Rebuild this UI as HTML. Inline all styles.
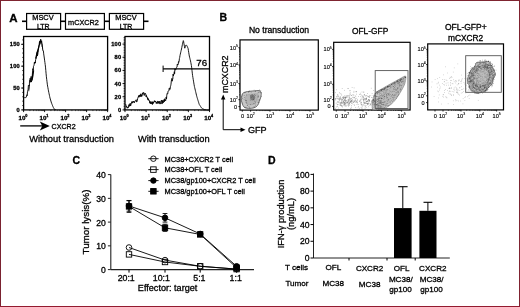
<!DOCTYPE html>
<html><head><meta charset="utf-8"><title>Figure</title>
<style>
html,body{margin:0;padding:0;background:#fff;}
body{width:520px;height:307px;overflow:hidden;}
svg{display:block;}
text{font-family:"Liberation Sans", Arial, Helvetica, sans-serif;fill:#000;stroke:#000;stroke-width:0.3px;}
</style></head><body>
<svg width="520" height="307" viewBox="0 0 520 307">
<rect x="0" y="0" width="520" height="307" fill="#fff"/>
<text x="9.30" y="22.20" font-size="11.5" text-anchor="start" font-weight="bold" >A</text>
<line x1="22.00" y1="21.30" x2="26.60" y2="21.30" stroke="#000" stroke-width="1.6" />
<rect x="26.60" y="13.50" width="34.00" height="15.80" stroke="#000" stroke-width="1.2" fill="none" />
<text x="42.90" y="20.20" font-size="7.4" text-anchor="middle" font-weight="normal" >MSCV</text>
<text x="43.30" y="28.60" font-size="7.0" text-anchor="middle" font-weight="normal" >LTR</text>
<line x1="60.60" y1="21.30" x2="65.50" y2="21.30" stroke="#000" stroke-width="1.6" />
<rect x="65.50" y="13.50" width="38.90" height="15.80" stroke="#000" stroke-width="1.2" fill="none" />
<text x="83.50" y="24.50" font-size="7.3" text-anchor="middle" font-weight="normal" >mCXCR2</text>
<line x1="104.40" y1="21.30" x2="109.40" y2="21.30" stroke="#000" stroke-width="1.6" />
<rect x="109.40" y="13.50" width="34.20" height="15.80" stroke="#000" stroke-width="1.2" fill="none" />
<text x="125.90" y="20.20" font-size="7.4" text-anchor="middle" font-weight="normal" >MSCV</text>
<text x="126.00" y="28.60" font-size="7.0" text-anchor="middle" font-weight="normal" >LTR</text>
<line x1="143.60" y1="21.30" x2="148.50" y2="21.30" stroke="#000" stroke-width="1.6" />
<rect x="23.60" y="36.50" width="84.00" height="73.40" stroke="#000" stroke-width="1.3" fill="none" />
<line x1="22.20" y1="109.90" x2="23.60" y2="109.90" stroke="#000" stroke-width="0.7" />
<line x1="22.20" y1="105.53" x2="23.60" y2="105.53" stroke="#000" stroke-width="0.7" />
<line x1="22.20" y1="101.15" x2="23.60" y2="101.15" stroke="#000" stroke-width="0.7" />
<line x1="22.20" y1="96.78" x2="23.60" y2="96.78" stroke="#000" stroke-width="0.7" />
<line x1="22.20" y1="92.41" x2="23.60" y2="92.41" stroke="#000" stroke-width="0.7" />
<line x1="22.20" y1="88.03" x2="23.60" y2="88.03" stroke="#000" stroke-width="0.7" />
<line x1="22.20" y1="83.66" x2="23.60" y2="83.66" stroke="#000" stroke-width="0.7" />
<line x1="22.20" y1="79.29" x2="23.60" y2="79.29" stroke="#000" stroke-width="0.7" />
<line x1="22.20" y1="74.92" x2="23.60" y2="74.92" stroke="#000" stroke-width="0.7" />
<line x1="22.20" y1="70.54" x2="23.60" y2="70.54" stroke="#000" stroke-width="0.7" />
<line x1="22.20" y1="66.17" x2="23.60" y2="66.17" stroke="#000" stroke-width="0.7" />
<line x1="22.20" y1="61.80" x2="23.60" y2="61.80" stroke="#000" stroke-width="0.7" />
<line x1="22.20" y1="57.42" x2="23.60" y2="57.42" stroke="#000" stroke-width="0.7" />
<line x1="22.20" y1="53.05" x2="23.60" y2="53.05" stroke="#000" stroke-width="0.7" />
<line x1="22.20" y1="48.68" x2="23.60" y2="48.68" stroke="#000" stroke-width="0.7" />
<line x1="22.20" y1="44.31" x2="23.60" y2="44.31" stroke="#000" stroke-width="0.7" />
<line x1="22.20" y1="39.93" x2="23.60" y2="39.93" stroke="#000" stroke-width="0.7" />
<line x1="21.10" y1="109.90" x2="23.60" y2="109.90" stroke="#000" stroke-width="0.9" />
<text x="20.00" y="111.90" font-size="5.7" text-anchor="end" font-weight="bold" letter-spacing="0.25">0</text>
<line x1="21.10" y1="88.03" x2="23.60" y2="88.03" stroke="#000" stroke-width="0.9" />
<text x="20.00" y="90.03" font-size="5.7" text-anchor="end" font-weight="bold" letter-spacing="0.25">50</text>
<line x1="21.10" y1="66.17" x2="23.60" y2="66.17" stroke="#000" stroke-width="0.9" />
<text x="20.00" y="68.17" font-size="5.7" text-anchor="end" font-weight="bold" letter-spacing="0.25">100</text>
<line x1="21.10" y1="44.31" x2="23.60" y2="44.31" stroke="#000" stroke-width="0.9" />
<text x="20.00" y="46.31" font-size="5.7" text-anchor="end" font-weight="bold" letter-spacing="0.25">150</text>
<line x1="23.60" y1="109.90" x2="23.60" y2="112.10" stroke="#000" stroke-width="0.9" />
<text x="21.90" y="119.60" font-size="6.2" text-anchor="middle" font-weight="bold" >10</text>
<text x="25.20" y="116.60" font-size="3.8" text-anchor="start" font-weight="bold" >0</text>
<line x1="29.92" y1="109.90" x2="29.92" y2="111.10" stroke="#000" stroke-width="0.6" />
<line x1="33.62" y1="109.90" x2="33.62" y2="111.10" stroke="#000" stroke-width="0.6" />
<line x1="36.24" y1="109.90" x2="36.24" y2="111.10" stroke="#000" stroke-width="0.6" />
<line x1="38.28" y1="109.90" x2="38.28" y2="111.10" stroke="#000" stroke-width="0.6" />
<line x1="39.94" y1="109.90" x2="39.94" y2="111.10" stroke="#000" stroke-width="0.6" />
<line x1="41.35" y1="109.90" x2="41.35" y2="111.10" stroke="#000" stroke-width="0.6" />
<line x1="42.56" y1="109.90" x2="42.56" y2="111.10" stroke="#000" stroke-width="0.6" />
<line x1="43.64" y1="109.90" x2="43.64" y2="111.10" stroke="#000" stroke-width="0.6" />
<line x1="44.60" y1="109.90" x2="44.60" y2="112.10" stroke="#000" stroke-width="0.9" />
<text x="42.90" y="119.60" font-size="6.2" text-anchor="middle" font-weight="bold" >10</text>
<text x="46.20" y="116.60" font-size="3.8" text-anchor="start" font-weight="bold" >1</text>
<line x1="50.92" y1="109.90" x2="50.92" y2="111.10" stroke="#000" stroke-width="0.6" />
<line x1="54.62" y1="109.90" x2="54.62" y2="111.10" stroke="#000" stroke-width="0.6" />
<line x1="57.24" y1="109.90" x2="57.24" y2="111.10" stroke="#000" stroke-width="0.6" />
<line x1="59.28" y1="109.90" x2="59.28" y2="111.10" stroke="#000" stroke-width="0.6" />
<line x1="60.94" y1="109.90" x2="60.94" y2="111.10" stroke="#000" stroke-width="0.6" />
<line x1="62.35" y1="109.90" x2="62.35" y2="111.10" stroke="#000" stroke-width="0.6" />
<line x1="63.56" y1="109.90" x2="63.56" y2="111.10" stroke="#000" stroke-width="0.6" />
<line x1="64.64" y1="109.90" x2="64.64" y2="111.10" stroke="#000" stroke-width="0.6" />
<line x1="65.60" y1="109.90" x2="65.60" y2="112.10" stroke="#000" stroke-width="0.9" />
<text x="63.90" y="119.60" font-size="6.2" text-anchor="middle" font-weight="bold" >10</text>
<text x="67.20" y="116.60" font-size="3.8" text-anchor="start" font-weight="bold" >2</text>
<line x1="71.92" y1="109.90" x2="71.92" y2="111.10" stroke="#000" stroke-width="0.6" />
<line x1="75.62" y1="109.90" x2="75.62" y2="111.10" stroke="#000" stroke-width="0.6" />
<line x1="78.24" y1="109.90" x2="78.24" y2="111.10" stroke="#000" stroke-width="0.6" />
<line x1="80.28" y1="109.90" x2="80.28" y2="111.10" stroke="#000" stroke-width="0.6" />
<line x1="81.94" y1="109.90" x2="81.94" y2="111.10" stroke="#000" stroke-width="0.6" />
<line x1="83.35" y1="109.90" x2="83.35" y2="111.10" stroke="#000" stroke-width="0.6" />
<line x1="84.56" y1="109.90" x2="84.56" y2="111.10" stroke="#000" stroke-width="0.6" />
<line x1="85.64" y1="109.90" x2="85.64" y2="111.10" stroke="#000" stroke-width="0.6" />
<line x1="86.60" y1="109.90" x2="86.60" y2="112.10" stroke="#000" stroke-width="0.9" />
<text x="84.90" y="119.60" font-size="6.2" text-anchor="middle" font-weight="bold" >10</text>
<text x="88.20" y="116.60" font-size="3.8" text-anchor="start" font-weight="bold" >3</text>
<line x1="92.92" y1="109.90" x2="92.92" y2="111.10" stroke="#000" stroke-width="0.6" />
<line x1="96.62" y1="109.90" x2="96.62" y2="111.10" stroke="#000" stroke-width="0.6" />
<line x1="99.24" y1="109.90" x2="99.24" y2="111.10" stroke="#000" stroke-width="0.6" />
<line x1="101.28" y1="109.90" x2="101.28" y2="111.10" stroke="#000" stroke-width="0.6" />
<line x1="102.94" y1="109.90" x2="102.94" y2="111.10" stroke="#000" stroke-width="0.6" />
<line x1="104.35" y1="109.90" x2="104.35" y2="111.10" stroke="#000" stroke-width="0.6" />
<line x1="105.56" y1="109.90" x2="105.56" y2="111.10" stroke="#000" stroke-width="0.6" />
<line x1="106.64" y1="109.90" x2="106.64" y2="111.10" stroke="#000" stroke-width="0.6" />
<line x1="107.60" y1="109.90" x2="107.60" y2="112.10" stroke="#000" stroke-width="0.9" />
<text x="105.90" y="119.60" font-size="6.2" text-anchor="middle" font-weight="bold" >10</text>
<text x="109.20" y="116.60" font-size="3.8" text-anchor="start" font-weight="bold" >4</text>
<rect x="125.00" y="36.50" width="84.50" height="73.40" stroke="#000" stroke-width="1.3" fill="none" />
<line x1="123.60" y1="109.90" x2="125.00" y2="109.90" stroke="#000" stroke-width="0.7" />
<line x1="123.60" y1="108.26" x2="125.00" y2="108.26" stroke="#000" stroke-width="0.7" />
<line x1="123.60" y1="106.61" x2="125.00" y2="106.61" stroke="#000" stroke-width="0.7" />
<line x1="123.60" y1="104.97" x2="125.00" y2="104.97" stroke="#000" stroke-width="0.7" />
<line x1="123.60" y1="103.32" x2="125.00" y2="103.32" stroke="#000" stroke-width="0.7" />
<line x1="123.60" y1="101.68" x2="125.00" y2="101.68" stroke="#000" stroke-width="0.7" />
<line x1="123.60" y1="100.03" x2="125.00" y2="100.03" stroke="#000" stroke-width="0.7" />
<line x1="123.60" y1="98.39" x2="125.00" y2="98.39" stroke="#000" stroke-width="0.7" />
<line x1="123.60" y1="96.74" x2="125.00" y2="96.74" stroke="#000" stroke-width="0.7" />
<line x1="123.60" y1="95.09" x2="125.00" y2="95.09" stroke="#000" stroke-width="0.7" />
<line x1="123.60" y1="93.45" x2="125.00" y2="93.45" stroke="#000" stroke-width="0.7" />
<line x1="123.60" y1="91.81" x2="125.00" y2="91.81" stroke="#000" stroke-width="0.7" />
<line x1="123.60" y1="90.16" x2="125.00" y2="90.16" stroke="#000" stroke-width="0.7" />
<line x1="123.60" y1="88.52" x2="125.00" y2="88.52" stroke="#000" stroke-width="0.7" />
<line x1="123.60" y1="86.87" x2="125.00" y2="86.87" stroke="#000" stroke-width="0.7" />
<line x1="123.60" y1="85.23" x2="125.00" y2="85.23" stroke="#000" stroke-width="0.7" />
<line x1="123.60" y1="83.58" x2="125.00" y2="83.58" stroke="#000" stroke-width="0.7" />
<line x1="123.60" y1="81.94" x2="125.00" y2="81.94" stroke="#000" stroke-width="0.7" />
<line x1="123.60" y1="80.29" x2="125.00" y2="80.29" stroke="#000" stroke-width="0.7" />
<line x1="123.60" y1="78.65" x2="125.00" y2="78.65" stroke="#000" stroke-width="0.7" />
<line x1="123.60" y1="77.00" x2="125.00" y2="77.00" stroke="#000" stroke-width="0.7" />
<line x1="123.60" y1="75.36" x2="125.00" y2="75.36" stroke="#000" stroke-width="0.7" />
<line x1="123.60" y1="73.71" x2="125.00" y2="73.71" stroke="#000" stroke-width="0.7" />
<line x1="123.60" y1="72.06" x2="125.00" y2="72.06" stroke="#000" stroke-width="0.7" />
<line x1="123.60" y1="70.42" x2="125.00" y2="70.42" stroke="#000" stroke-width="0.7" />
<line x1="123.60" y1="68.78" x2="125.00" y2="68.78" stroke="#000" stroke-width="0.7" />
<line x1="123.60" y1="67.13" x2="125.00" y2="67.13" stroke="#000" stroke-width="0.7" />
<line x1="123.60" y1="65.49" x2="125.00" y2="65.49" stroke="#000" stroke-width="0.7" />
<line x1="123.60" y1="63.84" x2="125.00" y2="63.84" stroke="#000" stroke-width="0.7" />
<line x1="123.60" y1="62.20" x2="125.00" y2="62.20" stroke="#000" stroke-width="0.7" />
<line x1="123.60" y1="60.55" x2="125.00" y2="60.55" stroke="#000" stroke-width="0.7" />
<line x1="123.60" y1="58.91" x2="125.00" y2="58.91" stroke="#000" stroke-width="0.7" />
<line x1="123.60" y1="57.26" x2="125.00" y2="57.26" stroke="#000" stroke-width="0.7" />
<line x1="123.60" y1="55.62" x2="125.00" y2="55.62" stroke="#000" stroke-width="0.7" />
<line x1="123.60" y1="53.97" x2="125.00" y2="53.97" stroke="#000" stroke-width="0.7" />
<line x1="123.60" y1="52.33" x2="125.00" y2="52.33" stroke="#000" stroke-width="0.7" />
<line x1="123.60" y1="50.68" x2="125.00" y2="50.68" stroke="#000" stroke-width="0.7" />
<line x1="123.60" y1="49.04" x2="125.00" y2="49.04" stroke="#000" stroke-width="0.7" />
<line x1="123.60" y1="47.39" x2="125.00" y2="47.39" stroke="#000" stroke-width="0.7" />
<line x1="123.60" y1="45.75" x2="125.00" y2="45.75" stroke="#000" stroke-width="0.7" />
<line x1="123.60" y1="44.10" x2="125.00" y2="44.10" stroke="#000" stroke-width="0.7" />
<line x1="123.60" y1="42.45" x2="125.00" y2="42.45" stroke="#000" stroke-width="0.7" />
<line x1="123.60" y1="40.81" x2="125.00" y2="40.81" stroke="#000" stroke-width="0.7" />
<line x1="123.60" y1="39.17" x2="125.00" y2="39.17" stroke="#000" stroke-width="0.7" />
<line x1="123.60" y1="37.52" x2="125.00" y2="37.52" stroke="#000" stroke-width="0.7" />
<line x1="122.50" y1="109.90" x2="125.00" y2="109.90" stroke="#000" stroke-width="0.9" />
<text x="121.40" y="111.90" font-size="5.7" text-anchor="end" font-weight="bold" letter-spacing="0.25">0</text>
<line x1="122.50" y1="96.74" x2="125.00" y2="96.74" stroke="#000" stroke-width="0.9" />
<text x="121.40" y="98.74" font-size="5.7" text-anchor="end" font-weight="bold" letter-spacing="0.25">20</text>
<line x1="122.50" y1="83.58" x2="125.00" y2="83.58" stroke="#000" stroke-width="0.9" />
<text x="121.40" y="85.58" font-size="5.7" text-anchor="end" font-weight="bold" letter-spacing="0.25">40</text>
<line x1="122.50" y1="70.42" x2="125.00" y2="70.42" stroke="#000" stroke-width="0.9" />
<text x="121.40" y="72.42" font-size="5.7" text-anchor="end" font-weight="bold" letter-spacing="0.25">60</text>
<line x1="122.50" y1="57.26" x2="125.00" y2="57.26" stroke="#000" stroke-width="0.9" />
<text x="121.40" y="59.26" font-size="5.7" text-anchor="end" font-weight="bold" letter-spacing="0.25">80</text>
<line x1="122.50" y1="44.10" x2="125.00" y2="44.10" stroke="#000" stroke-width="0.9" />
<text x="121.40" y="46.10" font-size="5.7" text-anchor="end" font-weight="bold" letter-spacing="0.25">100</text>
<line x1="125.00" y1="109.90" x2="125.00" y2="112.10" stroke="#000" stroke-width="0.9" />
<text x="123.30" y="119.60" font-size="6.2" text-anchor="middle" font-weight="bold" >10</text>
<text x="126.60" y="116.60" font-size="3.8" text-anchor="start" font-weight="bold" >0</text>
<line x1="131.36" y1="109.90" x2="131.36" y2="111.10" stroke="#000" stroke-width="0.6" />
<line x1="135.08" y1="109.90" x2="135.08" y2="111.10" stroke="#000" stroke-width="0.6" />
<line x1="137.72" y1="109.90" x2="137.72" y2="111.10" stroke="#000" stroke-width="0.6" />
<line x1="139.77" y1="109.90" x2="139.77" y2="111.10" stroke="#000" stroke-width="0.6" />
<line x1="141.44" y1="109.90" x2="141.44" y2="111.10" stroke="#000" stroke-width="0.6" />
<line x1="142.85" y1="109.90" x2="142.85" y2="111.10" stroke="#000" stroke-width="0.6" />
<line x1="144.08" y1="109.90" x2="144.08" y2="111.10" stroke="#000" stroke-width="0.6" />
<line x1="145.16" y1="109.90" x2="145.16" y2="111.10" stroke="#000" stroke-width="0.6" />
<line x1="146.12" y1="109.90" x2="146.12" y2="112.10" stroke="#000" stroke-width="0.9" />
<text x="144.43" y="119.60" font-size="6.2" text-anchor="middle" font-weight="bold" >10</text>
<text x="147.72" y="116.60" font-size="3.8" text-anchor="start" font-weight="bold" >1</text>
<line x1="152.48" y1="109.90" x2="152.48" y2="111.10" stroke="#000" stroke-width="0.6" />
<line x1="156.20" y1="109.90" x2="156.20" y2="111.10" stroke="#000" stroke-width="0.6" />
<line x1="158.84" y1="109.90" x2="158.84" y2="111.10" stroke="#000" stroke-width="0.6" />
<line x1="160.89" y1="109.90" x2="160.89" y2="111.10" stroke="#000" stroke-width="0.6" />
<line x1="162.56" y1="109.90" x2="162.56" y2="111.10" stroke="#000" stroke-width="0.6" />
<line x1="163.98" y1="109.90" x2="163.98" y2="111.10" stroke="#000" stroke-width="0.6" />
<line x1="165.20" y1="109.90" x2="165.20" y2="111.10" stroke="#000" stroke-width="0.6" />
<line x1="166.28" y1="109.90" x2="166.28" y2="111.10" stroke="#000" stroke-width="0.6" />
<line x1="167.25" y1="109.90" x2="167.25" y2="112.10" stroke="#000" stroke-width="0.9" />
<text x="165.55" y="119.60" font-size="6.2" text-anchor="middle" font-weight="bold" >10</text>
<text x="168.85" y="116.60" font-size="3.8" text-anchor="start" font-weight="bold" >2</text>
<line x1="173.61" y1="109.90" x2="173.61" y2="111.10" stroke="#000" stroke-width="0.6" />
<line x1="177.33" y1="109.90" x2="177.33" y2="111.10" stroke="#000" stroke-width="0.6" />
<line x1="179.97" y1="109.90" x2="179.97" y2="111.10" stroke="#000" stroke-width="0.6" />
<line x1="182.02" y1="109.90" x2="182.02" y2="111.10" stroke="#000" stroke-width="0.6" />
<line x1="183.69" y1="109.90" x2="183.69" y2="111.10" stroke="#000" stroke-width="0.6" />
<line x1="185.10" y1="109.90" x2="185.10" y2="111.10" stroke="#000" stroke-width="0.6" />
<line x1="186.33" y1="109.90" x2="186.33" y2="111.10" stroke="#000" stroke-width="0.6" />
<line x1="187.41" y1="109.90" x2="187.41" y2="111.10" stroke="#000" stroke-width="0.6" />
<line x1="188.38" y1="109.90" x2="188.38" y2="112.10" stroke="#000" stroke-width="0.9" />
<text x="186.68" y="119.60" font-size="6.2" text-anchor="middle" font-weight="bold" >10</text>
<text x="189.97" y="116.60" font-size="3.8" text-anchor="start" font-weight="bold" >3</text>
<line x1="194.73" y1="109.90" x2="194.73" y2="111.10" stroke="#000" stroke-width="0.6" />
<line x1="198.45" y1="109.90" x2="198.45" y2="111.10" stroke="#000" stroke-width="0.6" />
<line x1="201.09" y1="109.90" x2="201.09" y2="111.10" stroke="#000" stroke-width="0.6" />
<line x1="203.14" y1="109.90" x2="203.14" y2="111.10" stroke="#000" stroke-width="0.6" />
<line x1="204.81" y1="109.90" x2="204.81" y2="111.10" stroke="#000" stroke-width="0.6" />
<line x1="206.23" y1="109.90" x2="206.23" y2="111.10" stroke="#000" stroke-width="0.6" />
<line x1="207.45" y1="109.90" x2="207.45" y2="111.10" stroke="#000" stroke-width="0.6" />
<line x1="208.53" y1="109.90" x2="208.53" y2="111.10" stroke="#000" stroke-width="0.6" />
<line x1="209.50" y1="109.90" x2="209.50" y2="112.10" stroke="#000" stroke-width="0.9" />
<text x="207.80" y="119.60" font-size="6.2" text-anchor="middle" font-weight="bold" >10</text>
<text x="211.10" y="116.60" font-size="3.8" text-anchor="start" font-weight="bold" >4</text>
<polyline points="23.90,97.60 24.20,97.60 24.50,97.60 24.80,97.60 25.10,97.60 25.40,97.60 25.70,97.60 26.00,97.60 26.30,97.14 26.60,95.46 26.90,94.76 27.20,95.71 27.50,91.37 27.80,90.24 28.10,89.34 28.40,85.36 28.70,86.04 29.00,85.66 29.30,85.71 29.60,80.24 29.90,80.58 30.20,78.21 30.50,82.21 30.80,81.06 31.10,76.48 31.40,82.09 31.70,80.47 32.00,76.99 32.30,75.24 32.60,70.81 32.90,68.60 33.20,70.58 33.50,66.28 33.80,65.82 34.10,64.85 34.40,62.09 34.70,63.46 35.00,61.90 35.30,63.07 35.60,59.59 35.90,59.16 36.20,57.17 36.50,57.11 36.80,54.69 37.10,52.45 37.40,55.92 37.70,54.76 38.00,52.62 38.30,50.62 38.60,46.96 38.90,45.27 39.20,44.24 39.50,41.44 39.80,44.49 40.10,40.74 40.40,42.19 40.70,39.17 41.00,43.43 41.30,42.07 41.60,40.71 41.90,43.13 42.20,46.93 42.50,47.43 42.80,50.41 43.10,50.33 43.40,50.97 43.70,53.89 44.00,55.95 44.30,58.01 44.60,60.16 44.90,62.35 45.20,64.54 45.50,67.11 45.80,70.44 46.10,73.78 46.40,76.82 46.70,79.27 47.00,81.73 47.30,84.18 47.60,86.08 47.90,87.69 48.20,89.31 48.50,90.92 48.80,92.46 49.10,93.85 49.40,95.23 49.70,96.62 50.00,98.00 50.30,99.00 50.60,100.00 50.90,101.00 51.20,102.00 51.50,103.00 51.80,103.74 52.10,104.48 52.40,105.22 52.70,105.96 53.00,106.71 53.30,107.37 53.60,107.88 53.90,108.38 54.20,108.89 54.50,109.40 54.80,109.50 55.10,109.60 55.40,109.70 55.70,109.80 56.00,109.90" stroke="#000" stroke-width="0.9" fill="none" stroke-linejoin="round" />
<path d="M35.2,58 L36.6,52 L38.2,47 L39.6,42.5 L40.4,42 L39.6,46.5 L38.4,51 L37.0,56.5 L36.0,59.5 Z" fill="#000"/>
<path d="M31.4,80.5 L32.2,74 L33.4,70 L34.2,70.5 L33.6,75 L32.6,80.5 Z" fill="#000"/>
<path d="M28.3,90 L29.0,85 L29.8,84 L29.6,88 L29.0,92 Z" fill="#000"/>
<path d="M41.4,42 L42.4,44 L43.0,48 L42.6,49.5 L41.8,46 Z" fill="#000"/>
<polyline points="125.70,104.15 126.00,105.22 126.30,107.12 126.60,106.38 126.90,107.25 127.20,108.24 127.50,106.93 127.80,107.59 128.10,107.58 128.40,107.71 128.70,105.09 129.00,105.37 129.30,104.36 129.60,106.32 129.90,105.62 130.20,103.20 130.50,105.88 130.80,105.49 131.10,104.16 131.40,103.70 131.70,101.90 132.00,101.49 132.30,103.18 132.60,101.73 132.90,102.19 133.20,102.16 133.50,101.16 133.80,102.22 134.10,101.83 134.40,102.79 134.70,101.43 135.00,101.50 135.30,100.72 135.60,100.92 135.90,100.26 136.20,99.69 136.50,101.99 136.80,101.99 137.10,101.28 137.40,100.23 137.70,98.35 138.00,97.45 138.30,97.02 138.60,95.70 138.90,97.30 139.20,95.51 139.50,96.31 139.80,94.90 140.10,96.79 140.40,96.49 140.70,93.84 141.00,94.57 141.30,96.55 141.60,94.88 141.90,96.25 142.20,94.12 142.50,92.82 142.80,94.34 143.10,94.55 143.40,92.66 143.70,92.28 144.00,93.26 144.30,95.49 144.60,95.03 144.90,93.18 145.20,93.79 145.50,93.52 145.80,93.93 146.10,96.83 146.40,95.39 146.70,97.16 147.00,97.34 147.30,97.06 147.60,99.34 147.90,97.95 148.20,100.14 148.50,98.99 148.80,100.37 149.10,100.03 149.40,100.55 149.70,103.12 150.00,102.92 150.30,101.65 150.60,103.76 150.90,101.67 151.20,102.34 151.50,103.88 151.80,103.28 152.10,101.62 152.40,104.54 152.70,101.99 153.00,101.99 153.30,103.49 153.60,101.92 153.90,101.67 154.20,100.82 154.50,100.73 154.80,102.16 155.10,100.93 155.40,102.09 155.70,101.46 156.00,101.82 156.30,103.54 156.60,102.11 156.90,102.51 157.20,103.46 157.50,101.26 157.80,101.15 158.10,103.55 158.40,103.25 158.70,101.41 159.00,101.21 159.30,102.95 159.60,103.57 159.90,101.17 160.20,104.10 160.50,103.78 160.80,102.54 161.10,101.71 161.40,100.30 161.70,99.99 162.00,104.04 162.30,100.70 162.60,102.60 162.90,100.48 163.20,102.82 163.50,101.67 163.80,100.19 164.10,99.52 164.40,101.77 164.70,98.75 165.00,99.30 165.30,100.42 165.60,100.97 165.90,99.18 166.20,96.97 166.50,99.04 166.80,95.16 167.10,93.60 167.40,93.97 167.70,94.01 168.00,91.45 168.30,91.04 168.60,90.96 168.90,90.93 169.20,88.07 169.50,88.16 169.80,89.57 170.10,89.04 170.40,86.69 170.70,85.75 171.00,84.18 171.30,81.13 171.60,79.57 171.90,78.40 172.20,81.23 172.50,79.21 172.80,79.27 173.10,74.09 173.40,75.87 173.70,74.27 174.00,74.44 174.30,71.70 174.60,73.77 174.90,68.79 175.20,69.93 175.50,69.85 175.80,69.82 176.10,68.43 176.40,67.62 176.70,67.34 177.00,67.19 177.30,64.03 177.60,64.81 177.90,65.08 178.20,64.27 178.50,61.59 178.80,62.32 179.10,61.26 179.40,58.61 179.70,57.46 180.00,55.54 180.30,54.16 180.60,52.85 180.90,51.56 181.20,50.28 181.50,49.00 181.80,47.50 182.10,46.00 182.40,44.50 182.70,43.16 183.00,41.89 183.30,40.62 183.60,41.47 183.90,43.37 184.20,45.05 184.50,46.63 184.80,48.20 185.10,47.24 185.40,46.28 185.70,45.32 186.00,45.08 186.30,45.20 186.60,45.32 186.90,45.63 187.20,46.31 187.50,47.00 187.80,47.75 188.10,48.50 188.40,50.38 188.70,52.25 189.00,54.13 189.30,56.00 189.60,57.20 189.90,58.40 190.20,59.60 190.50,60.91 190.80,62.44 191.10,63.96 191.40,65.49 191.70,67.80 192.00,70.50 192.30,73.20 192.60,75.61 192.90,77.44 193.20,79.28 193.50,81.11 193.80,82.94 194.10,84.78 194.40,86.42 194.70,87.68 195.00,88.94 195.30,90.20 195.60,91.46 195.90,92.72 196.20,93.98 196.50,95.24 196.80,96.50 197.10,97.48 197.40,98.45 197.70,99.43 198.00,100.40 198.30,101.38 198.60,102.35 198.90,103.33 199.20,104.30 199.50,104.77 199.80,105.24 200.10,105.70 200.40,106.17 200.70,106.64 201.00,107.11 201.30,107.58 201.60,108.04 201.90,108.30 202.20,108.45 202.50,108.60 202.80,108.75 203.10,108.90 203.40,109.05 203.70,109.20 204.00,109.35 204.30,109.50 204.60,109.57 204.90,109.64 205.20,109.71 205.50,109.78 205.80,109.85" stroke="#000" stroke-width="0.9" fill="none" stroke-linejoin="round" />
<line x1="163.10" y1="68.80" x2="209.50" y2="68.80" stroke="#000" stroke-width="1.2" />
<line x1="163.10" y1="65.60" x2="163.10" y2="72.00" stroke="#000" stroke-width="1.0" />
<text x="196.20" y="65.60" font-size="9.8" text-anchor="start" font-weight="normal" >76</text>
<line x1="20.20" y1="125.90" x2="43.00" y2="125.90" stroke="#000" stroke-width="1.3" />
<path d="M49.8,125.9 L39.8,121.4 L42.3,125.9 L39.8,130.4 Z" fill="#000"/>
<text x="51.60" y="128.60" font-size="7.1" text-anchor="start" font-weight="normal" >CXCR2</text>
<text x="71.60" y="141.70" font-size="9.3" text-anchor="middle" font-weight="normal" >Without transduction</text>
<text x="173.80" y="141.70" font-size="9.3" text-anchor="middle" font-weight="normal" >With transduction</text>
<text x="219.60" y="21.40" font-size="10.5" text-anchor="start" font-weight="bold" >B</text>
<rect x="240.00" y="39.90" width="78.30" height="70.20" stroke="#000" stroke-width="1.2" fill="none" />
<line x1="242.30" y1="110.10" x2="242.30" y2="111.70" stroke="#000" stroke-width="0.8" />
<text x="242.60" y="118.00" font-size="5.6" text-anchor="middle" font-weight="normal" style="stroke-width:0.12px">0</text>
<line x1="250.60" y1="110.10" x2="250.60" y2="111.70" stroke="#000" stroke-width="0.8" />
<text x="249.70" y="118.00" font-size="5.6" text-anchor="middle" font-weight="normal" style="stroke-width:0.12px">10</text>
<text x="252.80" y="115.40" font-size="3.5" text-anchor="start" font-weight="normal" style="stroke-width:0.12px">2</text>
<line x1="270.00" y1="110.10" x2="270.00" y2="111.70" stroke="#000" stroke-width="0.8" />
<text x="269.10" y="118.00" font-size="5.6" text-anchor="middle" font-weight="normal" style="stroke-width:0.12px">10</text>
<text x="272.20" y="115.40" font-size="3.5" text-anchor="start" font-weight="normal" style="stroke-width:0.12px">3</text>
<line x1="290.00" y1="110.10" x2="290.00" y2="111.70" stroke="#000" stroke-width="0.8" />
<text x="289.10" y="118.00" font-size="5.6" text-anchor="middle" font-weight="normal" style="stroke-width:0.12px">10</text>
<text x="292.20" y="115.40" font-size="3.5" text-anchor="start" font-weight="normal" style="stroke-width:0.12px">4</text>
<line x1="310.00" y1="110.10" x2="310.00" y2="111.70" stroke="#000" stroke-width="0.8" />
<text x="309.10" y="118.00" font-size="5.6" text-anchor="middle" font-weight="normal" style="stroke-width:0.12px">10</text>
<text x="312.20" y="115.40" font-size="3.5" text-anchor="start" font-weight="normal" style="stroke-width:0.12px">5</text>
<line x1="256.44" y1="110.10" x2="256.44" y2="111.10" stroke="#000" stroke-width="0.55" />
<line x1="259.86" y1="110.10" x2="259.86" y2="111.10" stroke="#000" stroke-width="0.55" />
<line x1="262.28" y1="110.10" x2="262.28" y2="111.10" stroke="#000" stroke-width="0.55" />
<line x1="264.16" y1="110.10" x2="264.16" y2="111.10" stroke="#000" stroke-width="0.55" />
<line x1="265.70" y1="110.10" x2="265.70" y2="111.10" stroke="#000" stroke-width="0.55" />
<line x1="266.99" y1="110.10" x2="266.99" y2="111.10" stroke="#000" stroke-width="0.55" />
<line x1="268.12" y1="110.10" x2="268.12" y2="111.10" stroke="#000" stroke-width="0.55" />
<line x1="269.11" y1="110.10" x2="269.11" y2="111.10" stroke="#000" stroke-width="0.55" />
<line x1="276.02" y1="110.10" x2="276.02" y2="111.10" stroke="#000" stroke-width="0.55" />
<line x1="279.54" y1="110.10" x2="279.54" y2="111.10" stroke="#000" stroke-width="0.55" />
<line x1="282.04" y1="110.10" x2="282.04" y2="111.10" stroke="#000" stroke-width="0.55" />
<line x1="283.98" y1="110.10" x2="283.98" y2="111.10" stroke="#000" stroke-width="0.55" />
<line x1="285.56" y1="110.10" x2="285.56" y2="111.10" stroke="#000" stroke-width="0.55" />
<line x1="286.90" y1="110.10" x2="286.90" y2="111.10" stroke="#000" stroke-width="0.55" />
<line x1="288.06" y1="110.10" x2="288.06" y2="111.10" stroke="#000" stroke-width="0.55" />
<line x1="289.08" y1="110.10" x2="289.08" y2="111.10" stroke="#000" stroke-width="0.55" />
<line x1="296.02" y1="110.10" x2="296.02" y2="111.10" stroke="#000" stroke-width="0.55" />
<line x1="299.54" y1="110.10" x2="299.54" y2="111.10" stroke="#000" stroke-width="0.55" />
<line x1="302.04" y1="110.10" x2="302.04" y2="111.10" stroke="#000" stroke-width="0.55" />
<line x1="303.98" y1="110.10" x2="303.98" y2="111.10" stroke="#000" stroke-width="0.55" />
<line x1="305.56" y1="110.10" x2="305.56" y2="111.10" stroke="#000" stroke-width="0.55" />
<line x1="306.90" y1="110.10" x2="306.90" y2="111.10" stroke="#000" stroke-width="0.55" />
<line x1="308.06" y1="110.10" x2="308.06" y2="111.10" stroke="#000" stroke-width="0.55" />
<line x1="309.08" y1="110.10" x2="309.08" y2="111.10" stroke="#000" stroke-width="0.55" />
<line x1="238.40" y1="106.60" x2="240.00" y2="106.60" stroke="#000" stroke-width="0.8" />
<text x="237.00" y="108.60" font-size="5.6" text-anchor="end" font-weight="normal" style="stroke-width:0.12px">0</text>
<line x1="238.40" y1="99.70" x2="240.00" y2="99.70" stroke="#000" stroke-width="0.8" />
<text x="236.10" y="101.70" font-size="5.6" text-anchor="end" font-weight="normal" style="stroke-width:0.12px">10</text>
<text x="236.00" y="99.30" font-size="3.5" text-anchor="start" font-weight="normal" style="stroke-width:0.12px">2</text>
<line x1="238.40" y1="83.60" x2="240.00" y2="83.60" stroke="#000" stroke-width="0.8" />
<text x="236.10" y="85.60" font-size="5.6" text-anchor="end" font-weight="normal" style="stroke-width:0.12px">10</text>
<text x="236.00" y="83.20" font-size="3.5" text-anchor="start" font-weight="normal" style="stroke-width:0.12px">3</text>
<line x1="238.40" y1="64.90" x2="240.00" y2="64.90" stroke="#000" stroke-width="0.8" />
<text x="236.10" y="66.90" font-size="5.6" text-anchor="end" font-weight="normal" style="stroke-width:0.12px">10</text>
<text x="236.00" y="64.50" font-size="3.5" text-anchor="start" font-weight="normal" style="stroke-width:0.12px">4</text>
<line x1="238.40" y1="47.70" x2="240.00" y2="47.70" stroke="#000" stroke-width="0.8" />
<text x="236.10" y="49.70" font-size="5.6" text-anchor="end" font-weight="normal" style="stroke-width:0.12px">10</text>
<text x="236.00" y="47.30" font-size="3.5" text-anchor="start" font-weight="normal" style="stroke-width:0.12px">5</text>
<line x1="239.00" y1="94.85" x2="240.00" y2="94.85" stroke="#000" stroke-width="0.55" />
<line x1="239.00" y1="92.02" x2="240.00" y2="92.02" stroke="#000" stroke-width="0.55" />
<line x1="239.00" y1="90.01" x2="240.00" y2="90.01" stroke="#000" stroke-width="0.55" />
<line x1="239.00" y1="88.45" x2="240.00" y2="88.45" stroke="#000" stroke-width="0.55" />
<line x1="239.00" y1="87.17" x2="240.00" y2="87.17" stroke="#000" stroke-width="0.55" />
<line x1="239.00" y1="86.09" x2="240.00" y2="86.09" stroke="#000" stroke-width="0.55" />
<line x1="239.00" y1="85.16" x2="240.00" y2="85.16" stroke="#000" stroke-width="0.55" />
<line x1="239.00" y1="84.34" x2="240.00" y2="84.34" stroke="#000" stroke-width="0.55" />
<line x1="239.00" y1="77.97" x2="240.00" y2="77.97" stroke="#000" stroke-width="0.55" />
<line x1="239.00" y1="74.68" x2="240.00" y2="74.68" stroke="#000" stroke-width="0.55" />
<line x1="239.00" y1="72.34" x2="240.00" y2="72.34" stroke="#000" stroke-width="0.55" />
<line x1="239.00" y1="70.53" x2="240.00" y2="70.53" stroke="#000" stroke-width="0.55" />
<line x1="239.00" y1="69.05" x2="240.00" y2="69.05" stroke="#000" stroke-width="0.55" />
<line x1="239.00" y1="67.80" x2="240.00" y2="67.80" stroke="#000" stroke-width="0.55" />
<line x1="239.00" y1="66.71" x2="240.00" y2="66.71" stroke="#000" stroke-width="0.55" />
<line x1="239.00" y1="65.76" x2="240.00" y2="65.76" stroke="#000" stroke-width="0.55" />
<line x1="239.00" y1="59.72" x2="240.00" y2="59.72" stroke="#000" stroke-width="0.55" />
<line x1="239.00" y1="56.69" x2="240.00" y2="56.69" stroke="#000" stroke-width="0.55" />
<line x1="239.00" y1="54.54" x2="240.00" y2="54.54" stroke="#000" stroke-width="0.55" />
<line x1="239.00" y1="52.88" x2="240.00" y2="52.88" stroke="#000" stroke-width="0.55" />
<line x1="239.00" y1="51.52" x2="240.00" y2="51.52" stroke="#000" stroke-width="0.55" />
<line x1="239.00" y1="50.36" x2="240.00" y2="50.36" stroke="#000" stroke-width="0.55" />
<line x1="239.00" y1="49.37" x2="240.00" y2="49.37" stroke="#000" stroke-width="0.55" />
<line x1="239.00" y1="48.49" x2="240.00" y2="48.49" stroke="#000" stroke-width="0.55" />
<rect x="333.70" y="42.30" width="76.40" height="67.70" stroke="#000" stroke-width="1.2" fill="none" />
<line x1="336.30" y1="110.00" x2="336.30" y2="111.60" stroke="#000" stroke-width="0.8" />
<text x="336.60" y="118.00" font-size="5.6" text-anchor="middle" font-weight="normal" style="stroke-width:0.12px">0</text>
<line x1="345.00" y1="110.00" x2="345.00" y2="111.60" stroke="#000" stroke-width="0.8" />
<text x="344.10" y="118.00" font-size="5.6" text-anchor="middle" font-weight="normal" style="stroke-width:0.12px">10</text>
<text x="347.20" y="115.40" font-size="3.5" text-anchor="start" font-weight="normal" style="stroke-width:0.12px">2</text>
<line x1="363.00" y1="110.00" x2="363.00" y2="111.60" stroke="#000" stroke-width="0.8" />
<text x="362.10" y="118.00" font-size="5.6" text-anchor="middle" font-weight="normal" style="stroke-width:0.12px">10</text>
<text x="365.20" y="115.40" font-size="3.5" text-anchor="start" font-weight="normal" style="stroke-width:0.12px">3</text>
<line x1="381.50" y1="110.00" x2="381.50" y2="111.60" stroke="#000" stroke-width="0.8" />
<text x="380.60" y="118.00" font-size="5.6" text-anchor="middle" font-weight="normal" style="stroke-width:0.12px">10</text>
<text x="383.70" y="115.40" font-size="3.5" text-anchor="start" font-weight="normal" style="stroke-width:0.12px">4</text>
<line x1="401.60" y1="110.00" x2="401.60" y2="111.60" stroke="#000" stroke-width="0.8" />
<text x="400.70" y="118.00" font-size="5.6" text-anchor="middle" font-weight="normal" style="stroke-width:0.12px">10</text>
<text x="403.80" y="115.40" font-size="3.5" text-anchor="start" font-weight="normal" style="stroke-width:0.12px">5</text>
<line x1="350.42" y1="110.00" x2="350.42" y2="111.00" stroke="#000" stroke-width="0.55" />
<line x1="353.59" y1="110.00" x2="353.59" y2="111.00" stroke="#000" stroke-width="0.55" />
<line x1="355.84" y1="110.00" x2="355.84" y2="111.00" stroke="#000" stroke-width="0.55" />
<line x1="357.58" y1="110.00" x2="357.58" y2="111.00" stroke="#000" stroke-width="0.55" />
<line x1="359.01" y1="110.00" x2="359.01" y2="111.00" stroke="#000" stroke-width="0.55" />
<line x1="360.21" y1="110.00" x2="360.21" y2="111.00" stroke="#000" stroke-width="0.55" />
<line x1="361.26" y1="110.00" x2="361.26" y2="111.00" stroke="#000" stroke-width="0.55" />
<line x1="362.18" y1="110.00" x2="362.18" y2="111.00" stroke="#000" stroke-width="0.55" />
<line x1="368.57" y1="110.00" x2="368.57" y2="111.00" stroke="#000" stroke-width="0.55" />
<line x1="371.83" y1="110.00" x2="371.83" y2="111.00" stroke="#000" stroke-width="0.55" />
<line x1="374.14" y1="110.00" x2="374.14" y2="111.00" stroke="#000" stroke-width="0.55" />
<line x1="375.93" y1="110.00" x2="375.93" y2="111.00" stroke="#000" stroke-width="0.55" />
<line x1="377.40" y1="110.00" x2="377.40" y2="111.00" stroke="#000" stroke-width="0.55" />
<line x1="378.63" y1="110.00" x2="378.63" y2="111.00" stroke="#000" stroke-width="0.55" />
<line x1="379.71" y1="110.00" x2="379.71" y2="111.00" stroke="#000" stroke-width="0.55" />
<line x1="380.65" y1="110.00" x2="380.65" y2="111.00" stroke="#000" stroke-width="0.55" />
<line x1="387.55" y1="110.00" x2="387.55" y2="111.00" stroke="#000" stroke-width="0.55" />
<line x1="391.09" y1="110.00" x2="391.09" y2="111.00" stroke="#000" stroke-width="0.55" />
<line x1="393.60" y1="110.00" x2="393.60" y2="111.00" stroke="#000" stroke-width="0.55" />
<line x1="395.55" y1="110.00" x2="395.55" y2="111.00" stroke="#000" stroke-width="0.55" />
<line x1="397.14" y1="110.00" x2="397.14" y2="111.00" stroke="#000" stroke-width="0.55" />
<line x1="398.49" y1="110.00" x2="398.49" y2="111.00" stroke="#000" stroke-width="0.55" />
<line x1="399.65" y1="110.00" x2="399.65" y2="111.00" stroke="#000" stroke-width="0.55" />
<line x1="400.68" y1="110.00" x2="400.68" y2="111.00" stroke="#000" stroke-width="0.55" />
<line x1="332.10" y1="106.40" x2="333.70" y2="106.40" stroke="#000" stroke-width="0.8" />
<text x="330.70" y="108.40" font-size="5.6" text-anchor="end" font-weight="normal" style="stroke-width:0.12px">0</text>
<line x1="332.10" y1="99.60" x2="333.70" y2="99.60" stroke="#000" stroke-width="0.8" />
<text x="329.80" y="101.60" font-size="5.6" text-anchor="end" font-weight="normal" style="stroke-width:0.12px">10</text>
<text x="329.70" y="99.20" font-size="3.5" text-anchor="start" font-weight="normal" style="stroke-width:0.12px">2</text>
<line x1="332.10" y1="84.30" x2="333.70" y2="84.30" stroke="#000" stroke-width="0.8" />
<text x="329.80" y="86.30" font-size="5.6" text-anchor="end" font-weight="normal" style="stroke-width:0.12px">10</text>
<text x="329.70" y="83.90" font-size="3.5" text-anchor="start" font-weight="normal" style="stroke-width:0.12px">3</text>
<line x1="332.10" y1="66.50" x2="333.70" y2="66.50" stroke="#000" stroke-width="0.8" />
<text x="329.80" y="68.50" font-size="5.6" text-anchor="end" font-weight="normal" style="stroke-width:0.12px">10</text>
<text x="329.70" y="66.10" font-size="3.5" text-anchor="start" font-weight="normal" style="stroke-width:0.12px">4</text>
<line x1="332.10" y1="49.40" x2="333.70" y2="49.40" stroke="#000" stroke-width="0.8" />
<text x="329.80" y="51.40" font-size="5.6" text-anchor="end" font-weight="normal" style="stroke-width:0.12px">10</text>
<text x="329.70" y="49.00" font-size="3.5" text-anchor="start" font-weight="normal" style="stroke-width:0.12px">5</text>
<line x1="332.70" y1="94.99" x2="333.70" y2="94.99" stroke="#000" stroke-width="0.55" />
<line x1="332.70" y1="92.30" x2="333.70" y2="92.30" stroke="#000" stroke-width="0.55" />
<line x1="332.70" y1="90.39" x2="333.70" y2="90.39" stroke="#000" stroke-width="0.55" />
<line x1="332.70" y1="88.91" x2="333.70" y2="88.91" stroke="#000" stroke-width="0.55" />
<line x1="332.70" y1="87.69" x2="333.70" y2="87.69" stroke="#000" stroke-width="0.55" />
<line x1="332.70" y1="86.67" x2="333.70" y2="86.67" stroke="#000" stroke-width="0.55" />
<line x1="332.70" y1="85.78" x2="333.70" y2="85.78" stroke="#000" stroke-width="0.55" />
<line x1="332.70" y1="85.00" x2="333.70" y2="85.00" stroke="#000" stroke-width="0.55" />
<line x1="332.70" y1="78.94" x2="333.70" y2="78.94" stroke="#000" stroke-width="0.55" />
<line x1="332.70" y1="75.81" x2="333.70" y2="75.81" stroke="#000" stroke-width="0.55" />
<line x1="332.70" y1="73.58" x2="333.70" y2="73.58" stroke="#000" stroke-width="0.55" />
<line x1="332.70" y1="71.86" x2="333.70" y2="71.86" stroke="#000" stroke-width="0.55" />
<line x1="332.70" y1="70.45" x2="333.70" y2="70.45" stroke="#000" stroke-width="0.55" />
<line x1="332.70" y1="69.26" x2="333.70" y2="69.26" stroke="#000" stroke-width="0.55" />
<line x1="332.70" y1="68.22" x2="333.70" y2="68.22" stroke="#000" stroke-width="0.55" />
<line x1="332.70" y1="67.31" x2="333.70" y2="67.31" stroke="#000" stroke-width="0.55" />
<line x1="332.70" y1="61.35" x2="333.70" y2="61.35" stroke="#000" stroke-width="0.55" />
<line x1="332.70" y1="58.34" x2="333.70" y2="58.34" stroke="#000" stroke-width="0.55" />
<line x1="332.70" y1="56.20" x2="333.70" y2="56.20" stroke="#000" stroke-width="0.55" />
<line x1="332.70" y1="54.55" x2="333.70" y2="54.55" stroke="#000" stroke-width="0.55" />
<line x1="332.70" y1="53.19" x2="333.70" y2="53.19" stroke="#000" stroke-width="0.55" />
<line x1="332.70" y1="52.05" x2="333.70" y2="52.05" stroke="#000" stroke-width="0.55" />
<line x1="332.70" y1="51.06" x2="333.70" y2="51.06" stroke="#000" stroke-width="0.55" />
<line x1="332.70" y1="50.18" x2="333.70" y2="50.18" stroke="#000" stroke-width="0.55" />
<rect x="427.70" y="43.90" width="75.80" height="66.00" stroke="#000" stroke-width="1.2" fill="none" />
<line x1="435.00" y1="109.90" x2="435.00" y2="111.50" stroke="#000" stroke-width="0.8" />
<text x="435.30" y="118.00" font-size="5.6" text-anchor="middle" font-weight="normal" style="stroke-width:0.12px">0</text>
<line x1="443.00" y1="109.90" x2="443.00" y2="111.50" stroke="#000" stroke-width="0.8" />
<text x="442.10" y="118.00" font-size="5.6" text-anchor="middle" font-weight="normal" style="stroke-width:0.12px">10</text>
<text x="445.20" y="115.40" font-size="3.5" text-anchor="start" font-weight="normal" style="stroke-width:0.12px">2</text>
<line x1="461.00" y1="109.90" x2="461.00" y2="111.50" stroke="#000" stroke-width="0.8" />
<text x="460.10" y="118.00" font-size="5.6" text-anchor="middle" font-weight="normal" style="stroke-width:0.12px">10</text>
<text x="463.20" y="115.40" font-size="3.5" text-anchor="start" font-weight="normal" style="stroke-width:0.12px">3</text>
<line x1="479.80" y1="109.90" x2="479.80" y2="111.50" stroke="#000" stroke-width="0.8" />
<text x="478.90" y="118.00" font-size="5.6" text-anchor="middle" font-weight="normal" style="stroke-width:0.12px">10</text>
<text x="482.00" y="115.40" font-size="3.5" text-anchor="start" font-weight="normal" style="stroke-width:0.12px">4</text>
<line x1="496.60" y1="109.90" x2="496.60" y2="111.50" stroke="#000" stroke-width="0.8" />
<text x="495.70" y="118.00" font-size="5.6" text-anchor="middle" font-weight="normal" style="stroke-width:0.12px">10</text>
<text x="498.80" y="115.40" font-size="3.5" text-anchor="start" font-weight="normal" style="stroke-width:0.12px">5</text>
<line x1="448.42" y1="109.90" x2="448.42" y2="110.90" stroke="#000" stroke-width="0.55" />
<line x1="451.59" y1="109.90" x2="451.59" y2="110.90" stroke="#000" stroke-width="0.55" />
<line x1="453.84" y1="109.90" x2="453.84" y2="110.90" stroke="#000" stroke-width="0.55" />
<line x1="455.58" y1="109.90" x2="455.58" y2="110.90" stroke="#000" stroke-width="0.55" />
<line x1="457.01" y1="109.90" x2="457.01" y2="110.90" stroke="#000" stroke-width="0.55" />
<line x1="458.21" y1="109.90" x2="458.21" y2="110.90" stroke="#000" stroke-width="0.55" />
<line x1="459.26" y1="109.90" x2="459.26" y2="110.90" stroke="#000" stroke-width="0.55" />
<line x1="460.18" y1="109.90" x2="460.18" y2="110.90" stroke="#000" stroke-width="0.55" />
<line x1="466.66" y1="109.90" x2="466.66" y2="110.90" stroke="#000" stroke-width="0.55" />
<line x1="469.97" y1="109.90" x2="469.97" y2="110.90" stroke="#000" stroke-width="0.55" />
<line x1="472.32" y1="109.90" x2="472.32" y2="110.90" stroke="#000" stroke-width="0.55" />
<line x1="474.14" y1="109.90" x2="474.14" y2="110.90" stroke="#000" stroke-width="0.55" />
<line x1="475.63" y1="109.90" x2="475.63" y2="110.90" stroke="#000" stroke-width="0.55" />
<line x1="476.89" y1="109.90" x2="476.89" y2="110.90" stroke="#000" stroke-width="0.55" />
<line x1="477.98" y1="109.90" x2="477.98" y2="110.90" stroke="#000" stroke-width="0.55" />
<line x1="478.94" y1="109.90" x2="478.94" y2="110.90" stroke="#000" stroke-width="0.55" />
<line x1="484.86" y1="109.90" x2="484.86" y2="110.90" stroke="#000" stroke-width="0.55" />
<line x1="487.82" y1="109.90" x2="487.82" y2="110.90" stroke="#000" stroke-width="0.55" />
<line x1="489.91" y1="109.90" x2="489.91" y2="110.90" stroke="#000" stroke-width="0.55" />
<line x1="491.54" y1="109.90" x2="491.54" y2="110.90" stroke="#000" stroke-width="0.55" />
<line x1="492.87" y1="109.90" x2="492.87" y2="110.90" stroke="#000" stroke-width="0.55" />
<line x1="494.00" y1="109.90" x2="494.00" y2="110.90" stroke="#000" stroke-width="0.55" />
<line x1="494.97" y1="109.90" x2="494.97" y2="110.90" stroke="#000" stroke-width="0.55" />
<line x1="495.83" y1="109.90" x2="495.83" y2="110.90" stroke="#000" stroke-width="0.55" />
<line x1="426.10" y1="102.60" x2="427.70" y2="102.60" stroke="#000" stroke-width="0.8" />
<text x="424.70" y="104.60" font-size="5.6" text-anchor="end" font-weight="normal" style="stroke-width:0.12px">0</text>
<line x1="426.10" y1="95.80" x2="427.70" y2="95.80" stroke="#000" stroke-width="0.8" />
<text x="423.80" y="97.80" font-size="5.6" text-anchor="end" font-weight="normal" style="stroke-width:0.12px">10</text>
<text x="423.70" y="95.40" font-size="3.5" text-anchor="start" font-weight="normal" style="stroke-width:0.12px">2</text>
<line x1="426.10" y1="80.90" x2="427.70" y2="80.90" stroke="#000" stroke-width="0.8" />
<text x="423.80" y="82.90" font-size="5.6" text-anchor="end" font-weight="normal" style="stroke-width:0.12px">10</text>
<text x="423.70" y="80.50" font-size="3.5" text-anchor="start" font-weight="normal" style="stroke-width:0.12px">3</text>
<line x1="426.10" y1="64.50" x2="427.70" y2="64.50" stroke="#000" stroke-width="0.8" />
<text x="423.80" y="66.50" font-size="5.6" text-anchor="end" font-weight="normal" style="stroke-width:0.12px">10</text>
<text x="423.70" y="64.10" font-size="3.5" text-anchor="start" font-weight="normal" style="stroke-width:0.12px">4</text>
<line x1="426.10" y1="49.30" x2="427.70" y2="49.30" stroke="#000" stroke-width="0.8" />
<text x="423.80" y="51.30" font-size="5.6" text-anchor="end" font-weight="normal" style="stroke-width:0.12px">10</text>
<text x="423.70" y="48.90" font-size="3.5" text-anchor="start" font-weight="normal" style="stroke-width:0.12px">5</text>
<line x1="426.70" y1="91.31" x2="427.70" y2="91.31" stroke="#000" stroke-width="0.55" />
<line x1="426.70" y1="88.69" x2="427.70" y2="88.69" stroke="#000" stroke-width="0.55" />
<line x1="426.70" y1="86.83" x2="427.70" y2="86.83" stroke="#000" stroke-width="0.55" />
<line x1="426.70" y1="85.39" x2="427.70" y2="85.39" stroke="#000" stroke-width="0.55" />
<line x1="426.70" y1="84.21" x2="427.70" y2="84.21" stroke="#000" stroke-width="0.55" />
<line x1="426.70" y1="83.21" x2="427.70" y2="83.21" stroke="#000" stroke-width="0.55" />
<line x1="426.70" y1="82.34" x2="427.70" y2="82.34" stroke="#000" stroke-width="0.55" />
<line x1="426.70" y1="81.58" x2="427.70" y2="81.58" stroke="#000" stroke-width="0.55" />
<line x1="426.70" y1="75.96" x2="427.70" y2="75.96" stroke="#000" stroke-width="0.55" />
<line x1="426.70" y1="73.08" x2="427.70" y2="73.08" stroke="#000" stroke-width="0.55" />
<line x1="426.70" y1="71.03" x2="427.70" y2="71.03" stroke="#000" stroke-width="0.55" />
<line x1="426.70" y1="69.44" x2="427.70" y2="69.44" stroke="#000" stroke-width="0.55" />
<line x1="426.70" y1="68.14" x2="427.70" y2="68.14" stroke="#000" stroke-width="0.55" />
<line x1="426.70" y1="67.04" x2="427.70" y2="67.04" stroke="#000" stroke-width="0.55" />
<line x1="426.70" y1="66.09" x2="427.70" y2="66.09" stroke="#000" stroke-width="0.55" />
<line x1="426.70" y1="65.25" x2="427.70" y2="65.25" stroke="#000" stroke-width="0.55" />
<line x1="426.70" y1="59.92" x2="427.70" y2="59.92" stroke="#000" stroke-width="0.55" />
<line x1="426.70" y1="57.25" x2="427.70" y2="57.25" stroke="#000" stroke-width="0.55" />
<line x1="426.70" y1="55.35" x2="427.70" y2="55.35" stroke="#000" stroke-width="0.55" />
<line x1="426.70" y1="53.88" x2="427.70" y2="53.88" stroke="#000" stroke-width="0.55" />
<line x1="426.70" y1="52.67" x2="427.70" y2="52.67" stroke="#000" stroke-width="0.55" />
<line x1="426.70" y1="51.65" x2="427.70" y2="51.65" stroke="#000" stroke-width="0.55" />
<line x1="426.70" y1="50.77" x2="427.70" y2="50.77" stroke="#000" stroke-width="0.55" />
<line x1="426.70" y1="50.00" x2="427.70" y2="50.00" stroke="#000" stroke-width="0.55" />
<text x="279.00" y="33.30" font-size="8.6" text-anchor="middle" font-weight="normal" >No transduction</text>
<text x="370.10" y="33.60" font-size="8.4" text-anchor="middle" font-weight="normal" >OFL-GFP</text>
<text x="465.80" y="29.80" font-size="8.5" text-anchor="middle" font-weight="normal" >OFL-GFP+</text>
<text x="465.60" y="40.60" font-size="8.4" text-anchor="middle" font-weight="normal" >mCXCR2</text>
<line x1="223.20" y1="129.70" x2="223.20" y2="98.00" stroke="#000" stroke-width="1.0" />
<path d="M223.2,94.5 L221.0,99.5 L225.4,99.5 Z" fill="#000"/>
<line x1="223.20" y1="129.70" x2="242.00" y2="129.70" stroke="#000" stroke-width="1.0" />
<path d="M245.5,129.7 L240.5,127.5 L240.5,131.9 Z" fill="#000"/>
<text x="247.90" y="132.60" font-size="9.1" text-anchor="start" font-weight="normal" >GFP</text>
<text x="0.00" y="0.00" font-size="8.9" text-anchor="middle" font-weight="normal" transform="translate(228.4,74.2) rotate(-90)">mCXCR2</text>
<path d="M241.70,97.00 C241.90,95.83 241.97,94.33 242.60,93.50 C243.23,92.67 244.35,92.37 245.50,92.00 C246.65,91.63 248.00,91.48 249.50,91.30 C251.00,91.12 252.92,91.02 254.50,90.90 C256.08,90.78 257.88,90.33 259.00,90.60 C260.12,90.87 260.90,91.43 261.20,92.50 C261.50,93.57 261.12,95.50 260.80,97.00 C260.48,98.50 259.85,100.08 259.30,101.50 C258.75,102.92 258.38,104.45 257.50,105.50 C256.62,106.55 255.50,107.32 254.00,107.80 C252.50,108.28 250.13,108.50 248.50,108.40 C246.87,108.30 245.22,107.93 244.20,107.20 C243.18,106.47 242.87,105.12 242.40,104.00 C241.93,102.88 241.52,101.67 241.40,100.50 C241.28,99.33 241.50,98.17 241.70,97.00 Z" fill="#c6c6c6" stroke="#6e6e6e" stroke-width="1.0"/>
<path d="M245.61,97.76 C245.74,97.04 245.78,96.11 246.17,95.59 C246.56,95.07 247.26,94.89 247.97,94.66 C248.68,94.43 249.52,94.34 250.45,94.23 C251.38,94.11 252.57,94.05 253.55,93.98 C254.53,93.91 255.65,93.63 256.34,93.79 C257.03,93.96 257.52,94.31 257.70,94.97 C257.89,95.63 257.65,96.83 257.46,97.76 C257.26,98.69 256.87,99.67 256.53,100.55 C256.19,101.43 255.96,102.38 255.41,103.03 C254.86,103.68 254.17,104.16 253.24,104.46 C252.31,104.76 250.84,104.89 249.83,104.83 C248.82,104.77 247.79,104.54 247.16,104.08 C246.53,103.63 246.34,102.79 246.05,102.10 C245.76,101.41 245.50,100.65 245.43,99.93 C245.36,99.21 245.49,98.48 245.61,97.76 Z" fill="#b4b4b4" stroke="#999" stroke-width="0.5"/>
<ellipse cx="252.6" cy="97.6" rx="2.6" ry="2.8" fill="#7d7d7d"/>
<g fill="#444" fill-opacity="0.8"><rect x="247.97" y="91.23" width="0.66" height="0.66"/><rect x="257.56" y="92.77" width="0.66" height="0.66"/><rect x="251.62" y="94.03" width="0.66" height="0.66"/><rect x="258.48" y="92.12" width="0.66" height="0.66"/><rect x="245.73" y="102.09" width="0.66" height="0.66"/><rect x="253.42" y="103.12" width="0.66" height="0.66"/><rect x="250.82" y="91.76" width="0.66" height="0.66"/><rect x="251.91" y="94.58" width="0.66" height="0.66"/><rect x="250.89" y="97.19" width="0.66" height="0.66"/><rect x="253.24" y="97.58" width="0.66" height="0.66"/><rect x="241.86" y="94.69" width="0.66" height="0.66"/><rect x="244.96" y="99.97" width="0.66" height="0.66"/><rect x="249.92" y="95.56" width="0.66" height="0.66"/><rect x="248.40" y="92.33" width="0.66" height="0.66"/><rect x="254.12" y="94.03" width="0.66" height="0.66"/><rect x="246.92" y="104.85" width="0.66" height="0.66"/><rect x="246.01" y="100.52" width="0.66" height="0.66"/><rect x="257.56" y="101.82" width="0.66" height="0.66"/><rect x="243.84" y="95.28" width="0.66" height="0.66"/><rect x="242.29" y="98.23" width="0.66" height="0.66"/><rect x="253.80" y="106.48" width="0.66" height="0.66"/><rect x="245.30" y="92.07" width="0.66" height="0.66"/><rect x="249.22" y="90.81" width="0.66" height="0.66"/><rect x="258.05" y="96.01" width="0.66" height="0.66"/><rect x="255.27" y="91.11" width="0.66" height="0.66"/><rect x="240.85" y="99.84" width="0.66" height="0.66"/><rect x="257.79" y="97.08" width="0.66" height="0.66"/><rect x="243.96" y="97.11" width="0.66" height="0.66"/><rect x="259.28" y="99.14" width="0.66" height="0.66"/><rect x="243.97" y="92.46" width="0.66" height="0.66"/><rect x="246.42" y="102.78" width="0.66" height="0.66"/><rect x="258.46" y="102.45" width="0.66" height="0.66"/><rect x="258.86" y="99.81" width="0.66" height="0.66"/><rect x="254.69" y="103.45" width="0.66" height="0.66"/><rect x="254.18" y="100.76" width="0.66" height="0.66"/><rect x="260.46" y="90.34" width="0.66" height="0.66"/><rect x="260.52" y="92.31" width="0.66" height="0.66"/><rect x="255.13" y="95.27" width="0.66" height="0.66"/><rect x="249.93" y="99.78" width="0.66" height="0.66"/><rect x="253.13" y="98.91" width="0.66" height="0.66"/><rect x="241.28" y="96.01" width="0.66" height="0.66"/><rect x="257.63" y="99.70" width="0.66" height="0.66"/><rect x="259.19" y="89.63" width="0.66" height="0.66"/><rect x="251.80" y="96.44" width="0.66" height="0.66"/><rect x="258.14" y="94.83" width="0.66" height="0.66"/><rect x="243.75" y="98.86" width="0.66" height="0.66"/><rect x="248.95" y="107.40" width="0.66" height="0.66"/><rect x="260.58" y="92.17" width="0.66" height="0.66"/><rect x="245.53" y="106.91" width="0.66" height="0.66"/><rect x="248.65" y="106.03" width="0.66" height="0.66"/><rect x="250.52" y="95.46" width="0.66" height="0.66"/><rect x="245.78" y="100.20" width="0.66" height="0.66"/><rect x="250.32" y="104.13" width="0.66" height="0.66"/><rect x="244.05" y="107.16" width="0.66" height="0.66"/><rect x="246.95" y="105.30" width="0.66" height="0.66"/><rect x="255.27" y="101.69" width="0.66" height="0.66"/><rect x="245.62" y="107.62" width="0.66" height="0.66"/><rect x="258.13" y="101.77" width="0.66" height="0.66"/><rect x="249.16" y="90.91" width="0.66" height="0.66"/><rect x="257.72" y="96.00" width="0.66" height="0.66"/><rect x="254.88" y="90.73" width="0.66" height="0.66"/><rect x="258.70" y="91.76" width="0.66" height="0.66"/><rect x="261.12" y="96.23" width="0.66" height="0.66"/><rect x="252.65" y="95.73" width="0.66" height="0.66"/><rect x="253.81" y="89.82" width="0.66" height="0.66"/><rect x="242.34" y="102.72" width="0.66" height="0.66"/><rect x="246.16" y="94.58" width="0.66" height="0.66"/><rect x="252.86" y="99.06" width="0.66" height="0.66"/><rect x="255.23" y="104.81" width="0.66" height="0.66"/><rect x="253.73" y="106.79" width="0.66" height="0.66"/></g>
<g fill="#555" fill-opacity="0.6"><rect x="341.60" y="98.97" width="0.66" height="0.66"/><rect x="354.79" y="95.63" width="0.66" height="0.66"/><rect x="343.74" y="103.19" width="0.66" height="0.66"/><rect x="356.19" y="93.81" width="0.66" height="0.66"/><rect x="355.88" y="101.20" width="0.66" height="0.66"/><rect x="350.25" y="101.50" width="0.66" height="0.66"/><rect x="359.26" y="107.94" width="0.66" height="0.66"/><rect x="344.42" y="104.32" width="0.66" height="0.66"/><rect x="365.69" y="105.00" width="0.66" height="0.66"/><rect x="371.42" y="100.34" width="0.66" height="0.66"/><rect x="348.49" y="100.43" width="0.66" height="0.66"/><rect x="355.57" y="108.90" width="0.66" height="0.66"/><rect x="350.14" y="108.05" width="0.66" height="0.66"/><rect x="341.17" y="102.06" width="0.66" height="0.66"/><rect x="373.64" y="99.19" width="0.66" height="0.66"/><rect x="353.70" y="97.52" width="0.66" height="0.66"/><rect x="355.03" y="99.93" width="0.66" height="0.66"/><rect x="344.53" y="103.12" width="0.66" height="0.66"/><rect x="367.44" y="104.02" width="0.66" height="0.66"/><rect x="366.37" y="101.61" width="0.66" height="0.66"/><rect x="365.32" y="95.65" width="0.66" height="0.66"/><rect x="339.81" y="93.39" width="0.66" height="0.66"/><rect x="343.12" y="102.34" width="0.66" height="0.66"/><rect x="373.44" y="104.45" width="0.66" height="0.66"/><rect x="350.01" y="98.37" width="0.66" height="0.66"/><rect x="353.63" y="90.90" width="0.66" height="0.66"/><rect x="335.80" y="106.74" width="0.66" height="0.66"/><rect x="376.37" y="104.87" width="0.66" height="0.66"/><rect x="355.50" y="95.87" width="0.66" height="0.66"/><rect x="366.09" y="101.45" width="0.66" height="0.66"/><rect x="344.00" y="97.02" width="0.66" height="0.66"/><rect x="360.82" y="97.78" width="0.66" height="0.66"/><rect x="342.26" y="103.04" width="0.66" height="0.66"/><rect x="373.61" y="104.58" width="0.66" height="0.66"/><rect x="349.23" y="98.23" width="0.66" height="0.66"/><rect x="339.01" y="99.11" width="0.66" height="0.66"/><rect x="337.43" y="104.00" width="0.66" height="0.66"/><rect x="350.41" y="94.47" width="0.66" height="0.66"/><rect x="363.37" y="97.14" width="0.66" height="0.66"/><rect x="374.92" y="93.14" width="0.66" height="0.66"/><rect x="359.47" y="100.44" width="0.66" height="0.66"/><rect x="371.76" y="97.10" width="0.66" height="0.66"/><rect x="345.05" y="101.40" width="0.66" height="0.66"/><rect x="371.47" y="102.00" width="0.66" height="0.66"/><rect x="368.49" y="102.53" width="0.66" height="0.66"/><rect x="367.17" y="93.21" width="0.66" height="0.66"/><rect x="336.86" y="102.01" width="0.66" height="0.66"/><rect x="345.51" y="100.08" width="0.66" height="0.66"/><rect x="341.84" y="105.41" width="0.66" height="0.66"/><rect x="337.59" y="96.44" width="0.66" height="0.66"/><rect x="375.97" y="108.82" width="0.66" height="0.66"/><rect x="366.00" y="98.00" width="0.66" height="0.66"/><rect x="374.94" y="101.59" width="0.66" height="0.66"/><rect x="356.75" y="101.04" width="0.66" height="0.66"/><rect x="343.58" y="100.17" width="0.66" height="0.66"/><rect x="369.88" y="103.60" width="0.66" height="0.66"/><rect x="359.93" y="92.84" width="0.66" height="0.66"/><rect x="352.57" y="94.04" width="0.66" height="0.66"/><rect x="347.61" y="97.18" width="0.66" height="0.66"/><rect x="357.11" y="100.00" width="0.66" height="0.66"/><rect x="335.10" y="108.26" width="0.66" height="0.66"/><rect x="363.45" y="102.05" width="0.66" height="0.66"/><rect x="359.60" y="100.91" width="0.66" height="0.66"/><rect x="361.71" y="104.49" width="0.66" height="0.66"/><rect x="345.47" y="96.70" width="0.66" height="0.66"/><rect x="340.28" y="98.83" width="0.66" height="0.66"/><rect x="338.65" y="101.96" width="0.66" height="0.66"/><rect x="353.44" y="101.70" width="0.66" height="0.66"/><rect x="340.58" y="105.29" width="0.66" height="0.66"/><rect x="339.98" y="96.63" width="0.66" height="0.66"/><rect x="357.29" y="98.96" width="0.66" height="0.66"/><rect x="343.89" y="105.55" width="0.66" height="0.66"/><rect x="341.65" y="102.82" width="0.66" height="0.66"/><rect x="364.49" y="104.91" width="0.66" height="0.66"/><rect x="357.77" y="107.51" width="0.66" height="0.66"/><rect x="371.37" y="103.06" width="0.66" height="0.66"/><rect x="367.19" y="101.30" width="0.66" height="0.66"/><rect x="354.15" y="100.66" width="0.66" height="0.66"/><rect x="337.34" y="101.40" width="0.66" height="0.66"/><rect x="364.55" y="98.57" width="0.66" height="0.66"/><rect x="345.29" y="99.97" width="0.66" height="0.66"/><rect x="336.43" y="97.73" width="0.66" height="0.66"/><rect x="351.00" y="97.88" width="0.66" height="0.66"/><rect x="355.80" y="91.44" width="0.66" height="0.66"/><rect x="338.81" y="98.05" width="0.66" height="0.66"/><rect x="359.92" y="94.34" width="0.66" height="0.66"/><rect x="375.29" y="100.82" width="0.66" height="0.66"/><rect x="347.70" y="99.57" width="0.66" height="0.66"/><rect x="358.22" y="96.30" width="0.66" height="0.66"/><rect x="337.35" y="105.73" width="0.66" height="0.66"/><rect x="349.59" y="90.58" width="0.66" height="0.66"/><rect x="348.03" y="103.17" width="0.66" height="0.66"/><rect x="337.87" y="101.08" width="0.66" height="0.66"/><rect x="337.75" y="103.96" width="0.66" height="0.66"/><rect x="353.49" y="94.65" width="0.66" height="0.66"/><rect x="360.77" y="107.17" width="0.66" height="0.66"/><rect x="353.26" y="101.92" width="0.66" height="0.66"/><rect x="356.40" y="97.90" width="0.66" height="0.66"/><rect x="344.14" y="103.89" width="0.66" height="0.66"/><rect x="336.72" y="98.27" width="0.66" height="0.66"/><rect x="364.25" y="102.45" width="0.66" height="0.66"/><rect x="369.00" y="100.41" width="0.66" height="0.66"/><rect x="344.60" y="96.60" width="0.66" height="0.66"/><rect x="350.86" y="95.25" width="0.66" height="0.66"/><rect x="375.12" y="101.66" width="0.66" height="0.66"/><rect x="338.26" y="96.32" width="0.66" height="0.66"/><rect x="364.79" y="101.79" width="0.66" height="0.66"/><rect x="372.07" y="102.26" width="0.66" height="0.66"/><rect x="366.53" y="95.37" width="0.66" height="0.66"/><rect x="362.73" y="105.28" width="0.66" height="0.66"/><rect x="363.35" y="96.13" width="0.66" height="0.66"/><rect x="344.97" y="104.76" width="0.66" height="0.66"/><rect x="360.49" y="99.10" width="0.66" height="0.66"/><rect x="334.94" y="98.31" width="0.66" height="0.66"/><rect x="347.80" y="99.59" width="0.66" height="0.66"/><rect x="340.78" y="105.04" width="0.66" height="0.66"/><rect x="357.91" y="104.30" width="0.66" height="0.66"/><rect x="374.30" y="102.88" width="0.66" height="0.66"/><rect x="365.85" y="99.22" width="0.66" height="0.66"/><rect x="374.82" y="101.64" width="0.66" height="0.66"/><rect x="364.24" y="102.21" width="0.66" height="0.66"/><rect x="361.62" y="104.82" width="0.66" height="0.66"/><rect x="363.30" y="100.47" width="0.66" height="0.66"/><rect x="345.35" y="102.54" width="0.66" height="0.66"/><rect x="363.28" y="99.17" width="0.66" height="0.66"/><rect x="343.07" y="98.41" width="0.66" height="0.66"/><rect x="350.59" y="99.22" width="0.66" height="0.66"/><rect x="374.18" y="96.77" width="0.66" height="0.66"/><rect x="360.59" y="102.10" width="0.66" height="0.66"/><rect x="346.46" y="103.06" width="0.66" height="0.66"/><rect x="346.11" y="104.85" width="0.66" height="0.66"/><rect x="342.59" y="102.25" width="0.66" height="0.66"/><rect x="368.71" y="100.90" width="0.66" height="0.66"/><rect x="373.93" y="100.94" width="0.66" height="0.66"/><rect x="355.72" y="100.38" width="0.66" height="0.66"/><rect x="336.32" y="96.09" width="0.66" height="0.66"/><rect x="344.76" y="97.08" width="0.66" height="0.66"/><rect x="334.99" y="99.37" width="0.66" height="0.66"/><rect x="347.65" y="100.65" width="0.66" height="0.66"/><rect x="353.74" y="104.35" width="0.66" height="0.66"/><rect x="340.34" y="98.68" width="0.66" height="0.66"/><rect x="367.92" y="103.43" width="0.66" height="0.66"/><rect x="336.73" y="96.54" width="0.66" height="0.66"/><rect x="342.55" y="96.81" width="0.66" height="0.66"/><rect x="344.13" y="104.22" width="0.66" height="0.66"/><rect x="368.37" y="106.47" width="0.66" height="0.66"/><rect x="371.78" y="93.21" width="0.66" height="0.66"/><rect x="335.41" y="99.67" width="0.66" height="0.66"/><rect x="372.46" y="100.32" width="0.66" height="0.66"/><rect x="366.04" y="101.33" width="0.66" height="0.66"/><rect x="337.18" y="98.46" width="0.66" height="0.66"/><rect x="368.91" y="96.59" width="0.66" height="0.66"/><rect x="354.46" y="97.54" width="0.66" height="0.66"/><rect x="368.27" y="99.42" width="0.66" height="0.66"/><rect x="349.50" y="104.00" width="0.66" height="0.66"/><rect x="347.19" y="95.01" width="0.66" height="0.66"/><rect x="337.65" y="94.85" width="0.66" height="0.66"/><rect x="337.51" y="94.86" width="0.66" height="0.66"/><rect x="342.64" y="100.70" width="0.66" height="0.66"/><rect x="346.00" y="102.25" width="0.66" height="0.66"/><rect x="355.46" y="101.59" width="0.66" height="0.66"/><rect x="363.26" y="99.76" width="0.66" height="0.66"/><rect x="339.04" y="99.15" width="0.66" height="0.66"/><rect x="373.77" y="96.99" width="0.66" height="0.66"/><rect x="363.69" y="100.14" width="0.66" height="0.66"/><rect x="365.24" y="99.49" width="0.66" height="0.66"/><rect x="369.42" y="100.91" width="0.66" height="0.66"/><rect x="343.65" y="104.96" width="0.66" height="0.66"/><rect x="357.04" y="102.15" width="0.66" height="0.66"/><rect x="361.06" y="104.20" width="0.66" height="0.66"/><rect x="355.41" y="107.04" width="0.66" height="0.66"/><rect x="341.47" y="105.68" width="0.66" height="0.66"/><rect x="372.74" y="95.04" width="0.66" height="0.66"/><rect x="363.21" y="102.66" width="0.66" height="0.66"/><rect x="372.59" y="108.30" width="0.66" height="0.66"/><rect x="351.06" y="95.12" width="0.66" height="0.66"/><rect x="374.23" y="108.05" width="0.66" height="0.66"/><rect x="335.14" y="98.28" width="0.66" height="0.66"/><rect x="349.45" y="96.83" width="0.66" height="0.66"/><rect x="366.41" y="97.41" width="0.66" height="0.66"/><rect x="361.84" y="106.30" width="0.66" height="0.66"/><rect x="371.70" y="105.15" width="0.66" height="0.66"/><rect x="367.24" y="100.62" width="0.66" height="0.66"/><rect x="349.89" y="92.49" width="0.66" height="0.66"/><rect x="338.15" y="98.99" width="0.66" height="0.66"/><rect x="357.34" y="102.64" width="0.66" height="0.66"/><rect x="368.90" y="99.73" width="0.66" height="0.66"/><rect x="335.80" y="102.87" width="0.66" height="0.66"/><rect x="340.84" y="102.51" width="0.66" height="0.66"/><rect x="353.97" y="101.40" width="0.66" height="0.66"/><rect x="347.25" y="102.05" width="0.66" height="0.66"/><rect x="352.14" y="99.07" width="0.66" height="0.66"/><rect x="351.42" y="98.46" width="0.66" height="0.66"/><rect x="349.32" y="102.22" width="0.66" height="0.66"/><rect x="340.31" y="102.64" width="0.66" height="0.66"/><rect x="347.76" y="95.71" width="0.66" height="0.66"/><rect x="344.44" y="98.81" width="0.66" height="0.66"/><rect x="342.26" y="101.91" width="0.66" height="0.66"/><rect x="342.75" y="100.82" width="0.66" height="0.66"/><rect x="341.29" y="99.89" width="0.66" height="0.66"/><rect x="355.74" y="101.91" width="0.66" height="0.66"/><rect x="338.96" y="97.88" width="0.66" height="0.66"/><rect x="345.99" y="95.83" width="0.66" height="0.66"/><rect x="351.53" y="100.55" width="0.66" height="0.66"/><rect x="346.33" y="100.83" width="0.66" height="0.66"/><rect x="343.29" y="97.27" width="0.66" height="0.66"/><rect x="347.85" y="102.71" width="0.66" height="0.66"/><rect x="345.76" y="95.21" width="0.66" height="0.66"/><rect x="345.00" y="100.78" width="0.66" height="0.66"/><rect x="340.25" y="104.75" width="0.66" height="0.66"/><rect x="341.11" y="100.67" width="0.66" height="0.66"/><rect x="341.26" y="103.37" width="0.66" height="0.66"/><rect x="340.41" y="98.00" width="0.66" height="0.66"/><rect x="352.20" y="96.92" width="0.66" height="0.66"/><rect x="343.99" y="102.28" width="0.66" height="0.66"/><rect x="348.44" y="95.45" width="0.66" height="0.66"/><rect x="349.67" y="99.80" width="0.66" height="0.66"/><rect x="352.73" y="95.51" width="0.66" height="0.66"/><rect x="350.47" y="101.87" width="0.66" height="0.66"/><rect x="344.79" y="99.41" width="0.66" height="0.66"/><rect x="348.58" y="98.62" width="0.66" height="0.66"/><rect x="344.94" y="98.38" width="0.66" height="0.66"/><rect x="347.35" y="102.67" width="0.66" height="0.66"/><rect x="338.77" y="100.74" width="0.66" height="0.66"/><rect x="348.20" y="105.15" width="0.66" height="0.66"/><rect x="342.98" y="104.41" width="0.66" height="0.66"/><rect x="344.45" y="102.12" width="0.66" height="0.66"/><rect x="347.76" y="101.47" width="0.66" height="0.66"/><rect x="344.96" y="97.74" width="0.66" height="0.66"/><rect x="354.04" y="104.99" width="0.66" height="0.66"/><rect x="346.09" y="100.16" width="0.66" height="0.66"/><rect x="345.61" y="96.69" width="0.66" height="0.66"/><rect x="341.14" y="101.89" width="0.66" height="0.66"/><rect x="351.37" y="99.99" width="0.66" height="0.66"/><rect x="342.01" y="97.45" width="0.66" height="0.66"/><rect x="343.60" y="102.74" width="0.66" height="0.66"/><rect x="346.89" y="96.41" width="0.66" height="0.66"/><rect x="340.88" y="101.63" width="0.66" height="0.66"/><rect x="348.13" y="105.89" width="0.66" height="0.66"/><rect x="353.79" y="101.21" width="0.66" height="0.66"/><rect x="343.27" y="101.26" width="0.66" height="0.66"/><rect x="341.02" y="98.61" width="0.66" height="0.66"/><rect x="351.63" y="102.48" width="0.66" height="0.66"/><rect x="351.23" y="105.30" width="0.66" height="0.66"/><rect x="344.60" y="103.04" width="0.66" height="0.66"/><rect x="347.01" y="101.59" width="0.66" height="0.66"/><rect x="347.78" y="102.26" width="0.66" height="0.66"/><rect x="339.78" y="96.58" width="0.66" height="0.66"/><rect x="347.11" y="102.11" width="0.66" height="0.66"/><rect x="344.25" y="100.35" width="0.66" height="0.66"/><rect x="339.67" y="103.52" width="0.66" height="0.66"/><rect x="348.92" y="105.12" width="0.66" height="0.66"/><rect x="344.62" y="100.37" width="0.66" height="0.66"/><rect x="346.99" y="104.72" width="0.66" height="0.66"/><rect x="349.45" y="101.82" width="0.66" height="0.66"/><rect x="338.49" y="98.10" width="0.66" height="0.66"/><rect x="339.35" y="100.10" width="0.66" height="0.66"/><rect x="350.91" y="100.82" width="0.66" height="0.66"/><rect x="342.08" y="106.71" width="0.66" height="0.66"/><rect x="341.19" y="104.77" width="0.66" height="0.66"/><rect x="352.41" y="101.42" width="0.66" height="0.66"/><rect x="353.34" y="97.42" width="0.66" height="0.66"/><rect x="343.89" y="99.76" width="0.66" height="0.66"/><rect x="348.49" y="100.12" width="0.66" height="0.66"/><rect x="355.11" y="99.53" width="0.66" height="0.66"/><rect x="345.51" y="97.05" width="0.66" height="0.66"/><rect x="349.02" y="103.02" width="0.66" height="0.66"/><rect x="342.91" y="96.91" width="0.66" height="0.66"/><rect x="339.77" y="104.13" width="0.66" height="0.66"/><rect x="350.56" y="101.48" width="0.66" height="0.66"/><rect x="350.41" y="102.10" width="0.66" height="0.66"/><rect x="348.90" y="95.83" width="0.66" height="0.66"/><rect x="349.21" y="102.75" width="0.66" height="0.66"/><rect x="352.28" y="103.53" width="0.66" height="0.66"/><rect x="343.27" y="101.44" width="0.66" height="0.66"/><rect x="339.63" y="104.94" width="0.66" height="0.66"/><rect x="339.84" y="102.75" width="0.66" height="0.66"/><rect x="342.73" y="98.23" width="0.66" height="0.66"/><rect x="342.21" y="99.68" width="0.66" height="0.66"/><rect x="348.53" y="103.99" width="0.66" height="0.66"/><rect x="345.17" y="103.20" width="0.66" height="0.66"/><rect x="350.96" y="106.78" width="0.66" height="0.66"/><rect x="343.69" y="101.57" width="0.66" height="0.66"/><rect x="350.07" y="101.08" width="0.66" height="0.66"/><rect x="349.74" y="98.67" width="0.66" height="0.66"/><rect x="344.87" y="98.79" width="0.66" height="0.66"/><rect x="343.47" y="98.01" width="0.66" height="0.66"/><rect x="346.15" y="97.00" width="0.66" height="0.66"/><rect x="343.80" y="102.39" width="0.66" height="0.66"/><rect x="338.84" y="97.51" width="0.66" height="0.66"/><rect x="344.62" y="97.47" width="0.66" height="0.66"/><rect x="341.68" y="106.24" width="0.66" height="0.66"/><rect x="348.27" y="99.28" width="0.66" height="0.66"/><rect x="342.97" y="96.01" width="0.66" height="0.66"/><rect x="340.87" y="93.75" width="0.66" height="0.66"/><rect x="349.39" y="99.12" width="0.66" height="0.66"/><rect x="351.12" y="100.62" width="0.66" height="0.66"/><rect x="336.70" y="106.30" width="0.66" height="0.66"/><rect x="349.16" y="103.28" width="0.66" height="0.66"/><rect x="343.86" y="98.97" width="0.66" height="0.66"/><rect x="345.72" y="105.97" width="0.66" height="0.66"/><rect x="340.40" y="97.45" width="0.66" height="0.66"/><rect x="349.19" y="94.78" width="0.66" height="0.66"/><rect x="353.98" y="97.21" width="0.66" height="0.66"/><rect x="352.50" y="100.19" width="0.66" height="0.66"/><rect x="344.87" y="97.23" width="0.66" height="0.66"/><rect x="353.83" y="99.83" width="0.66" height="0.66"/><rect x="339.98" y="102.54" width="0.66" height="0.66"/><rect x="345.94" y="102.19" width="0.66" height="0.66"/><rect x="344.62" y="101.74" width="0.66" height="0.66"/><rect x="348.87" y="100.70" width="0.66" height="0.66"/><rect x="338.53" y="102.11" width="0.66" height="0.66"/><rect x="353.46" y="101.95" width="0.66" height="0.66"/><rect x="351.24" y="102.98" width="0.66" height="0.66"/><rect x="345.13" y="103.80" width="0.66" height="0.66"/><rect x="345.45" y="97.66" width="0.66" height="0.66"/><rect x="340.39" y="103.72" width="0.66" height="0.66"/><rect x="367.74" y="102.83" width="0.66" height="0.66"/><rect x="363.97" y="94.33" width="0.66" height="0.66"/><rect x="367.96" y="100.32" width="0.66" height="0.66"/><rect x="363.84" y="98.52" width="0.66" height="0.66"/><rect x="363.94" y="94.21" width="0.66" height="0.66"/><rect x="367.49" y="103.09" width="0.66" height="0.66"/><rect x="368.25" y="99.40" width="0.66" height="0.66"/><rect x="361.93" y="95.90" width="0.66" height="0.66"/><rect x="364.73" y="106.69" width="0.66" height="0.66"/><rect x="368.41" y="100.74" width="0.66" height="0.66"/><rect x="367.05" y="103.46" width="0.66" height="0.66"/><rect x="365.83" y="101.44" width="0.66" height="0.66"/><rect x="366.28" y="98.63" width="0.66" height="0.66"/><rect x="362.25" y="98.70" width="0.66" height="0.66"/><rect x="369.07" y="95.17" width="0.66" height="0.66"/><rect x="364.35" y="99.20" width="0.66" height="0.66"/><rect x="365.76" y="99.09" width="0.66" height="0.66"/><rect x="367.99" y="99.37" width="0.66" height="0.66"/><rect x="365.63" y="103.12" width="0.66" height="0.66"/><rect x="361.45" y="104.43" width="0.66" height="0.66"/><rect x="368.71" y="96.09" width="0.66" height="0.66"/><rect x="365.38" y="98.07" width="0.66" height="0.66"/><rect x="364.56" y="103.36" width="0.66" height="0.66"/><rect x="360.09" y="103.57" width="0.66" height="0.66"/><rect x="366.92" y="100.63" width="0.66" height="0.66"/><rect x="372.22" y="98.94" width="0.66" height="0.66"/><rect x="361.20" y="101.98" width="0.66" height="0.66"/><rect x="366.08" y="98.47" width="0.66" height="0.66"/><rect x="359.33" y="94.08" width="0.66" height="0.66"/><rect x="370.50" y="95.41" width="0.66" height="0.66"/><rect x="369.76" y="103.48" width="0.66" height="0.66"/><rect x="359.12" y="101.32" width="0.66" height="0.66"/><rect x="367.56" y="104.50" width="0.66" height="0.66"/><rect x="369.61" y="105.02" width="0.66" height="0.66"/><rect x="365.54" y="99.80" width="0.66" height="0.66"/><rect x="365.06" y="102.47" width="0.66" height="0.66"/><rect x="362.88" y="96.96" width="0.66" height="0.66"/><rect x="372.47" y="103.97" width="0.66" height="0.66"/><rect x="368.83" y="99.85" width="0.66" height="0.66"/><rect x="363.12" y="99.18" width="0.66" height="0.66"/><rect x="363.29" y="98.49" width="0.66" height="0.66"/><rect x="361.02" y="102.79" width="0.66" height="0.66"/><rect x="366.65" y="103.38" width="0.66" height="0.66"/><rect x="365.85" y="98.18" width="0.66" height="0.66"/><rect x="371.67" y="103.90" width="0.66" height="0.66"/><rect x="367.33" y="103.70" width="0.66" height="0.66"/><rect x="364.76" y="103.18" width="0.66" height="0.66"/><rect x="363.43" y="104.15" width="0.66" height="0.66"/><rect x="368.43" y="103.55" width="0.66" height="0.66"/><rect x="366.82" y="101.12" width="0.66" height="0.66"/><rect x="366.33" y="103.15" width="0.66" height="0.66"/><rect x="364.32" y="103.11" width="0.66" height="0.66"/><rect x="367.95" y="96.29" width="0.66" height="0.66"/><rect x="360.59" y="101.68" width="0.66" height="0.66"/><rect x="364.65" y="97.87" width="0.66" height="0.66"/><rect x="361.97" y="96.82" width="0.66" height="0.66"/><rect x="360.77" y="99.42" width="0.66" height="0.66"/><rect x="361.05" y="94.72" width="0.66" height="0.66"/><rect x="365.27" y="105.87" width="0.66" height="0.66"/><rect x="369.31" y="100.05" width="0.66" height="0.66"/><rect x="370.88" y="87.85" width="0.66" height="0.66"/><rect x="363.61" y="91.77" width="0.66" height="0.66"/><rect x="364.68" y="95.41" width="0.66" height="0.66"/><rect x="356.07" y="91.39" width="0.66" height="0.66"/><rect x="344.95" y="105.58" width="0.66" height="0.66"/><rect x="360.40" y="100.13" width="0.66" height="0.66"/><rect x="339.30" y="92.41" width="0.66" height="0.66"/><rect x="373.39" y="90.34" width="0.66" height="0.66"/><rect x="356.18" y="101.69" width="0.66" height="0.66"/><rect x="355.09" y="98.42" width="0.66" height="0.66"/><rect x="373.48" y="103.64" width="0.66" height="0.66"/><rect x="344.15" y="95.56" width="0.66" height="0.66"/><rect x="351.46" y="101.40" width="0.66" height="0.66"/><rect x="361.67" y="91.67" width="0.66" height="0.66"/><rect x="362.37" y="95.59" width="0.66" height="0.66"/><rect x="335.28" y="92.38" width="0.66" height="0.66"/><rect x="349.74" y="90.20" width="0.66" height="0.66"/><rect x="361.50" y="108.49" width="0.66" height="0.66"/><rect x="371.93" y="100.15" width="0.66" height="0.66"/><rect x="368.96" y="96.98" width="0.66" height="0.66"/><rect x="358.13" y="106.23" width="0.66" height="0.66"/><rect x="337.06" y="94.00" width="0.66" height="0.66"/><rect x="349.63" y="93.51" width="0.66" height="0.66"/><rect x="351.78" y="86.98" width="0.66" height="0.66"/><rect x="361.83" y="107.68" width="0.66" height="0.66"/><rect x="344.04" y="89.94" width="0.66" height="0.66"/><rect x="348.06" y="103.99" width="0.66" height="0.66"/><rect x="343.73" y="103.40" width="0.66" height="0.66"/><rect x="341.58" y="99.36" width="0.66" height="0.66"/><rect x="363.52" y="101.17" width="0.66" height="0.66"/><rect x="338.05" y="107.67" width="0.66" height="0.66"/><rect x="368.59" y="96.73" width="0.66" height="0.66"/><rect x="369.05" y="99.49" width="0.66" height="0.66"/><rect x="341.41" y="94.80" width="0.66" height="0.66"/><rect x="367.50" y="96.34" width="0.66" height="0.66"/><rect x="336.35" y="89.48" width="0.66" height="0.66"/><rect x="342.12" y="99.15" width="0.66" height="0.66"/><rect x="360.42" y="95.97" width="0.66" height="0.66"/><rect x="350.82" y="107.81" width="0.66" height="0.66"/><rect x="348.38" y="101.13" width="0.66" height="0.66"/><rect x="342.85" y="97.49" width="0.66" height="0.66"/><rect x="341.85" y="88.28" width="0.66" height="0.66"/><rect x="348.14" y="88.32" width="0.66" height="0.66"/><rect x="349.92" y="100.69" width="0.66" height="0.66"/><rect x="356.63" y="103.97" width="0.66" height="0.66"/><rect x="353.76" y="87.60" width="0.66" height="0.66"/><rect x="363.76" y="94.92" width="0.66" height="0.66"/><rect x="364.73" y="108.10" width="0.66" height="0.66"/><rect x="355.64" y="91.43" width="0.66" height="0.66"/><rect x="348.98" y="97.14" width="0.66" height="0.66"/><rect x="347.44" y="88.00" width="0.66" height="0.66"/><rect x="350.61" y="100.76" width="0.66" height="0.66"/><rect x="367.31" y="103.19" width="0.66" height="0.66"/><rect x="370.03" y="104.10" width="0.66" height="0.66"/><rect x="351.13" y="100.49" width="0.66" height="0.66"/><rect x="336.84" y="103.93" width="0.66" height="0.66"/><rect x="362.99" y="91.77" width="0.66" height="0.66"/><rect x="353.56" y="91.92" width="0.66" height="0.66"/><rect x="366.47" y="95.48" width="0.66" height="0.66"/><rect x="365.91" y="106.92" width="0.66" height="0.66"/></g>
<path d="M372.50,109.00 C371.63,107.62 372.48,103.42 372.80,101.00 C373.12,98.58 373.53,96.17 374.40,94.50 C375.27,92.83 376.57,92.05 378.00,91.00 C379.43,89.95 380.87,89.42 383.00,88.20 C385.13,86.98 388.30,85.10 390.80,83.70 C393.30,82.30 395.72,81.03 398.00,79.80 C400.28,78.57 403.18,76.68 404.50,76.30 C405.82,75.92 405.88,76.17 405.90,77.50 C405.92,78.83 405.37,82.08 404.60,84.30 C403.83,86.52 402.40,88.85 401.30,90.80 C400.20,92.75 399.08,94.37 398.00,96.00 C396.92,97.63 396.00,99.18 394.80,100.60 C393.60,102.02 392.33,103.30 390.80,104.50 C389.27,105.70 387.73,107.00 385.60,107.80 C383.47,108.60 380.18,109.10 378.00,109.30 C375.82,109.50 373.37,110.38 372.50,109.00 Z" fill="#c9c9c9" stroke="#7a7a7a" stroke-width="0.6"/>
<path d="M378.00,106.00 C377.67,104.50 378.00,100.25 379.00,98.00 C380.00,95.75 381.83,94.33 384.00,92.50 C386.17,90.67 389.33,88.83 392.00,87.00 C394.67,85.17 398.12,82.67 400.00,81.50 C401.88,80.33 402.88,79.42 403.30,80.00 C403.72,80.58 403.30,83.00 402.50,85.00 C401.70,87.00 400.08,89.67 398.50,92.00 C396.92,94.33 394.92,96.92 393.00,99.00 C391.08,101.08 389.00,103.17 387.00,104.50 C385.00,105.83 382.50,106.75 381.00,107.00 C379.50,107.25 378.33,107.50 378.00,106.00 Z" fill="#bababa" stroke="#999" stroke-width="0.4"/>
<g fill="#333" fill-opacity="0.55"><rect x="393.37" y="100.40" width="0.60" height="0.60"/><rect x="403.93" y="77.78" width="0.60" height="0.60"/><rect x="390.36" y="94.36" width="0.60" height="0.60"/><rect x="380.32" y="106.69" width="0.60" height="0.60"/><rect x="398.80" y="79.45" width="0.60" height="0.60"/><rect x="399.99" y="78.70" width="0.60" height="0.60"/><rect x="380.69" y="108.31" width="0.60" height="0.60"/><rect x="390.19" y="98.10" width="0.60" height="0.60"/><rect x="377.48" y="107.58" width="0.60" height="0.60"/><rect x="403.66" y="84.46" width="0.60" height="0.60"/><rect x="381.15" y="95.41" width="0.60" height="0.60"/><rect x="381.70" y="91.02" width="0.60" height="0.60"/><rect x="383.62" y="94.53" width="0.60" height="0.60"/><rect x="376.57" y="108.09" width="0.60" height="0.60"/><rect x="377.17" y="100.91" width="0.60" height="0.60"/><rect x="389.64" y="101.62" width="0.60" height="0.60"/><rect x="373.81" y="100.64" width="0.60" height="0.60"/><rect x="382.62" y="106.97" width="0.60" height="0.60"/><rect x="390.42" y="84.95" width="0.60" height="0.60"/><rect x="387.02" y="88.88" width="0.60" height="0.60"/><rect x="401.56" y="78.40" width="0.60" height="0.60"/><rect x="375.37" y="104.11" width="0.60" height="0.60"/><rect x="380.90" y="90.01" width="0.60" height="0.60"/><rect x="388.25" y="99.96" width="0.60" height="0.60"/><rect x="388.67" y="85.89" width="0.60" height="0.60"/><rect x="383.43" y="102.00" width="0.60" height="0.60"/><rect x="383.51" y="99.06" width="0.60" height="0.60"/><rect x="380.37" y="91.18" width="0.60" height="0.60"/><rect x="380.87" y="107.74" width="0.60" height="0.60"/><rect x="394.39" y="94.60" width="0.60" height="0.60"/><rect x="379.23" y="97.88" width="0.60" height="0.60"/><rect x="387.29" y="103.10" width="0.60" height="0.60"/><rect x="382.92" y="96.89" width="0.60" height="0.60"/><rect x="383.00" y="104.04" width="0.60" height="0.60"/><rect x="389.39" y="92.76" width="0.60" height="0.60"/><rect x="376.01" y="103.82" width="0.60" height="0.60"/><rect x="397.45" y="79.89" width="0.60" height="0.60"/><rect x="394.99" y="88.85" width="0.60" height="0.60"/><rect x="393.90" y="99.63" width="0.60" height="0.60"/><rect x="386.46" y="97.10" width="0.60" height="0.60"/><rect x="378.02" y="98.39" width="0.60" height="0.60"/><rect x="387.38" y="87.39" width="0.60" height="0.60"/><rect x="392.95" y="94.95" width="0.60" height="0.60"/><rect x="378.74" y="106.21" width="0.60" height="0.60"/><rect x="374.07" y="103.63" width="0.60" height="0.60"/><rect x="390.42" y="85.92" width="0.60" height="0.60"/><rect x="400.80" y="88.79" width="0.60" height="0.60"/><rect x="392.35" y="94.00" width="0.60" height="0.60"/><rect x="392.83" y="86.34" width="0.60" height="0.60"/><rect x="383.98" y="89.24" width="0.60" height="0.60"/><rect x="392.34" y="83.05" width="0.60" height="0.60"/><rect x="380.58" y="90.87" width="0.60" height="0.60"/><rect x="374.33" y="96.08" width="0.60" height="0.60"/><rect x="380.10" y="107.37" width="0.60" height="0.60"/><rect x="399.41" y="82.54" width="0.60" height="0.60"/><rect x="392.81" y="90.79" width="0.60" height="0.60"/><rect x="394.21" y="95.44" width="0.60" height="0.60"/><rect x="398.60" y="84.52" width="0.60" height="0.60"/><rect x="389.97" y="85.80" width="0.60" height="0.60"/><rect x="380.98" y="92.78" width="0.60" height="0.60"/><rect x="387.34" y="86.70" width="0.60" height="0.60"/><rect x="398.01" y="94.97" width="0.60" height="0.60"/><rect x="385.95" y="94.42" width="0.60" height="0.60"/><rect x="396.61" y="96.46" width="0.60" height="0.60"/><rect x="384.35" y="87.81" width="0.60" height="0.60"/><rect x="402.07" y="80.77" width="0.60" height="0.60"/><rect x="380.97" y="103.58" width="0.60" height="0.60"/><rect x="396.10" y="89.28" width="0.60" height="0.60"/><rect x="380.58" y="101.81" width="0.60" height="0.60"/><rect x="404.31" y="78.84" width="0.60" height="0.60"/><rect x="387.88" y="93.47" width="0.60" height="0.60"/><rect x="388.61" y="85.61" width="0.60" height="0.60"/><rect x="375.53" y="94.79" width="0.60" height="0.60"/><rect x="378.44" y="103.21" width="0.60" height="0.60"/><rect x="401.70" y="81.59" width="0.60" height="0.60"/><rect x="380.81" y="106.75" width="0.60" height="0.60"/><rect x="375.39" y="95.68" width="0.60" height="0.60"/><rect x="391.56" y="100.42" width="0.60" height="0.60"/><rect x="403.08" y="78.54" width="0.60" height="0.60"/><rect x="392.51" y="91.32" width="0.60" height="0.60"/><rect x="375.44" y="96.43" width="0.60" height="0.60"/><rect x="390.79" y="96.05" width="0.60" height="0.60"/><rect x="379.70" y="93.56" width="0.60" height="0.60"/><rect x="379.36" y="100.72" width="0.60" height="0.60"/><rect x="397.70" y="80.16" width="0.60" height="0.60"/><rect x="381.98" y="102.37" width="0.60" height="0.60"/><rect x="400.88" y="78.73" width="0.60" height="0.60"/><rect x="393.44" y="86.45" width="0.60" height="0.60"/><rect x="393.02" y="86.25" width="0.60" height="0.60"/><rect x="400.27" y="89.30" width="0.60" height="0.60"/><rect x="392.22" y="94.34" width="0.60" height="0.60"/><rect x="397.83" y="87.94" width="0.60" height="0.60"/><rect x="387.57" y="105.73" width="0.60" height="0.60"/><rect x="393.24" y="89.13" width="0.60" height="0.60"/><rect x="383.94" y="87.58" width="0.60" height="0.60"/><rect x="403.15" y="79.18" width="0.60" height="0.60"/><rect x="378.64" y="91.05" width="0.60" height="0.60"/><rect x="383.72" y="107.47" width="0.60" height="0.60"/><rect x="395.83" y="97.96" width="0.60" height="0.60"/><rect x="374.18" y="97.77" width="0.60" height="0.60"/><rect x="380.76" y="97.98" width="0.60" height="0.60"/><rect x="394.24" y="89.20" width="0.60" height="0.60"/><rect x="389.42" y="86.30" width="0.60" height="0.60"/><rect x="376.52" y="92.01" width="0.60" height="0.60"/><rect x="384.99" y="92.83" width="0.60" height="0.60"/><rect x="402.26" y="81.42" width="0.60" height="0.60"/><rect x="388.19" y="94.27" width="0.60" height="0.60"/><rect x="384.01" y="96.20" width="0.60" height="0.60"/><rect x="381.39" y="89.87" width="0.60" height="0.60"/><rect x="401.10" y="81.76" width="0.60" height="0.60"/><rect x="373.03" y="101.51" width="0.60" height="0.60"/><rect x="400.84" y="84.96" width="0.60" height="0.60"/><rect x="385.99" y="94.47" width="0.60" height="0.60"/><rect x="398.29" y="93.72" width="0.60" height="0.60"/><rect x="386.50" y="103.10" width="0.60" height="0.60"/><rect x="379.87" y="102.93" width="0.60" height="0.60"/><rect x="379.68" y="98.03" width="0.60" height="0.60"/><rect x="398.72" y="93.76" width="0.60" height="0.60"/><rect x="386.00" y="86.75" width="0.60" height="0.60"/><rect x="396.66" y="89.76" width="0.60" height="0.60"/><rect x="386.20" y="89.59" width="0.60" height="0.60"/><rect x="400.64" y="88.80" width="0.60" height="0.60"/><rect x="388.02" y="105.44" width="0.60" height="0.60"/><rect x="391.07" y="86.55" width="0.60" height="0.60"/><rect x="398.24" y="82.40" width="0.60" height="0.60"/><rect x="373.45" y="99.54" width="0.60" height="0.60"/><rect x="403.91" y="80.88" width="0.60" height="0.60"/><rect x="399.99" y="85.37" width="0.60" height="0.60"/><rect x="389.15" y="94.82" width="0.60" height="0.60"/><rect x="387.79" y="99.02" width="0.60" height="0.60"/><rect x="396.03" y="97.83" width="0.60" height="0.60"/><rect x="390.10" y="102.45" width="0.60" height="0.60"/><rect x="383.49" y="95.07" width="0.60" height="0.60"/><rect x="395.52" y="92.50" width="0.60" height="0.60"/><rect x="391.76" y="101.05" width="0.60" height="0.60"/><rect x="396.85" y="84.74" width="0.60" height="0.60"/><rect x="377.63" y="92.30" width="0.60" height="0.60"/><rect x="403.75" y="82.31" width="0.60" height="0.60"/><rect x="395.87" y="93.62" width="0.60" height="0.60"/><rect x="396.88" y="87.16" width="0.60" height="0.60"/><rect x="403.40" y="81.36" width="0.60" height="0.60"/><rect x="376.06" y="96.48" width="0.60" height="0.60"/><rect x="398.83" y="81.79" width="0.60" height="0.60"/><rect x="397.37" y="88.71" width="0.60" height="0.60"/><rect x="385.86" y="92.74" width="0.60" height="0.60"/><rect x="380.37" y="95.49" width="0.60" height="0.60"/><rect x="391.08" y="95.42" width="0.60" height="0.60"/><rect x="392.29" y="96.97" width="0.60" height="0.60"/><rect x="381.80" y="104.31" width="0.60" height="0.60"/><rect x="378.40" y="98.78" width="0.60" height="0.60"/><rect x="375.47" y="95.87" width="0.60" height="0.60"/><rect x="373.69" y="100.99" width="0.60" height="0.60"/><rect x="383.93" y="90.21" width="0.60" height="0.60"/><rect x="390.35" y="87.21" width="0.60" height="0.60"/><rect x="374.17" y="95.20" width="0.60" height="0.60"/><rect x="383.93" y="98.31" width="0.60" height="0.60"/><rect x="387.90" y="86.45" width="0.60" height="0.60"/><rect x="388.65" y="98.79" width="0.60" height="0.60"/><rect x="378.74" y="97.68" width="0.60" height="0.60"/><rect x="384.38" y="107.32" width="0.60" height="0.60"/><rect x="398.80" y="86.70" width="0.60" height="0.60"/><rect x="387.11" y="87.48" width="0.60" height="0.60"/><rect x="378.01" y="108.77" width="0.60" height="0.60"/><rect x="386.52" y="90.69" width="0.60" height="0.60"/><rect x="384.62" y="101.72" width="0.60" height="0.60"/><rect x="386.22" y="95.07" width="0.60" height="0.60"/><rect x="385.40" y="105.17" width="0.60" height="0.60"/><rect x="375.33" y="101.81" width="0.60" height="0.60"/><rect x="378.69" y="106.83" width="0.60" height="0.60"/><rect x="379.83" y="100.84" width="0.60" height="0.60"/><rect x="383.87" y="101.61" width="0.60" height="0.60"/><rect x="394.15" y="87.20" width="0.60" height="0.60"/><rect x="383.71" y="90.90" width="0.60" height="0.60"/><rect x="378.85" y="94.17" width="0.60" height="0.60"/><rect x="379.70" y="93.33" width="0.60" height="0.60"/><rect x="387.98" y="99.11" width="0.60" height="0.60"/><rect x="385.62" y="91.85" width="0.60" height="0.60"/><rect x="381.01" y="89.90" width="0.60" height="0.60"/><rect x="383.78" y="92.78" width="0.60" height="0.60"/><rect x="386.75" y="100.20" width="0.60" height="0.60"/><rect x="389.79" y="87.69" width="0.60" height="0.60"/><rect x="390.67" y="103.57" width="0.60" height="0.60"/><rect x="388.48" y="94.07" width="0.60" height="0.60"/><rect x="380.18" y="101.91" width="0.60" height="0.60"/><rect x="397.86" y="83.14" width="0.60" height="0.60"/><rect x="384.47" y="96.34" width="0.60" height="0.60"/><rect x="403.80" y="80.07" width="0.60" height="0.60"/><rect x="397.81" y="93.90" width="0.60" height="0.60"/><rect x="397.10" y="95.71" width="0.60" height="0.60"/><rect x="387.19" y="97.06" width="0.60" height="0.60"/><rect x="401.76" y="78.04" width="0.60" height="0.60"/><rect x="398.37" y="83.01" width="0.60" height="0.60"/><rect x="398.51" y="92.27" width="0.60" height="0.60"/><rect x="379.71" y="107.78" width="0.60" height="0.60"/><rect x="385.86" y="96.08" width="0.60" height="0.60"/><rect x="395.81" y="89.80" width="0.60" height="0.60"/><rect x="388.46" y="93.00" width="0.60" height="0.60"/><rect x="394.87" y="88.81" width="0.60" height="0.60"/><rect x="403.51" y="83.23" width="0.60" height="0.60"/><rect x="393.62" y="96.76" width="0.60" height="0.60"/><rect x="398.96" y="85.81" width="0.60" height="0.60"/><rect x="373.61" y="96.45" width="0.60" height="0.60"/><rect x="384.30" y="96.61" width="0.60" height="0.60"/><rect x="397.21" y="83.08" width="0.60" height="0.60"/><rect x="396.94" y="88.48" width="0.60" height="0.60"/><rect x="391.17" y="84.14" width="0.60" height="0.60"/><rect x="384.21" y="96.52" width="0.60" height="0.60"/><rect x="391.51" y="91.71" width="0.60" height="0.60"/><rect x="380.50" y="100.49" width="0.60" height="0.60"/><rect x="379.44" y="90.64" width="0.60" height="0.60"/><rect x="375.90" y="98.85" width="0.60" height="0.60"/><rect x="374.35" y="101.21" width="0.60" height="0.60"/><rect x="382.49" y="95.00" width="0.60" height="0.60"/><rect x="393.99" y="91.29" width="0.60" height="0.60"/><rect x="403.02" y="78.48" width="0.60" height="0.60"/><rect x="385.66" y="88.63" width="0.60" height="0.60"/><rect x="385.69" y="103.86" width="0.60" height="0.60"/><rect x="395.38" y="85.93" width="0.60" height="0.60"/><rect x="397.51" y="91.89" width="0.60" height="0.60"/><rect x="396.74" y="95.82" width="0.60" height="0.60"/><rect x="399.95" y="79.44" width="0.60" height="0.60"/><rect x="390.04" y="90.93" width="0.60" height="0.60"/><rect x="378.75" y="103.55" width="0.60" height="0.60"/><rect x="394.44" y="87.56" width="0.60" height="0.60"/><rect x="394.20" y="81.94" width="0.60" height="0.60"/><rect x="394.65" y="94.63" width="0.60" height="0.60"/><rect x="397.95" y="91.84" width="0.60" height="0.60"/><rect x="397.64" y="87.12" width="0.60" height="0.60"/><rect x="392.38" y="100.97" width="0.60" height="0.60"/><rect x="386.59" y="98.40" width="0.60" height="0.60"/><rect x="401.64" y="79.01" width="0.60" height="0.60"/><rect x="387.11" y="89.48" width="0.60" height="0.60"/><rect x="400.21" y="90.86" width="0.60" height="0.60"/><rect x="393.03" y="99.48" width="0.60" height="0.60"/><rect x="381.10" y="99.94" width="0.60" height="0.60"/><rect x="395.89" y="81.51" width="0.60" height="0.60"/><rect x="385.00" y="89.94" width="0.60" height="0.60"/><rect x="387.02" y="101.34" width="0.60" height="0.60"/><rect x="399.84" y="88.68" width="0.60" height="0.60"/><rect x="394.77" y="97.40" width="0.60" height="0.60"/><rect x="377.00" y="92.91" width="0.60" height="0.60"/><rect x="401.63" y="86.86" width="0.60" height="0.60"/><rect x="401.39" y="85.44" width="0.60" height="0.60"/><rect x="404.83" y="76.57" width="0.60" height="0.60"/><rect x="398.47" y="90.90" width="0.60" height="0.60"/><rect x="400.23" y="89.95" width="0.60" height="0.60"/><rect x="385.91" y="89.55" width="0.60" height="0.60"/><rect x="400.97" y="81.97" width="0.60" height="0.60"/><rect x="380.90" y="103.10" width="0.60" height="0.60"/><rect x="378.05" y="97.65" width="0.60" height="0.60"/><rect x="397.45" y="88.36" width="0.60" height="0.60"/><rect x="381.89" y="104.54" width="0.60" height="0.60"/><rect x="399.29" y="84.84" width="0.60" height="0.60"/><rect x="389.20" y="90.60" width="0.60" height="0.60"/><rect x="380.27" y="89.88" width="0.60" height="0.60"/><rect x="395.61" y="90.32" width="0.60" height="0.60"/><rect x="373.44" y="104.74" width="0.60" height="0.60"/><rect x="382.17" y="98.40" width="0.60" height="0.60"/><rect x="386.91" y="105.08" width="0.60" height="0.60"/><rect x="382.88" y="91.95" width="0.60" height="0.60"/><rect x="386.85" y="97.35" width="0.60" height="0.60"/><rect x="393.07" y="88.30" width="0.60" height="0.60"/><rect x="386.38" y="105.34" width="0.60" height="0.60"/><rect x="392.63" y="94.96" width="0.60" height="0.60"/><rect x="373.83" y="100.89" width="0.60" height="0.60"/><rect x="404.10" y="76.13" width="0.60" height="0.60"/><rect x="380.51" y="97.33" width="0.60" height="0.60"/><rect x="396.05" y="92.06" width="0.60" height="0.60"/><rect x="381.84" y="96.20" width="0.60" height="0.60"/><rect x="373.93" y="105.57" width="0.60" height="0.60"/><rect x="383.78" y="101.92" width="0.60" height="0.60"/><rect x="384.53" y="104.55" width="0.60" height="0.60"/><rect x="379.40" y="96.00" width="0.60" height="0.60"/><rect x="386.32" y="95.79" width="0.60" height="0.60"/><rect x="394.74" y="82.47" width="0.60" height="0.60"/><rect x="388.67" y="94.61" width="0.60" height="0.60"/><rect x="399.29" y="84.73" width="0.60" height="0.60"/><rect x="382.57" y="95.72" width="0.60" height="0.60"/><rect x="375.87" y="107.33" width="0.60" height="0.60"/><rect x="380.09" y="92.64" width="0.60" height="0.60"/><rect x="399.44" y="82.88" width="0.60" height="0.60"/><rect x="397.06" y="91.38" width="0.60" height="0.60"/><rect x="384.27" y="94.34" width="0.60" height="0.60"/><rect x="379.58" y="90.17" width="0.60" height="0.60"/><rect x="392.21" y="85.30" width="0.60" height="0.60"/><rect x="399.74" y="84.33" width="0.60" height="0.60"/><rect x="394.95" y="94.74" width="0.60" height="0.60"/><rect x="380.41" y="100.00" width="0.60" height="0.60"/><rect x="377.55" y="106.86" width="0.60" height="0.60"/><rect x="374.22" y="95.01" width="0.60" height="0.60"/><rect x="388.21" y="105.08" width="0.60" height="0.60"/><rect x="393.61" y="98.57" width="0.60" height="0.60"/><rect x="387.40" y="93.33" width="0.60" height="0.60"/><rect x="373.32" y="100.40" width="0.60" height="0.60"/><rect x="382.87" y="90.81" width="0.60" height="0.60"/><rect x="389.54" y="103.90" width="0.60" height="0.60"/><rect x="381.18" y="93.85" width="0.60" height="0.60"/><rect x="392.71" y="97.29" width="0.60" height="0.60"/><rect x="387.58" y="95.34" width="0.60" height="0.60"/><rect x="386.65" y="93.87" width="0.60" height="0.60"/></g>
<g fill="#222" fill-opacity="0.6"><rect x="377.46" y="91.57" width="0.60" height="0.60"/><rect x="397.25" y="80.62" width="0.60" height="0.60"/><rect x="400.36" y="78.80" width="0.60" height="0.60"/><rect x="385.42" y="87.62" width="0.60" height="0.60"/><rect x="396.72" y="82.17" width="0.60" height="0.60"/><rect x="391.19" y="84.00" width="0.60" height="0.60"/><rect x="386.53" y="87.50" width="0.60" height="0.60"/><rect x="387.78" y="86.40" width="0.60" height="0.60"/><rect x="390.99" y="84.76" width="0.60" height="0.60"/><rect x="375.95" y="92.87" width="0.60" height="0.60"/><rect x="381.73" y="89.10" width="0.60" height="0.60"/><rect x="400.26" y="80.09" width="0.60" height="0.60"/><rect x="376.30" y="91.78" width="0.60" height="0.60"/><rect x="397.48" y="81.50" width="0.60" height="0.60"/><rect x="380.65" y="89.41" width="0.60" height="0.60"/><rect x="384.02" y="88.54" width="0.60" height="0.60"/><rect x="400.00" y="80.80" width="0.60" height="0.60"/><rect x="384.17" y="88.89" width="0.60" height="0.60"/><rect x="385.75" y="86.92" width="0.60" height="0.60"/><rect x="400.39" y="79.85" width="0.60" height="0.60"/><rect x="381.44" y="89.91" width="0.60" height="0.60"/><rect x="383.90" y="87.94" width="0.60" height="0.60"/><rect x="378.67" y="90.71" width="0.60" height="0.60"/><rect x="389.03" y="85.82" width="0.60" height="0.60"/><rect x="393.08" y="84.12" width="0.60" height="0.60"/><rect x="401.87" y="79.13" width="0.60" height="0.60"/><rect x="382.46" y="88.98" width="0.60" height="0.60"/><rect x="383.80" y="89.06" width="0.60" height="0.60"/><rect x="382.93" y="89.00" width="0.60" height="0.60"/><rect x="388.46" y="85.67" width="0.60" height="0.60"/><rect x="389.55" y="85.82" width="0.60" height="0.60"/><rect x="378.51" y="90.61" width="0.60" height="0.60"/><rect x="381.55" y="89.89" width="0.60" height="0.60"/><rect x="380.02" y="90.07" width="0.60" height="0.60"/><rect x="383.14" y="89.76" width="0.60" height="0.60"/><rect x="396.87" y="80.89" width="0.60" height="0.60"/><rect x="385.54" y="88.07" width="0.60" height="0.60"/><rect x="391.83" y="84.11" width="0.60" height="0.60"/><rect x="394.23" y="83.60" width="0.60" height="0.60"/><rect x="380.80" y="89.59" width="0.60" height="0.60"/><rect x="384.69" y="89.56" width="0.60" height="0.60"/><rect x="387.07" y="86.36" width="0.60" height="0.60"/><rect x="394.41" y="82.58" width="0.60" height="0.60"/><rect x="382.26" y="90.75" width="0.60" height="0.60"/><rect x="391.20" y="84.34" width="0.60" height="0.60"/><rect x="388.29" y="86.64" width="0.60" height="0.60"/><rect x="394.44" y="84.85" width="0.60" height="0.60"/><rect x="391.73" y="83.59" width="0.60" height="0.60"/><rect x="392.85" y="82.83" width="0.60" height="0.60"/><rect x="394.30" y="83.17" width="0.60" height="0.60"/><rect x="387.28" y="86.25" width="0.60" height="0.60"/><rect x="401.35" y="78.72" width="0.60" height="0.60"/><rect x="380.97" y="90.72" width="0.60" height="0.60"/><rect x="381.45" y="89.03" width="0.60" height="0.60"/><rect x="399.34" y="81.73" width="0.60" height="0.60"/><rect x="380.95" y="89.53" width="0.60" height="0.60"/><rect x="387.67" y="86.09" width="0.60" height="0.60"/><rect x="387.70" y="86.16" width="0.60" height="0.60"/><rect x="387.73" y="87.12" width="0.60" height="0.60"/><rect x="384.62" y="88.44" width="0.60" height="0.60"/><rect x="376.42" y="91.58" width="0.60" height="0.60"/><rect x="375.46" y="93.16" width="0.60" height="0.60"/><rect x="397.72" y="80.42" width="0.60" height="0.60"/><rect x="399.70" y="80.58" width="0.60" height="0.60"/><rect x="382.92" y="88.62" width="0.60" height="0.60"/><rect x="400.90" y="79.30" width="0.60" height="0.60"/><rect x="405.16" y="77.21" width="0.60" height="0.60"/><rect x="397.11" y="80.87" width="0.60" height="0.60"/><rect x="396.64" y="81.18" width="0.60" height="0.60"/><rect x="385.55" y="86.72" width="0.60" height="0.60"/><rect x="395.45" y="82.43" width="0.60" height="0.60"/><rect x="402.65" y="77.65" width="0.60" height="0.60"/><rect x="396.51" y="80.88" width="0.60" height="0.60"/><rect x="392.13" y="83.72" width="0.60" height="0.60"/><rect x="393.46" y="82.75" width="0.60" height="0.60"/><rect x="404.95" y="77.51" width="0.60" height="0.60"/><rect x="394.53" y="82.25" width="0.60" height="0.60"/><rect x="389.17" y="84.86" width="0.60" height="0.60"/><rect x="375.39" y="93.31" width="0.60" height="0.60"/><rect x="393.03" y="82.98" width="0.60" height="0.60"/><rect x="395.46" y="83.20" width="0.60" height="0.60"/><rect x="396.01" y="81.57" width="0.60" height="0.60"/><rect x="376.89" y="93.05" width="0.60" height="0.60"/><rect x="404.90" y="77.38" width="0.60" height="0.60"/><rect x="377.52" y="92.49" width="0.60" height="0.60"/><rect x="382.45" y="89.23" width="0.60" height="0.60"/><rect x="377.13" y="91.36" width="0.60" height="0.60"/><rect x="391.40" y="83.90" width="0.60" height="0.60"/><rect x="399.27" y="80.08" width="0.60" height="0.60"/><rect x="387.42" y="86.25" width="0.60" height="0.60"/><rect x="378.18" y="91.83" width="0.60" height="0.60"/><rect x="399.67" y="79.65" width="0.60" height="0.60"/><rect x="404.95" y="77.01" width="0.60" height="0.60"/><rect x="399.62" y="79.70" width="0.60" height="0.60"/><rect x="383.60" y="88.01" width="0.60" height="0.60"/><rect x="400.90" y="80.86" width="0.60" height="0.60"/><rect x="393.74" y="82.59" width="0.60" height="0.60"/><rect x="379.00" y="92.16" width="0.60" height="0.60"/><rect x="384.97" y="87.13" width="0.60" height="0.60"/><rect x="398.16" y="81.09" width="0.60" height="0.60"/><rect x="404.43" y="76.83" width="0.60" height="0.60"/><rect x="396.76" y="82.03" width="0.60" height="0.60"/><rect x="402.97" y="77.64" width="0.60" height="0.60"/><rect x="398.85" y="79.77" width="0.60" height="0.60"/><rect x="400.71" y="79.20" width="0.60" height="0.60"/><rect x="382.85" y="89.07" width="0.60" height="0.60"/><rect x="404.72" y="77.27" width="0.60" height="0.60"/><rect x="394.84" y="84.54" width="0.60" height="0.60"/><rect x="400.77" y="78.76" width="0.60" height="0.60"/><rect x="377.63" y="92.52" width="0.60" height="0.60"/><rect x="384.67" y="88.32" width="0.60" height="0.60"/><rect x="405.00" y="76.69" width="0.60" height="0.60"/><rect x="393.91" y="83.63" width="0.60" height="0.60"/><rect x="397.87" y="81.23" width="0.60" height="0.60"/><rect x="400.01" y="80.57" width="0.60" height="0.60"/><rect x="390.49" y="84.76" width="0.60" height="0.60"/><rect x="394.99" y="82.57" width="0.60" height="0.60"/><rect x="387.15" y="86.18" width="0.60" height="0.60"/><rect x="397.16" y="81.12" width="0.60" height="0.60"/><rect x="382.04" y="88.83" width="0.60" height="0.60"/></g>
<g fill="#333" fill-opacity="0.6"><rect x="377.91" y="107.01" width="0.60" height="0.60"/><rect x="379.82" y="102.56" width="0.60" height="0.60"/><rect x="377.30" y="103.01" width="0.60" height="0.60"/><rect x="376.60" y="98.70" width="0.60" height="0.60"/><rect x="379.34" y="102.45" width="0.60" height="0.60"/><rect x="379.69" y="102.13" width="0.60" height="0.60"/><rect x="384.74" y="101.39" width="0.60" height="0.60"/><rect x="375.47" y="103.71" width="0.60" height="0.60"/><rect x="373.33" y="99.05" width="0.60" height="0.60"/><rect x="375.43" y="101.02" width="0.60" height="0.60"/><rect x="378.40" y="99.58" width="0.60" height="0.60"/><rect x="376.13" y="104.14" width="0.60" height="0.60"/><rect x="380.49" y="103.28" width="0.60" height="0.60"/><rect x="378.71" y="105.25" width="0.60" height="0.60"/><rect x="376.24" y="96.02" width="0.60" height="0.60"/><rect x="374.35" y="103.66" width="0.60" height="0.60"/><rect x="374.30" y="99.87" width="0.60" height="0.60"/><rect x="382.63" y="102.05" width="0.60" height="0.60"/><rect x="378.45" y="100.22" width="0.60" height="0.60"/><rect x="377.09" y="98.53" width="0.60" height="0.60"/><rect x="376.66" y="104.69" width="0.60" height="0.60"/><rect x="371.65" y="102.27" width="0.60" height="0.60"/><rect x="376.64" y="104.50" width="0.60" height="0.60"/><rect x="373.04" y="100.14" width="0.60" height="0.60"/><rect x="375.49" y="94.79" width="0.60" height="0.60"/><rect x="374.17" y="106.62" width="0.60" height="0.60"/><rect x="381.05" y="98.06" width="0.60" height="0.60"/><rect x="377.15" y="93.81" width="0.60" height="0.60"/><rect x="374.45" y="104.32" width="0.60" height="0.60"/><rect x="378.89" y="98.04" width="0.60" height="0.60"/><rect x="381.64" y="98.28" width="0.60" height="0.60"/><rect x="370.57" y="104.45" width="0.60" height="0.60"/><rect x="374.38" y="104.67" width="0.60" height="0.60"/><rect x="378.60" y="97.69" width="0.60" height="0.60"/><rect x="376.63" y="101.12" width="0.60" height="0.60"/><rect x="373.10" y="102.10" width="0.60" height="0.60"/><rect x="383.23" y="104.65" width="0.60" height="0.60"/><rect x="372.87" y="104.03" width="0.60" height="0.60"/><rect x="372.39" y="100.08" width="0.60" height="0.60"/><rect x="378.37" y="104.56" width="0.60" height="0.60"/><rect x="380.77" y="105.99" width="0.60" height="0.60"/><rect x="379.30" y="108.09" width="0.60" height="0.60"/><rect x="378.17" y="96.27" width="0.60" height="0.60"/><rect x="380.90" y="102.16" width="0.60" height="0.60"/><rect x="372.24" y="101.44" width="0.60" height="0.60"/><rect x="373.34" y="99.75" width="0.60" height="0.60"/><rect x="376.39" y="108.91" width="0.60" height="0.60"/><rect x="376.98" y="99.03" width="0.60" height="0.60"/><rect x="380.47" y="105.80" width="0.60" height="0.60"/><rect x="376.74" y="106.26" width="0.60" height="0.60"/><rect x="381.13" y="97.70" width="0.60" height="0.60"/><rect x="381.13" y="101.18" width="0.60" height="0.60"/><rect x="376.29" y="99.72" width="0.60" height="0.60"/><rect x="373.58" y="99.12" width="0.60" height="0.60"/><rect x="378.22" y="108.12" width="0.60" height="0.60"/><rect x="375.26" y="100.77" width="0.60" height="0.60"/><rect x="377.26" y="99.54" width="0.60" height="0.60"/><rect x="378.87" y="100.64" width="0.60" height="0.60"/><rect x="381.10" y="98.36" width="0.60" height="0.60"/><rect x="375.97" y="104.90" width="0.60" height="0.60"/><rect x="373.33" y="102.56" width="0.60" height="0.60"/><rect x="373.53" y="99.77" width="0.60" height="0.60"/><rect x="379.54" y="103.37" width="0.60" height="0.60"/><rect x="371.52" y="101.07" width="0.60" height="0.60"/><rect x="376.73" y="107.75" width="0.60" height="0.60"/><rect x="378.57" y="108.99" width="0.60" height="0.60"/><rect x="374.66" y="100.21" width="0.60" height="0.60"/><rect x="378.74" y="107.32" width="0.60" height="0.60"/><rect x="378.29" y="105.36" width="0.60" height="0.60"/><rect x="375.04" y="102.52" width="0.60" height="0.60"/><rect x="381.30" y="104.00" width="0.60" height="0.60"/><rect x="372.69" y="98.93" width="0.60" height="0.60"/><rect x="377.79" y="105.21" width="0.60" height="0.60"/><rect x="379.16" y="91.22" width="0.60" height="0.60"/><rect x="372.83" y="103.38" width="0.60" height="0.60"/><rect x="375.02" y="102.83" width="0.60" height="0.60"/><rect x="377.40" y="104.28" width="0.60" height="0.60"/><rect x="379.34" y="104.87" width="0.60" height="0.60"/><rect x="378.72" y="92.57" width="0.60" height="0.60"/><rect x="383.05" y="103.84" width="0.60" height="0.60"/><rect x="377.21" y="96.35" width="0.60" height="0.60"/><rect x="385.40" y="106.12" width="0.60" height="0.60"/><rect x="381.64" y="102.24" width="0.60" height="0.60"/><rect x="376.11" y="100.11" width="0.60" height="0.60"/><rect x="377.53" y="101.25" width="0.60" height="0.60"/><rect x="371.14" y="97.28" width="0.60" height="0.60"/><rect x="375.20" y="106.77" width="0.60" height="0.60"/><rect x="376.39" y="102.12" width="0.60" height="0.60"/><rect x="378.50" y="102.10" width="0.60" height="0.60"/><rect x="377.27" y="103.68" width="0.60" height="0.60"/><rect x="376.91" y="91.55" width="0.60" height="0.60"/><rect x="382.57" y="104.12" width="0.60" height="0.60"/><rect x="374.35" y="101.65" width="0.60" height="0.60"/><rect x="375.04" y="98.49" width="0.60" height="0.60"/><rect x="377.28" y="105.50" width="0.60" height="0.60"/><rect x="376.58" y="104.56" width="0.60" height="0.60"/><rect x="372.85" y="106.91" width="0.60" height="0.60"/><rect x="380.23" y="105.05" width="0.60" height="0.60"/><rect x="380.14" y="100.96" width="0.60" height="0.60"/><rect x="381.59" y="106.94" width="0.60" height="0.60"/><rect x="377.67" y="101.15" width="0.60" height="0.60"/><rect x="379.56" y="95.18" width="0.60" height="0.60"/><rect x="374.99" y="93.31" width="0.60" height="0.60"/><rect x="376.65" y="96.46" width="0.60" height="0.60"/><rect x="378.65" y="99.70" width="0.60" height="0.60"/><rect x="371.27" y="101.39" width="0.60" height="0.60"/><rect x="377.67" y="106.08" width="0.60" height="0.60"/><rect x="376.12" y="104.46" width="0.60" height="0.60"/><rect x="381.16" y="98.57" width="0.60" height="0.60"/></g>
<rect x="375.20" y="70.60" width="32.80" height="37.90" stroke="#555" stroke-width="0.9" fill="none" />
<g fill="#777" fill-opacity="0.6"><rect x="459.54" y="86.97" width="0.66" height="0.66"/><rect x="442.81" y="94.24" width="0.66" height="0.66"/><rect x="457.81" y="89.66" width="0.66" height="0.66"/><rect x="456.59" y="100.05" width="0.66" height="0.66"/><rect x="464.54" y="97.18" width="0.66" height="0.66"/><rect x="451.83" y="82.98" width="0.66" height="0.66"/><rect x="444.05" y="84.73" width="0.66" height="0.66"/><rect x="456.36" y="87.57" width="0.66" height="0.66"/><rect x="464.11" y="83.67" width="0.66" height="0.66"/><rect x="457.52" y="93.46" width="0.66" height="0.66"/><rect x="438.21" y="101.63" width="0.66" height="0.66"/><rect x="456.40" y="92.09" width="0.66" height="0.66"/><rect x="443.83" y="81.55" width="0.66" height="0.66"/><rect x="472.97" y="82.29" width="0.66" height="0.66"/><rect x="450.51" y="90.93" width="0.66" height="0.66"/><rect x="470.18" y="66.10" width="0.66" height="0.66"/><rect x="470.67" y="89.14" width="0.66" height="0.66"/><rect x="464.49" y="78.12" width="0.66" height="0.66"/><rect x="458.19" y="100.67" width="0.66" height="0.66"/><rect x="453.84" y="81.46" width="0.66" height="0.66"/><rect x="450.22" y="82.31" width="0.66" height="0.66"/><rect x="463.42" y="88.53" width="0.66" height="0.66"/><rect x="449.59" y="93.60" width="0.66" height="0.66"/><rect x="443.18" y="74.54" width="0.66" height="0.66"/><rect x="481.24" y="81.40" width="0.66" height="0.66"/><rect x="472.32" y="86.09" width="0.66" height="0.66"/><rect x="452.51" y="91.34" width="0.66" height="0.66"/><rect x="445.72" y="79.62" width="0.66" height="0.66"/><rect x="452.65" y="83.52" width="0.66" height="0.66"/><rect x="462.60" y="103.54" width="0.66" height="0.66"/><rect x="442.28" y="79.33" width="0.66" height="0.66"/><rect x="463.00" y="91.24" width="0.66" height="0.66"/><rect x="466.90" y="80.47" width="0.66" height="0.66"/><rect x="461.28" y="86.39" width="0.66" height="0.66"/><rect x="437.43" y="90.70" width="0.66" height="0.66"/><rect x="438.09" y="91.48" width="0.66" height="0.66"/><rect x="450.03" y="85.15" width="0.66" height="0.66"/><rect x="477.88" y="99.96" width="0.66" height="0.66"/><rect x="459.48" y="90.25" width="0.66" height="0.66"/><rect x="446.60" y="97.55" width="0.66" height="0.66"/><rect x="461.58" y="79.45" width="0.66" height="0.66"/><rect x="437.05" y="86.83" width="0.66" height="0.66"/><rect x="452.98" y="94.27" width="0.66" height="0.66"/><rect x="443.87" y="79.27" width="0.66" height="0.66"/><rect x="459.41" y="87.59" width="0.66" height="0.66"/><rect x="465.07" y="96.47" width="0.66" height="0.66"/><rect x="445.23" y="66.52" width="0.66" height="0.66"/><rect x="455.51" y="80.57" width="0.66" height="0.66"/><rect x="457.49" y="63.59" width="0.66" height="0.66"/><rect x="453.80" y="87.65" width="0.66" height="0.66"/><rect x="448.90" y="91.27" width="0.66" height="0.66"/><rect x="456.03" y="88.84" width="0.66" height="0.66"/><rect x="468.84" y="97.98" width="0.66" height="0.66"/><rect x="467.79" y="90.08" width="0.66" height="0.66"/><rect x="456.44" y="91.72" width="0.66" height="0.66"/><rect x="458.29" y="80.59" width="0.66" height="0.66"/><rect x="459.12" y="94.73" width="0.66" height="0.66"/><rect x="450.54" y="77.49" width="0.66" height="0.66"/><rect x="461.11" y="80.42" width="0.66" height="0.66"/><rect x="438.96" y="84.76" width="0.66" height="0.66"/><rect x="439.24" y="89.71" width="0.66" height="0.66"/><rect x="449.43" y="87.55" width="0.66" height="0.66"/><rect x="467.15" y="96.47" width="0.66" height="0.66"/><rect x="453.90" y="67.55" width="0.66" height="0.66"/><rect x="449.83" y="76.87" width="0.66" height="0.66"/><rect x="464.52" y="100.22" width="0.66" height="0.66"/><rect x="462.39" y="92.38" width="0.66" height="0.66"/><rect x="460.88" y="92.72" width="0.66" height="0.66"/><rect x="450.97" y="94.56" width="0.66" height="0.66"/><rect x="451.65" y="76.98" width="0.66" height="0.66"/><rect x="455.46" y="100.55" width="0.66" height="0.66"/><rect x="452.92" y="71.74" width="0.66" height="0.66"/><rect x="468.19" y="88.94" width="0.66" height="0.66"/><rect x="460.80" y="82.89" width="0.66" height="0.66"/><rect x="460.10" y="100.68" width="0.66" height="0.66"/><rect x="448.03" y="92.79" width="0.66" height="0.66"/><rect x="458.73" y="79.49" width="0.66" height="0.66"/><rect x="456.88" y="91.94" width="0.66" height="0.66"/><rect x="445.92" y="96.88" width="0.66" height="0.66"/><rect x="443.05" y="96.79" width="0.66" height="0.66"/><rect x="461.60" y="89.11" width="0.66" height="0.66"/><rect x="446.59" y="80.21" width="0.66" height="0.66"/><rect x="431.26" y="86.69" width="0.66" height="0.66"/><rect x="453.59" y="91.66" width="0.66" height="0.66"/><rect x="465.89" y="88.60" width="0.66" height="0.66"/><rect x="451.36" y="95.34" width="0.66" height="0.66"/><rect x="454.87" y="86.68" width="0.66" height="0.66"/><rect x="442.42" y="95.91" width="0.66" height="0.66"/><rect x="447.79" y="103.45" width="0.66" height="0.66"/><rect x="445.74" y="82.78" width="0.66" height="0.66"/><rect x="455.91" y="80.92" width="0.66" height="0.66"/><rect x="439.39" y="77.16" width="0.66" height="0.66"/><rect x="446.18" y="84.88" width="0.66" height="0.66"/><rect x="465.43" y="92.60" width="0.66" height="0.66"/><rect x="458.36" y="93.82" width="0.66" height="0.66"/><rect x="431.71" y="81.65" width="0.66" height="0.66"/><rect x="449.06" y="78.09" width="0.66" height="0.66"/><rect x="460.08" y="81.33" width="0.66" height="0.66"/><rect x="443.23" y="94.47" width="0.66" height="0.66"/><rect x="448.00" y="84.78" width="0.66" height="0.66"/><rect x="438.90" y="94.60" width="0.66" height="0.66"/><rect x="455.43" y="99.17" width="0.66" height="0.66"/><rect x="478.41" y="92.60" width="0.66" height="0.66"/><rect x="451.11" y="80.19" width="0.66" height="0.66"/><rect x="472.42" y="85.17" width="0.66" height="0.66"/><rect x="461.66" y="88.95" width="0.66" height="0.66"/><rect x="456.65" y="88.60" width="0.66" height="0.66"/><rect x="453.51" y="88.91" width="0.66" height="0.66"/><rect x="444.22" y="92.06" width="0.66" height="0.66"/><rect x="449.53" y="88.28" width="0.66" height="0.66"/><rect x="472.50" y="88.76" width="0.66" height="0.66"/><rect x="444.04" y="90.04" width="0.66" height="0.66"/><rect x="439.60" y="88.34" width="0.66" height="0.66"/><rect x="469.88" y="77.92" width="0.66" height="0.66"/><rect x="453.37" y="79.47" width="0.66" height="0.66"/><rect x="456.79" y="89.70" width="0.66" height="0.66"/><rect x="456.84" y="84.55" width="0.66" height="0.66"/><rect x="434.78" y="79.27" width="0.66" height="0.66"/><rect x="450.32" y="93.81" width="0.66" height="0.66"/><rect x="433.75" y="96.15" width="0.66" height="0.66"/><rect x="446.99" y="72.67" width="0.66" height="0.66"/><rect x="470.38" y="89.80" width="0.66" height="0.66"/><rect x="445.02" y="89.13" width="0.66" height="0.66"/><rect x="461.30" y="74.75" width="0.66" height="0.66"/><rect x="468.53" y="79.68" width="0.66" height="0.66"/><rect x="463.60" y="82.14" width="0.66" height="0.66"/><rect x="438.22" y="81.83" width="0.66" height="0.66"/><rect x="449.46" y="87.92" width="0.66" height="0.66"/><rect x="437.27" y="78.39" width="0.66" height="0.66"/><rect x="458.22" y="83.66" width="0.66" height="0.66"/><rect x="449.38" y="90.59" width="0.66" height="0.66"/><rect x="440.97" y="103.71" width="0.66" height="0.66"/><rect x="447.05" y="89.97" width="0.66" height="0.66"/><rect x="453.15" y="95.20" width="0.66" height="0.66"/><rect x="450.24" y="80.26" width="0.66" height="0.66"/><rect x="457.46" y="91.94" width="0.66" height="0.66"/><rect x="453.31" y="104.04" width="0.66" height="0.66"/><rect x="462.79" y="98.39" width="0.66" height="0.66"/><rect x="468.33" y="95.50" width="0.66" height="0.66"/><rect x="452.93" y="100.51" width="0.66" height="0.66"/><rect x="451.00" y="88.01" width="0.66" height="0.66"/><rect x="469.54" y="94.70" width="0.66" height="0.66"/><rect x="443.53" y="84.26" width="0.66" height="0.66"/><rect x="445.49" y="96.49" width="0.66" height="0.66"/><rect x="451.11" y="86.99" width="0.66" height="0.66"/><rect x="447.68" y="82.56" width="0.66" height="0.66"/><rect x="461.87" y="78.38" width="0.66" height="0.66"/><rect x="455.42" y="82.67" width="0.66" height="0.66"/><rect x="451.01" y="76.08" width="0.66" height="0.66"/><rect x="466.97" y="73.29" width="0.66" height="0.66"/><rect x="441.97" y="83.27" width="0.66" height="0.66"/><rect x="455.51" y="80.45" width="0.66" height="0.66"/><rect x="437.78" y="82.75" width="0.66" height="0.66"/><rect x="444.30" y="81.07" width="0.66" height="0.66"/><rect x="471.45" y="69.54" width="0.66" height="0.66"/><rect x="454.45" y="89.82" width="0.66" height="0.66"/><rect x="450.38" y="83.70" width="0.66" height="0.66"/><rect x="465.81" y="84.95" width="0.66" height="0.66"/><rect x="436.65" y="83.53" width="0.66" height="0.66"/><rect x="458.46" y="83.43" width="0.66" height="0.66"/><rect x="448.63" y="88.13" width="0.66" height="0.66"/><rect x="449.49" y="87.72" width="0.66" height="0.66"/><rect x="461.38" y="81.43" width="0.66" height="0.66"/><rect x="438.29" y="97.62" width="0.66" height="0.66"/><rect x="458.70" y="80.19" width="0.66" height="0.66"/><rect x="439.92" y="86.67" width="0.66" height="0.66"/><rect x="456.73" y="90.67" width="0.66" height="0.66"/><rect x="458.39" y="82.96" width="0.66" height="0.66"/></g>
<path d="M492.34,83.11 C491.80,84.39 491.05,85.07 490.32,85.85 C489.59,86.63 488.50,87.11 487.93,87.79 C487.37,88.47 487.67,89.24 486.91,89.93 C486.15,90.62 484.51,91.44 483.37,91.91 C482.22,92.38 481.16,92.52 480.05,92.76 C478.93,93.00 477.71,93.56 476.67,93.35 C475.63,93.14 474.68,92.04 473.79,91.48 C472.90,90.91 471.93,90.41 471.32,89.98 C470.71,89.56 470.56,89.78 470.14,88.90 C469.71,88.02 469.15,85.67 468.77,84.70 C468.39,83.73 468.07,84.04 467.86,83.08 C467.65,82.12 467.34,80.21 467.48,78.95 C467.62,77.68 468.28,76.61 468.68,75.47 C469.08,74.32 469.33,73.17 469.88,72.06 C470.43,70.95 471.14,69.82 472.00,68.79 C472.86,67.76 474.32,66.90 475.04,65.90 C475.77,64.89 475.40,63.41 476.35,62.76 C477.29,62.11 479.70,62.12 480.69,61.99 C481.69,61.87 481.44,62.09 482.32,62.04 C483.19,61.98 484.78,61.72 485.92,61.66 C487.06,61.59 488.39,61.22 489.16,61.66 C489.93,62.10 490.08,63.50 490.56,64.28 C491.04,65.05 491.59,65.52 492.04,66.29 C492.50,67.07 492.79,67.89 493.29,68.94 C493.80,70.00 494.73,71.56 495.07,72.62 C495.41,73.67 495.60,74.35 495.35,75.28 C495.10,76.21 494.05,76.89 493.55,78.19 C493.05,79.50 492.88,81.84 492.34,83.11 Z" fill="#bdbdbd" stroke="#6a6a6a" stroke-width="0.8"/>
<path d="M491.26,80.73 C490.50,82.13 489.59,83.86 488.69,84.92 C487.78,85.98 486.57,86.53 485.82,87.10 C485.07,87.66 485.09,87.83 484.20,88.32 C483.30,88.82 481.73,89.88 480.46,90.07 C479.19,90.27 477.49,89.78 476.56,89.50 C475.64,89.21 475.54,88.99 474.91,88.35 C474.29,87.71 473.53,86.61 472.82,85.65 C472.12,84.68 471.05,83.45 470.68,82.56 C470.31,81.67 470.53,81.36 470.61,80.30 C470.68,79.25 470.90,77.56 471.15,76.26 C471.40,74.95 471.67,73.78 472.10,72.46 C472.52,71.14 472.84,69.36 473.70,68.33 C474.56,67.30 476.24,67.10 477.27,66.27 C478.31,65.44 478.98,63.95 479.91,63.35 C480.85,62.74 481.85,62.57 482.86,62.65 C483.86,62.73 485.01,63.38 485.95,63.80 C486.90,64.23 487.56,64.81 488.53,65.19 C489.49,65.57 491.11,65.32 491.74,66.09 C492.37,66.86 492.23,68.61 492.31,69.80 C492.39,71.00 492.09,72.13 492.24,73.25 C492.40,74.38 493.41,75.32 493.25,76.56 C493.08,77.81 492.02,79.34 491.26,80.73 Z" fill="none" stroke="#666" stroke-width="0.5"/>
<path d="M489.16,79.77 C488.77,80.75 488.12,81.17 487.57,82.08 C487.03,83.00 486.60,84.65 485.89,85.25 C485.17,85.86 484.16,85.46 483.28,85.70 C482.40,85.95 481.52,86.39 480.62,86.70 C479.71,87.01 478.44,87.83 477.83,87.57 C477.22,87.32 477.41,85.70 476.96,85.16 C476.51,84.62 475.74,84.94 475.14,84.33 C474.53,83.72 473.63,82.37 473.35,81.47 C473.07,80.58 473.39,79.83 473.47,78.98 C473.55,78.12 473.75,77.23 473.83,76.32 C473.91,75.42 473.45,74.40 473.96,73.55 C474.48,72.69 476.19,72.20 476.92,71.20 C477.66,70.20 477.92,68.38 478.40,67.54 C478.87,66.70 478.88,66.47 479.77,66.17 C480.66,65.86 482.83,65.61 483.72,65.71 C484.62,65.82 484.59,66.54 485.16,66.79 C485.72,67.03 486.51,66.97 487.14,67.19 C487.77,67.42 488.43,67.38 488.94,68.14 C489.45,68.90 490.04,70.83 490.20,71.73 C490.35,72.63 489.91,72.77 489.86,73.51 C489.82,74.26 490.04,75.15 489.93,76.19 C489.81,77.24 489.56,78.79 489.16,79.77 Z" fill="none" stroke="#777" stroke-width="0.45"/>
<path d="M486.71,78.92 C486.56,79.71 486.73,80.12 486.31,80.72 C485.89,81.32 484.90,82.05 484.18,82.52 C483.46,82.98 482.53,83.18 482.00,83.52 C481.48,83.86 481.58,84.50 481.00,84.53 C480.42,84.56 479.17,83.81 478.51,83.69 C477.86,83.58 477.35,84.22 477.09,83.84 C476.83,83.46 477.02,81.84 476.96,81.40 C476.91,80.96 476.91,81.66 476.75,81.20 C476.60,80.74 476.23,79.59 476.03,78.65 C475.82,77.71 475.38,76.40 475.52,75.54 C475.66,74.67 476.53,74.09 476.86,73.47 C477.19,72.85 477.17,72.30 477.47,71.81 C477.78,71.33 478.10,70.86 478.68,70.57 C479.27,70.27 480.30,70.28 481.00,70.05 C481.69,69.81 482.26,69.30 482.84,69.16 C483.41,69.03 483.94,69.23 484.44,69.25 C484.93,69.28 485.24,68.90 485.79,69.30 C486.34,69.70 487.35,71.07 487.74,71.66 C488.14,72.26 488.20,72.47 488.16,72.88 C488.13,73.28 487.69,73.58 487.53,74.10 C487.36,74.62 487.33,75.20 487.20,76.00 C487.06,76.80 486.86,78.13 486.71,78.92 Z" fill="none" stroke="#888" stroke-width="0.45"/>
<path d="M484.48,78.02 C484.30,78.36 484.47,78.12 484.08,78.42 C483.69,78.72 482.57,79.34 482.16,79.82 C481.75,80.29 481.76,81.00 481.62,81.25 C481.48,81.50 481.55,81.28 481.31,81.31 C481.07,81.34 480.61,81.52 480.19,81.42 C479.76,81.32 479.08,80.82 478.75,80.71 C478.42,80.60 478.38,80.93 478.21,80.74 C478.04,80.56 477.80,80.03 477.72,79.60 C477.63,79.18 477.59,78.72 477.69,78.18 C477.79,77.65 478.01,77.03 478.34,76.41 C478.66,75.79 479.50,74.75 479.63,74.46 C479.75,74.17 478.91,75.03 479.08,74.67 C479.26,74.32 480.12,72.61 480.67,72.33 C481.22,72.04 482.18,73.06 482.40,72.96 C482.61,72.86 481.89,71.97 481.97,71.73 C482.06,71.49 482.50,71.55 482.92,71.53 C483.34,71.52 484.10,71.55 484.47,71.66 C484.85,71.77 485.14,71.73 485.17,72.19 C485.20,72.65 484.67,73.94 484.65,74.41 C484.64,74.88 484.99,74.65 485.07,74.99 C485.15,75.32 485.26,75.90 485.16,76.40 C485.06,76.91 484.66,77.68 484.48,78.02 Z" fill="none" stroke="#999" stroke-width="0.4"/>
<g fill="#222" fill-opacity="0.55"><rect x="488.53" y="68.30" width="0.60" height="0.60"/><rect x="483.80" y="87.62" width="0.60" height="0.60"/><rect x="481.65" y="90.02" width="0.60" height="0.60"/><rect x="492.02" y="85.65" width="0.60" height="0.60"/><rect x="470.43" y="71.10" width="0.60" height="0.60"/><rect x="486.75" y="88.48" width="0.60" height="0.60"/><rect x="479.90" y="86.59" width="0.60" height="0.60"/><rect x="469.75" y="77.82" width="0.60" height="0.60"/><rect x="492.51" y="79.28" width="0.60" height="0.60"/><rect x="486.15" y="87.18" width="0.60" height="0.60"/><rect x="474.87" y="71.68" width="0.60" height="0.60"/><rect x="476.11" y="70.62" width="0.60" height="0.60"/><rect x="494.08" y="65.55" width="0.60" height="0.60"/><rect x="474.05" y="71.43" width="0.60" height="0.60"/><rect x="487.51" y="65.93" width="0.60" height="0.60"/><rect x="473.87" y="74.85" width="0.60" height="0.60"/><rect x="485.62" y="91.36" width="0.60" height="0.60"/><rect x="487.72" y="84.62" width="0.60" height="0.60"/><rect x="475.68" y="83.56" width="0.60" height="0.60"/><rect x="493.65" y="74.54" width="0.60" height="0.60"/><rect x="469.71" y="73.27" width="0.60" height="0.60"/><rect x="487.91" y="80.22" width="0.60" height="0.60"/><rect x="470.79" y="80.92" width="0.60" height="0.60"/><rect x="473.95" y="90.76" width="0.60" height="0.60"/><rect x="491.93" y="85.17" width="0.60" height="0.60"/><rect x="467.14" y="83.09" width="0.60" height="0.60"/><rect x="473.16" y="73.58" width="0.60" height="0.60"/><rect x="478.77" y="67.13" width="0.60" height="0.60"/><rect x="479.34" y="90.42" width="0.60" height="0.60"/><rect x="482.58" y="85.29" width="0.60" height="0.60"/><rect x="483.03" y="62.37" width="0.60" height="0.60"/><rect x="470.19" y="81.50" width="0.60" height="0.60"/><rect x="486.77" y="67.03" width="0.60" height="0.60"/><rect x="474.64" y="91.17" width="0.60" height="0.60"/><rect x="469.69" y="87.07" width="0.60" height="0.60"/><rect x="488.44" y="60.82" width="0.60" height="0.60"/><rect x="488.28" y="65.40" width="0.60" height="0.60"/><rect x="490.80" y="70.62" width="0.60" height="0.60"/><rect x="484.36" y="65.69" width="0.60" height="0.60"/><rect x="482.28" y="87.72" width="0.60" height="0.60"/><rect x="492.11" y="73.50" width="0.60" height="0.60"/><rect x="485.69" y="81.90" width="0.60" height="0.60"/><rect x="479.30" y="62.27" width="0.60" height="0.60"/><rect x="487.90" y="77.97" width="0.60" height="0.60"/><rect x="488.79" y="77.09" width="0.60" height="0.60"/><rect x="469.98" y="75.91" width="0.60" height="0.60"/><rect x="484.59" y="67.90" width="0.60" height="0.60"/><rect x="488.58" y="71.41" width="0.60" height="0.60"/><rect x="486.51" y="68.20" width="0.60" height="0.60"/><rect x="492.23" y="64.17" width="0.60" height="0.60"/><rect x="473.46" y="68.71" width="0.60" height="0.60"/><rect x="490.01" y="79.75" width="0.60" height="0.60"/><rect x="471.15" y="73.40" width="0.60" height="0.60"/><rect x="472.25" y="74.78" width="0.60" height="0.60"/><rect x="469.14" y="81.80" width="0.60" height="0.60"/><rect x="482.11" y="65.36" width="0.60" height="0.60"/><rect x="471.41" y="88.19" width="0.60" height="0.60"/><rect x="479.29" y="89.36" width="0.60" height="0.60"/><rect x="473.19" y="82.96" width="0.60" height="0.60"/><rect x="490.52" y="68.14" width="0.60" height="0.60"/><rect x="474.10" y="92.81" width="0.60" height="0.60"/><rect x="475.81" y="85.54" width="0.60" height="0.60"/><rect x="469.76" y="78.50" width="0.60" height="0.60"/><rect x="493.57" y="69.50" width="0.60" height="0.60"/><rect x="474.62" y="69.08" width="0.60" height="0.60"/><rect x="467.35" y="82.88" width="0.60" height="0.60"/><rect x="490.38" y="83.04" width="0.60" height="0.60"/><rect x="493.06" y="70.14" width="0.60" height="0.60"/><rect x="468.56" y="87.45" width="0.60" height="0.60"/><rect x="490.73" y="71.04" width="0.60" height="0.60"/><rect x="489.35" y="74.33" width="0.60" height="0.60"/><rect x="473.96" y="81.55" width="0.60" height="0.60"/><rect x="487.23" y="68.26" width="0.60" height="0.60"/><rect x="476.08" y="66.66" width="0.60" height="0.60"/><rect x="480.49" y="68.08" width="0.60" height="0.60"/><rect x="478.04" y="66.13" width="0.60" height="0.60"/><rect x="485.29" y="64.60" width="0.60" height="0.60"/><rect x="491.22" y="70.74" width="0.60" height="0.60"/><rect x="488.25" y="72.30" width="0.60" height="0.60"/><rect x="484.36" y="66.05" width="0.60" height="0.60"/><rect x="472.40" y="91.42" width="0.60" height="0.60"/><rect x="484.76" y="84.19" width="0.60" height="0.60"/><rect x="472.53" y="74.34" width="0.60" height="0.60"/><rect x="470.78" y="81.44" width="0.60" height="0.60"/><rect x="483.73" y="88.94" width="0.60" height="0.60"/><rect x="493.09" y="78.00" width="0.60" height="0.60"/><rect x="485.38" y="66.33" width="0.60" height="0.60"/><rect x="491.85" y="77.99" width="0.60" height="0.60"/><rect x="490.93" y="69.83" width="0.60" height="0.60"/><rect x="488.43" y="61.00" width="0.60" height="0.60"/><rect x="487.68" y="67.66" width="0.60" height="0.60"/><rect x="483.54" y="86.56" width="0.60" height="0.60"/><rect x="491.43" y="77.07" width="0.60" height="0.60"/><rect x="487.90" y="70.09" width="0.60" height="0.60"/><rect x="488.14" y="68.31" width="0.60" height="0.60"/><rect x="471.92" y="90.93" width="0.60" height="0.60"/><rect x="491.68" y="77.74" width="0.60" height="0.60"/><rect x="489.47" y="76.78" width="0.60" height="0.60"/><rect x="494.02" y="73.72" width="0.60" height="0.60"/><rect x="484.02" y="59.88" width="0.60" height="0.60"/><rect x="473.14" y="87.36" width="0.60" height="0.60"/><rect x="480.02" y="84.40" width="0.60" height="0.60"/><rect x="470.13" y="72.75" width="0.60" height="0.60"/><rect x="486.63" y="68.97" width="0.60" height="0.60"/><rect x="469.01" y="83.02" width="0.60" height="0.60"/><rect x="492.11" y="64.83" width="0.60" height="0.60"/><rect x="474.91" y="63.46" width="0.60" height="0.60"/><rect x="485.93" y="88.81" width="0.60" height="0.60"/><rect x="488.55" y="82.45" width="0.60" height="0.60"/><rect x="483.03" y="89.78" width="0.60" height="0.60"/><rect x="490.72" y="65.38" width="0.60" height="0.60"/><rect x="487.42" y="65.95" width="0.60" height="0.60"/><rect x="487.59" y="81.41" width="0.60" height="0.60"/><rect x="473.71" y="78.52" width="0.60" height="0.60"/><rect x="489.16" y="67.14" width="0.60" height="0.60"/><rect x="485.97" y="67.12" width="0.60" height="0.60"/><rect x="482.40" y="85.38" width="0.60" height="0.60"/><rect x="489.68" y="63.58" width="0.60" height="0.60"/><rect x="490.76" y="74.03" width="0.60" height="0.60"/><rect x="470.35" y="79.78" width="0.60" height="0.60"/><rect x="484.53" y="62.28" width="0.60" height="0.60"/><rect x="472.72" y="85.48" width="0.60" height="0.60"/><rect x="487.91" y="69.66" width="0.60" height="0.60"/><rect x="473.83" y="77.64" width="0.60" height="0.60"/><rect x="490.95" y="72.20" width="0.60" height="0.60"/><rect x="476.13" y="85.67" width="0.60" height="0.60"/><rect x="491.39" y="73.17" width="0.60" height="0.60"/><rect x="472.21" y="83.32" width="0.60" height="0.60"/><rect x="492.75" y="71.19" width="0.60" height="0.60"/><rect x="475.62" y="90.26" width="0.60" height="0.60"/><rect x="477.73" y="88.54" width="0.60" height="0.60"/><rect x="494.03" y="78.88" width="0.60" height="0.60"/><rect x="475.95" y="83.88" width="0.60" height="0.60"/><rect x="476.74" y="89.47" width="0.60" height="0.60"/><rect x="471.19" y="80.75" width="0.60" height="0.60"/><rect x="490.92" y="78.20" width="0.60" height="0.60"/><rect x="491.60" y="83.86" width="0.60" height="0.60"/><rect x="474.00" y="77.12" width="0.60" height="0.60"/><rect x="485.39" y="90.01" width="0.60" height="0.60"/><rect x="474.48" y="87.54" width="0.60" height="0.60"/><rect x="482.90" y="89.62" width="0.60" height="0.60"/><rect x="486.58" y="85.22" width="0.60" height="0.60"/><rect x="478.45" y="91.81" width="0.60" height="0.60"/><rect x="489.72" y="66.54" width="0.60" height="0.60"/><rect x="485.79" y="66.80" width="0.60" height="0.60"/><rect x="490.83" y="76.43" width="0.60" height="0.60"/><rect x="482.74" y="65.96" width="0.60" height="0.60"/><rect x="479.07" y="60.52" width="0.60" height="0.60"/><rect x="472.16" y="73.05" width="0.60" height="0.60"/><rect x="487.80" y="82.95" width="0.60" height="0.60"/><rect x="486.08" y="88.58" width="0.60" height="0.60"/><rect x="483.97" y="86.98" width="0.60" height="0.60"/><rect x="490.85" y="82.23" width="0.60" height="0.60"/><rect x="473.63" y="83.00" width="0.60" height="0.60"/><rect x="470.69" y="86.70" width="0.60" height="0.60"/><rect x="471.01" y="75.87" width="0.60" height="0.60"/><rect x="487.06" y="82.37" width="0.60" height="0.60"/><rect x="485.46" y="86.47" width="0.60" height="0.60"/><rect x="481.88" y="64.25" width="0.60" height="0.60"/><rect x="489.74" y="84.52" width="0.60" height="0.60"/><rect x="474.31" y="68.58" width="0.60" height="0.60"/><rect x="481.85" y="88.77" width="0.60" height="0.60"/><rect x="473.14" y="86.80" width="0.60" height="0.60"/><rect x="480.22" y="90.63" width="0.60" height="0.60"/><rect x="476.39" y="91.63" width="0.60" height="0.60"/><rect x="472.79" y="77.29" width="0.60" height="0.60"/><rect x="471.81" y="87.01" width="0.60" height="0.60"/><rect x="488.54" y="80.09" width="0.60" height="0.60"/><rect x="489.10" y="72.24" width="0.60" height="0.60"/><rect x="480.57" y="63.48" width="0.60" height="0.60"/><rect x="468.46" y="72.37" width="0.60" height="0.60"/><rect x="490.94" y="65.29" width="0.60" height="0.60"/><rect x="484.56" y="67.51" width="0.60" height="0.60"/><rect x="488.83" y="71.22" width="0.60" height="0.60"/><rect x="475.20" y="85.38" width="0.60" height="0.60"/><rect x="472.57" y="69.18" width="0.60" height="0.60"/><rect x="475.32" y="70.83" width="0.60" height="0.60"/><rect x="483.06" y="66.98" width="0.60" height="0.60"/><rect x="489.37" y="73.18" width="0.60" height="0.60"/><rect x="478.33" y="69.09" width="0.60" height="0.60"/><rect x="470.21" y="80.68" width="0.60" height="0.60"/><rect x="475.27" y="72.46" width="0.60" height="0.60"/><rect x="488.33" y="71.60" width="0.60" height="0.60"/><rect x="488.14" y="65.16" width="0.60" height="0.60"/><rect x="480.88" y="88.13" width="0.60" height="0.60"/><rect x="480.55" y="61.89" width="0.60" height="0.60"/><rect x="471.56" y="85.08" width="0.60" height="0.60"/><rect x="494.04" y="75.85" width="0.60" height="0.60"/><rect x="473.35" y="71.99" width="0.60" height="0.60"/><rect x="489.04" y="86.68" width="0.60" height="0.60"/><rect x="485.94" y="89.11" width="0.60" height="0.60"/><rect x="477.71" y="85.75" width="0.60" height="0.60"/><rect x="473.92" y="78.44" width="0.60" height="0.60"/><rect x="494.13" y="77.02" width="0.60" height="0.60"/><rect x="493.28" y="66.43" width="0.60" height="0.60"/><rect x="476.58" y="62.15" width="0.60" height="0.60"/><rect x="490.02" y="82.92" width="0.60" height="0.60"/><rect x="488.77" y="72.81" width="0.60" height="0.60"/><rect x="489.65" y="78.55" width="0.60" height="0.60"/><rect x="484.86" y="59.87" width="0.60" height="0.60"/><rect x="485.20" y="91.79" width="0.60" height="0.60"/><rect x="486.90" y="64.97" width="0.60" height="0.60"/><rect x="471.30" y="77.03" width="0.60" height="0.60"/><rect x="477.28" y="68.73" width="0.60" height="0.60"/><rect x="482.66" y="85.93" width="0.60" height="0.60"/><rect x="468.68" y="81.19" width="0.60" height="0.60"/><rect x="489.35" y="75.21" width="0.60" height="0.60"/><rect x="471.75" y="86.96" width="0.60" height="0.60"/><rect x="470.91" y="90.08" width="0.60" height="0.60"/><rect x="477.30" y="85.48" width="0.60" height="0.60"/><rect x="479.71" y="63.49" width="0.60" height="0.60"/><rect x="473.01" y="83.13" width="0.60" height="0.60"/><rect x="490.45" y="68.31" width="0.60" height="0.60"/><rect x="489.14" y="78.82" width="0.60" height="0.60"/><rect x="475.82" y="90.20" width="0.60" height="0.60"/><rect x="491.23" y="63.03" width="0.60" height="0.60"/><rect x="473.75" y="91.95" width="0.60" height="0.60"/><rect x="481.51" y="65.55" width="0.60" height="0.60"/><rect x="490.54" y="69.47" width="0.60" height="0.60"/><rect x="472.83" y="91.64" width="0.60" height="0.60"/><rect x="469.38" y="78.29" width="0.60" height="0.60"/><rect x="470.54" y="70.08" width="0.60" height="0.60"/><rect x="477.24" y="63.64" width="0.60" height="0.60"/><rect x="490.86" y="84.07" width="0.60" height="0.60"/><rect x="480.24" y="68.09" width="0.60" height="0.60"/><rect x="480.77" y="88.18" width="0.60" height="0.60"/><rect x="469.21" y="77.22" width="0.60" height="0.60"/><rect x="474.37" y="66.07" width="0.60" height="0.60"/><rect x="487.00" y="86.79" width="0.60" height="0.60"/><rect x="491.83" y="84.17" width="0.60" height="0.60"/><rect x="473.67" y="71.51" width="0.60" height="0.60"/><rect x="491.10" y="66.98" width="0.60" height="0.60"/><rect x="491.46" y="86.58" width="0.60" height="0.60"/><rect x="470.00" y="71.73" width="0.60" height="0.60"/><rect x="490.19" y="73.76" width="0.60" height="0.60"/><rect x="470.83" y="75.72" width="0.60" height="0.60"/><rect x="492.87" y="83.28" width="0.60" height="0.60"/><rect x="476.03" y="67.61" width="0.60" height="0.60"/><rect x="486.35" y="88.28" width="0.60" height="0.60"/><rect x="475.64" y="86.63" width="0.60" height="0.60"/><rect x="479.13" y="66.65" width="0.60" height="0.60"/><rect x="468.85" y="77.72" width="0.60" height="0.60"/><rect x="488.83" y="83.62" width="0.60" height="0.60"/><rect x="487.03" y="84.24" width="0.60" height="0.60"/><rect x="486.62" y="66.26" width="0.60" height="0.60"/><rect x="488.13" y="79.50" width="0.60" height="0.60"/><rect x="482.70" y="67.20" width="0.60" height="0.60"/><rect x="476.16" y="88.46" width="0.60" height="0.60"/><rect x="474.29" y="69.37" width="0.60" height="0.60"/><rect x="494.29" y="69.17" width="0.60" height="0.60"/><rect x="483.25" y="84.96" width="0.60" height="0.60"/><rect x="491.48" y="67.16" width="0.60" height="0.60"/><rect x="489.43" y="74.59" width="0.60" height="0.60"/><rect x="480.33" y="91.83" width="0.60" height="0.60"/><rect x="483.69" y="92.23" width="0.60" height="0.60"/><rect x="486.45" y="87.22" width="0.60" height="0.60"/><rect x="485.76" y="63.34" width="0.60" height="0.60"/><rect x="492.11" y="66.63" width="0.60" height="0.60"/><rect x="477.21" y="67.59" width="0.60" height="0.60"/><rect x="487.28" y="66.53" width="0.60" height="0.60"/><rect x="488.99" y="77.08" width="0.60" height="0.60"/><rect x="478.46" y="86.79" width="0.60" height="0.60"/><rect x="483.91" y="61.99" width="0.60" height="0.60"/><rect x="473.42" y="87.09" width="0.60" height="0.60"/><rect x="493.48" y="74.32" width="0.60" height="0.60"/><rect x="473.91" y="70.94" width="0.60" height="0.60"/><rect x="475.32" y="72.54" width="0.60" height="0.60"/><rect x="473.57" y="84.43" width="0.60" height="0.60"/><rect x="480.08" y="85.68" width="0.60" height="0.60"/><rect x="478.44" y="93.44" width="0.60" height="0.60"/><rect x="479.93" y="66.60" width="0.60" height="0.60"/><rect x="469.04" y="79.10" width="0.60" height="0.60"/><rect x="476.38" y="86.04" width="0.60" height="0.60"/><rect x="487.52" y="64.18" width="0.60" height="0.60"/><rect x="474.13" y="68.41" width="0.60" height="0.60"/><rect x="485.09" y="60.86" width="0.60" height="0.60"/><rect x="487.20" y="86.60" width="0.60" height="0.60"/><rect x="487.17" y="89.88" width="0.60" height="0.60"/><rect x="472.19" y="79.58" width="0.60" height="0.60"/><rect x="486.43" y="82.68" width="0.60" height="0.60"/><rect x="495.76" y="69.80" width="0.60" height="0.60"/><rect x="476.66" y="89.15" width="0.60" height="0.60"/><rect x="485.70" y="62.13" width="0.60" height="0.60"/><rect x="492.32" y="79.62" width="0.60" height="0.60"/><rect x="469.80" y="76.40" width="0.60" height="0.60"/><rect x="488.33" y="70.61" width="0.60" height="0.60"/><rect x="471.78" y="75.32" width="0.60" height="0.60"/><rect x="485.22" y="89.95" width="0.60" height="0.60"/><rect x="472.89" y="89.06" width="0.60" height="0.60"/><rect x="474.35" y="88.25" width="0.60" height="0.60"/><rect x="480.10" y="87.22" width="0.60" height="0.60"/><rect x="470.32" y="69.89" width="0.60" height="0.60"/><rect x="489.29" y="72.18" width="0.60" height="0.60"/><rect x="493.51" y="70.55" width="0.60" height="0.60"/><rect x="468.01" y="81.76" width="0.60" height="0.60"/><rect x="475.17" y="84.90" width="0.60" height="0.60"/><rect x="473.84" y="82.22" width="0.60" height="0.60"/><rect x="469.08" y="87.72" width="0.60" height="0.60"/><rect x="486.07" y="60.57" width="0.60" height="0.60"/><rect x="473.42" y="75.50" width="0.60" height="0.60"/><rect x="469.82" y="72.24" width="0.60" height="0.60"/><rect x="471.24" y="80.02" width="0.60" height="0.60"/><rect x="479.60" y="67.48" width="0.60" height="0.60"/><rect x="473.13" y="80.46" width="0.60" height="0.60"/><rect x="481.19" y="91.20" width="0.60" height="0.60"/><rect x="479.73" y="86.75" width="0.60" height="0.60"/><rect x="471.13" y="72.58" width="0.60" height="0.60"/><rect x="477.60" y="65.28" width="0.60" height="0.60"/><rect x="469.32" y="78.47" width="0.60" height="0.60"/><rect x="490.04" y="65.92" width="0.60" height="0.60"/><rect x="472.28" y="76.06" width="0.60" height="0.60"/><rect x="475.75" y="66.90" width="0.60" height="0.60"/><rect x="492.22" y="64.16" width="0.60" height="0.60"/><rect x="489.98" y="71.78" width="0.60" height="0.60"/><rect x="482.47" y="61.80" width="0.60" height="0.60"/><rect x="481.81" y="85.33" width="0.60" height="0.60"/><rect x="474.94" y="87.77" width="0.60" height="0.60"/><rect x="472.63" y="74.47" width="0.60" height="0.60"/><rect x="477.29" y="68.22" width="0.60" height="0.60"/><rect x="477.11" y="61.91" width="0.60" height="0.60"/><rect x="479.20" y="87.88" width="0.60" height="0.60"/><rect x="472.48" y="67.30" width="0.60" height="0.60"/><rect x="489.87" y="75.22" width="0.60" height="0.60"/><rect x="488.07" y="78.89" width="0.60" height="0.60"/><rect x="490.51" y="74.59" width="0.60" height="0.60"/><rect x="473.55" y="81.12" width="0.60" height="0.60"/><rect x="485.00" y="61.85" width="0.60" height="0.60"/><rect x="484.88" y="59.61" width="0.60" height="0.60"/><rect x="488.15" y="86.32" width="0.60" height="0.60"/><rect x="488.54" y="70.48" width="0.60" height="0.60"/><rect x="476.98" y="66.42" width="0.60" height="0.60"/><rect x="476.91" y="86.01" width="0.60" height="0.60"/><rect x="487.61" y="65.74" width="0.60" height="0.60"/><rect x="477.28" y="86.29" width="0.60" height="0.60"/><rect x="485.92" y="64.02" width="0.60" height="0.60"/><rect x="485.01" y="67.26" width="0.60" height="0.60"/><rect x="488.22" y="60.70" width="0.60" height="0.60"/><rect x="485.50" y="83.88" width="0.60" height="0.60"/><rect x="473.62" y="87.57" width="0.60" height="0.60"/><rect x="481.86" y="67.24" width="0.60" height="0.60"/><rect x="469.44" y="86.26" width="0.60" height="0.60"/><rect x="482.75" y="84.42" width="0.60" height="0.60"/><rect x="473.45" y="70.45" width="0.60" height="0.60"/><rect x="471.41" y="67.68" width="0.60" height="0.60"/><rect x="472.87" y="86.76" width="0.60" height="0.60"/><rect x="473.60" y="74.60" width="0.60" height="0.60"/><rect x="490.40" y="76.75" width="0.60" height="0.60"/><rect x="487.83" y="82.56" width="0.60" height="0.60"/><rect x="475.57" y="85.57" width="0.60" height="0.60"/><rect x="488.33" y="79.01" width="0.60" height="0.60"/><rect x="471.27" y="91.09" width="0.60" height="0.60"/><rect x="489.73" y="83.60" width="0.60" height="0.60"/><rect x="467.24" y="75.31" width="0.60" height="0.60"/><rect x="472.28" y="67.54" width="0.60" height="0.60"/><rect x="490.00" y="64.94" width="0.60" height="0.60"/><rect x="476.05" y="89.70" width="0.60" height="0.60"/><rect x="475.69" y="87.88" width="0.60" height="0.60"/><rect x="485.29" y="65.48" width="0.60" height="0.60"/><rect x="472.76" y="83.61" width="0.60" height="0.60"/><rect x="493.18" y="77.83" width="0.60" height="0.60"/><rect x="469.13" y="85.72" width="0.60" height="0.60"/><rect x="475.84" y="69.05" width="0.60" height="0.60"/><rect x="480.63" y="89.47" width="0.60" height="0.60"/><rect x="477.18" y="91.39" width="0.60" height="0.60"/><rect x="483.51" y="67.44" width="0.60" height="0.60"/><rect x="476.21" y="69.93" width="0.60" height="0.60"/><rect x="480.62" y="85.44" width="0.60" height="0.60"/><rect x="486.77" y="64.11" width="0.60" height="0.60"/><rect x="469.97" y="77.71" width="0.60" height="0.60"/><rect x="490.92" y="69.58" width="0.60" height="0.60"/><rect x="484.57" y="64.34" width="0.60" height="0.60"/><rect x="479.69" y="61.68" width="0.60" height="0.60"/><rect x="472.67" y="79.46" width="0.60" height="0.60"/><rect x="473.76" y="87.86" width="0.60" height="0.60"/><rect x="478.93" y="87.69" width="0.60" height="0.60"/><rect x="474.89" y="68.16" width="0.60" height="0.60"/><rect x="472.42" y="84.07" width="0.60" height="0.60"/><rect x="484.55" y="87.41" width="0.60" height="0.60"/><rect x="476.43" y="68.29" width="0.60" height="0.60"/><rect x="470.95" y="78.82" width="0.60" height="0.60"/><rect x="474.69" y="92.38" width="0.60" height="0.60"/><rect x="486.90" y="68.44" width="0.60" height="0.60"/><rect x="490.14" y="61.44" width="0.60" height="0.60"/><rect x="479.57" y="66.42" width="0.60" height="0.60"/><rect x="492.27" y="76.55" width="0.60" height="0.60"/><rect x="490.62" y="69.26" width="0.60" height="0.60"/><rect x="467.96" y="79.57" width="0.60" height="0.60"/><rect x="483.54" y="83.46" width="0.60" height="0.60"/><rect x="479.13" y="66.47" width="0.60" height="0.60"/><rect x="494.63" y="73.62" width="0.60" height="0.60"/><rect x="483.83" y="66.59" width="0.60" height="0.60"/><rect x="491.56" y="82.80" width="0.60" height="0.60"/><rect x="472.77" y="75.07" width="0.60" height="0.60"/><rect x="477.21" y="86.08" width="0.60" height="0.60"/><rect x="478.35" y="66.37" width="0.60" height="0.60"/><rect x="468.51" y="72.61" width="0.60" height="0.60"/><rect x="484.06" y="67.74" width="0.60" height="0.60"/><rect x="468.36" y="86.47" width="0.60" height="0.60"/><rect x="471.48" y="80.37" width="0.60" height="0.60"/><rect x="489.58" y="73.75" width="0.60" height="0.60"/><rect x="492.73" y="83.45" width="0.60" height="0.60"/><rect x="485.01" y="64.66" width="0.60" height="0.60"/><rect x="493.73" y="75.01" width="0.60" height="0.60"/><rect x="490.72" y="64.96" width="0.60" height="0.60"/><rect x="472.29" y="88.13" width="0.60" height="0.60"/><rect x="488.00" y="85.14" width="0.60" height="0.60"/><rect x="484.96" y="84.52" width="0.60" height="0.60"/><rect x="481.00" y="92.04" width="0.60" height="0.60"/><rect x="488.55" y="87.18" width="0.60" height="0.60"/><rect x="472.59" y="85.93" width="0.60" height="0.60"/><rect x="487.08" y="89.68" width="0.60" height="0.60"/><rect x="472.57" y="81.05" width="0.60" height="0.60"/><rect x="474.41" y="66.60" width="0.60" height="0.60"/><rect x="468.71" y="78.11" width="0.60" height="0.60"/><rect x="479.74" y="86.17" width="0.60" height="0.60"/><rect x="482.79" y="66.81" width="0.60" height="0.60"/><rect x="488.38" y="81.36" width="0.60" height="0.60"/><rect x="484.55" y="85.63" width="0.60" height="0.60"/><rect x="486.96" y="67.42" width="0.60" height="0.60"/><rect x="486.50" y="80.51" width="0.60" height="0.60"/><rect x="472.74" y="84.32" width="0.60" height="0.60"/><rect x="488.44" y="83.60" width="0.60" height="0.60"/><rect x="483.57" y="64.19" width="0.60" height="0.60"/><rect x="478.54" y="88.94" width="0.60" height="0.60"/><rect x="483.74" y="90.92" width="0.60" height="0.60"/><rect x="474.24" y="85.45" width="0.60" height="0.60"/><rect x="484.07" y="65.45" width="0.60" height="0.60"/><rect x="484.77" y="85.49" width="0.60" height="0.60"/><rect x="468.79" y="87.25" width="0.60" height="0.60"/><rect x="485.12" y="89.81" width="0.60" height="0.60"/><rect x="494.08" y="69.97" width="0.60" height="0.60"/><rect x="470.60" y="81.21" width="0.60" height="0.60"/><rect x="476.19" y="85.28" width="0.60" height="0.60"/><rect x="469.81" y="77.05" width="0.60" height="0.60"/><rect x="476.47" y="70.30" width="0.60" height="0.60"/><rect x="486.76" y="88.59" width="0.60" height="0.60"/><rect x="493.20" y="76.47" width="0.60" height="0.60"/><rect x="486.34" y="70.12" width="0.60" height="0.60"/><rect x="489.72" y="83.03" width="0.60" height="0.60"/><rect x="481.23" y="67.98" width="0.60" height="0.60"/><rect x="472.95" y="75.56" width="0.60" height="0.60"/><rect x="484.54" y="60.71" width="0.60" height="0.60"/><rect x="489.34" y="67.53" width="0.60" height="0.60"/><rect x="472.48" y="86.43" width="0.60" height="0.60"/><rect x="485.88" y="88.03" width="0.60" height="0.60"/><rect x="472.40" y="78.81" width="0.60" height="0.60"/><rect x="475.08" y="70.12" width="0.60" height="0.60"/><rect x="472.24" y="89.89" width="0.60" height="0.60"/><rect x="491.73" y="65.30" width="0.60" height="0.60"/><rect x="475.87" y="69.08" width="0.60" height="0.60"/><rect x="488.43" y="78.21" width="0.60" height="0.60"/><rect x="492.97" y="71.94" width="0.60" height="0.60"/><rect x="481.11" y="91.33" width="0.60" height="0.60"/><rect x="483.94" y="90.41" width="0.60" height="0.60"/><rect x="487.37" y="79.06" width="0.60" height="0.60"/><rect x="482.43" y="86.40" width="0.60" height="0.60"/><rect x="469.30" y="72.39" width="0.60" height="0.60"/><rect x="492.01" y="80.29" width="0.60" height="0.60"/><rect x="474.79" y="65.68" width="0.60" height="0.60"/><rect x="469.24" y="80.64" width="0.60" height="0.60"/><rect x="482.15" y="92.90" width="0.60" height="0.60"/><rect x="491.12" y="71.53" width="0.60" height="0.60"/><rect x="471.12" y="81.85" width="0.60" height="0.60"/><rect x="488.24" y="65.19" width="0.60" height="0.60"/><rect x="484.59" y="90.57" width="0.60" height="0.60"/><rect x="470.96" y="73.24" width="0.60" height="0.60"/><rect x="487.96" y="61.02" width="0.60" height="0.60"/><rect x="470.48" y="82.11" width="0.60" height="0.60"/><rect x="474.57" y="70.35" width="0.60" height="0.60"/><rect x="490.10" y="61.85" width="0.60" height="0.60"/><rect x="477.04" y="87.83" width="0.60" height="0.60"/><rect x="490.85" y="73.61" width="0.60" height="0.60"/><rect x="479.35" y="90.16" width="0.60" height="0.60"/><rect x="473.77" y="83.76" width="0.60" height="0.60"/><rect x="477.83" y="87.76" width="0.60" height="0.60"/><rect x="486.51" y="65.21" width="0.60" height="0.60"/><rect x="470.32" y="80.06" width="0.60" height="0.60"/><rect x="468.64" y="75.22" width="0.60" height="0.60"/><rect x="473.05" y="82.47" width="0.60" height="0.60"/><rect x="474.21" y="89.90" width="0.60" height="0.60"/><rect x="493.46" y="68.07" width="0.60" height="0.60"/><rect x="480.82" y="86.11" width="0.60" height="0.60"/><rect x="469.26" y="81.16" width="0.60" height="0.60"/><rect x="484.58" y="88.08" width="0.60" height="0.60"/><rect x="489.57" y="64.80" width="0.60" height="0.60"/><rect x="475.14" y="84.73" width="0.60" height="0.60"/><rect x="469.13" y="72.47" width="0.60" height="0.60"/><rect x="483.89" y="64.84" width="0.60" height="0.60"/><rect x="493.19" y="72.37" width="0.60" height="0.60"/><rect x="480.14" y="60.48" width="0.60" height="0.60"/><rect x="478.17" y="67.39" width="0.60" height="0.60"/><rect x="471.46" y="73.82" width="0.60" height="0.60"/><rect x="469.50" y="81.30" width="0.60" height="0.60"/><rect x="470.54" y="90.05" width="0.60" height="0.60"/><rect x="474.37" y="87.82" width="0.60" height="0.60"/><rect x="490.03" y="80.03" width="0.60" height="0.60"/><rect x="494.34" y="66.22" width="0.60" height="0.60"/><rect x="478.36" y="88.60" width="0.60" height="0.60"/><rect x="489.60" y="63.83" width="0.60" height="0.60"/><rect x="494.04" y="70.18" width="0.60" height="0.60"/><rect x="482.54" y="89.60" width="0.60" height="0.60"/><rect x="472.39" y="75.20" width="0.60" height="0.60"/><rect x="475.07" y="65.85" width="0.60" height="0.60"/><rect x="472.32" y="88.48" width="0.60" height="0.60"/><rect x="483.83" y="86.48" width="0.60" height="0.60"/><rect x="483.37" y="85.72" width="0.60" height="0.60"/><rect x="489.48" y="82.17" width="0.60" height="0.60"/><rect x="477.70" y="68.71" width="0.60" height="0.60"/><rect x="488.03" y="63.86" width="0.60" height="0.60"/><rect x="478.19" y="66.52" width="0.60" height="0.60"/><rect x="485.56" y="67.31" width="0.60" height="0.60"/><rect x="492.69" y="79.63" width="0.60" height="0.60"/><rect x="477.13" y="65.92" width="0.60" height="0.60"/><rect x="486.63" y="64.83" width="0.60" height="0.60"/><rect x="484.00" y="87.53" width="0.60" height="0.60"/><rect x="471.98" y="81.10" width="0.60" height="0.60"/><rect x="487.56" y="78.66" width="0.60" height="0.60"/><rect x="491.81" y="63.50" width="0.60" height="0.60"/><rect x="469.74" y="86.26" width="0.60" height="0.60"/><rect x="468.67" y="78.52" width="0.60" height="0.60"/><rect x="484.49" y="88.19" width="0.60" height="0.60"/><rect x="488.86" y="76.19" width="0.60" height="0.60"/><rect x="485.06" y="63.76" width="0.60" height="0.60"/><rect x="491.55" y="70.84" width="0.60" height="0.60"/><rect x="469.85" y="88.29" width="0.60" height="0.60"/><rect x="477.79" y="93.31" width="0.60" height="0.60"/><rect x="484.58" y="86.62" width="0.60" height="0.60"/><rect x="490.75" y="68.75" width="0.60" height="0.60"/><rect x="492.19" y="80.80" width="0.60" height="0.60"/><rect x="466.64" y="78.53" width="0.60" height="0.60"/><rect x="474.62" y="75.00" width="0.60" height="0.60"/><rect x="471.49" y="72.06" width="0.60" height="0.60"/><rect x="470.88" y="86.09" width="0.60" height="0.60"/><rect x="489.21" y="65.42" width="0.60" height="0.60"/><rect x="473.00" y="89.90" width="0.60" height="0.60"/><rect x="485.96" y="69.35" width="0.60" height="0.60"/><rect x="482.88" y="89.27" width="0.60" height="0.60"/><rect x="469.70" y="83.09" width="0.60" height="0.60"/><rect x="473.03" y="83.26" width="0.60" height="0.60"/><rect x="486.32" y="61.27" width="0.60" height="0.60"/><rect x="488.33" y="67.33" width="0.60" height="0.60"/><rect x="487.12" y="67.63" width="0.60" height="0.60"/><rect x="489.36" y="74.11" width="0.60" height="0.60"/><rect x="484.60" y="67.73" width="0.60" height="0.60"/><rect x="489.81" y="67.68" width="0.60" height="0.60"/><rect x="488.04" y="87.12" width="0.60" height="0.60"/><rect x="473.18" y="85.19" width="0.60" height="0.60"/><rect x="468.74" y="86.15" width="0.60" height="0.60"/><rect x="476.58" y="92.86" width="0.60" height="0.60"/><rect x="484.79" y="87.36" width="0.60" height="0.60"/><rect x="492.51" y="75.18" width="0.60" height="0.60"/><rect x="477.42" y="70.16" width="0.60" height="0.60"/><rect x="484.25" y="66.59" width="0.60" height="0.60"/><rect x="490.03" y="67.03" width="0.60" height="0.60"/><rect x="470.78" y="79.46" width="0.60" height="0.60"/><rect x="479.63" y="66.21" width="0.60" height="0.60"/><rect x="475.06" y="88.82" width="0.60" height="0.60"/><rect x="468.63" y="75.20" width="0.60" height="0.60"/><rect x="478.81" y="64.21" width="0.60" height="0.60"/><rect x="475.72" y="69.86" width="0.60" height="0.60"/><rect x="490.28" y="72.38" width="0.60" height="0.60"/><rect x="475.35" y="93.02" width="0.60" height="0.60"/><rect x="487.98" y="84.87" width="0.60" height="0.60"/><rect x="469.52" y="75.71" width="0.60" height="0.60"/><rect x="486.47" y="66.61" width="0.60" height="0.60"/><rect x="469.37" y="89.67" width="0.60" height="0.60"/><rect x="470.51" y="68.56" width="0.60" height="0.60"/><rect x="472.41" y="73.45" width="0.60" height="0.60"/><rect x="479.72" y="64.20" width="0.60" height="0.60"/><rect x="475.19" y="85.94" width="0.60" height="0.60"/><rect x="469.07" y="72.74" width="0.60" height="0.60"/><rect x="469.88" y="73.80" width="0.60" height="0.60"/><rect x="486.97" y="67.47" width="0.60" height="0.60"/><rect x="471.74" y="70.67" width="0.60" height="0.60"/><rect x="475.79" y="83.83" width="0.60" height="0.60"/><rect x="471.36" y="80.12" width="0.60" height="0.60"/><rect x="469.54" y="77.73" width="0.60" height="0.60"/><rect x="485.55" y="85.59" width="0.60" height="0.60"/><rect x="491.01" y="81.11" width="0.60" height="0.60"/><rect x="482.28" y="89.67" width="0.60" height="0.60"/><rect x="470.87" y="81.19" width="0.60" height="0.60"/><rect x="491.10" y="85.14" width="0.60" height="0.60"/><rect x="479.30" y="67.35" width="0.60" height="0.60"/><rect x="471.45" y="75.67" width="0.60" height="0.60"/><rect x="472.65" y="68.43" width="0.60" height="0.60"/><rect x="488.01" y="86.97" width="0.60" height="0.60"/><rect x="474.54" y="92.78" width="0.60" height="0.60"/><rect x="485.50" y="89.67" width="0.60" height="0.60"/><rect x="487.31" y="82.82" width="0.60" height="0.60"/><rect x="471.17" y="89.69" width="0.60" height="0.60"/><rect x="483.72" y="85.17" width="0.60" height="0.60"/><rect x="485.16" y="64.81" width="0.60" height="0.60"/><rect x="475.74" y="68.75" width="0.60" height="0.60"/><rect x="482.01" y="59.74" width="0.60" height="0.60"/><rect x="484.67" y="65.05" width="0.60" height="0.60"/><rect x="491.68" y="71.05" width="0.60" height="0.60"/><rect x="474.28" y="78.50" width="0.60" height="0.60"/><rect x="490.66" y="69.69" width="0.60" height="0.60"/><rect x="479.81" y="86.53" width="0.60" height="0.60"/><rect x="476.02" y="68.76" width="0.60" height="0.60"/><rect x="483.12" y="63.43" width="0.60" height="0.60"/><rect x="478.32" y="65.12" width="0.60" height="0.60"/><rect x="488.57" y="63.70" width="0.60" height="0.60"/><rect x="490.45" y="67.63" width="0.60" height="0.60"/><rect x="475.37" y="85.62" width="0.60" height="0.60"/><rect x="469.86" y="84.21" width="0.60" height="0.60"/><rect x="489.21" y="83.66" width="0.60" height="0.60"/><rect x="488.69" y="79.74" width="0.60" height="0.60"/><rect x="470.67" y="85.39" width="0.60" height="0.60"/><rect x="467.94" y="81.03" width="0.60" height="0.60"/><rect x="471.42" y="67.83" width="0.60" height="0.60"/><rect x="478.67" y="88.15" width="0.60" height="0.60"/><rect x="482.45" y="60.81" width="0.60" height="0.60"/><rect x="476.51" y="86.94" width="0.60" height="0.60"/><rect x="490.08" y="62.27" width="0.60" height="0.60"/><rect x="492.66" y="75.35" width="0.60" height="0.60"/><rect x="485.12" y="66.17" width="0.60" height="0.60"/><rect x="485.67" y="89.85" width="0.60" height="0.60"/><rect x="492.74" y="75.15" width="0.60" height="0.60"/><rect x="473.70" y="78.88" width="0.60" height="0.60"/><rect x="480.41" y="66.74" width="0.60" height="0.60"/><rect x="491.45" y="74.37" width="0.60" height="0.60"/><rect x="474.51" y="67.29" width="0.60" height="0.60"/><rect x="484.51" y="87.28" width="0.60" height="0.60"/><rect x="486.87" y="84.39" width="0.60" height="0.60"/><rect x="487.88" y="88.92" width="0.60" height="0.60"/><rect x="485.78" y="90.32" width="0.60" height="0.60"/><rect x="493.23" y="81.61" width="0.60" height="0.60"/><rect x="479.58" y="89.31" width="0.60" height="0.60"/><rect x="484.89" y="90.88" width="0.60" height="0.60"/><rect x="489.59" y="67.20" width="0.60" height="0.60"/><rect x="480.04" y="86.81" width="0.60" height="0.60"/><rect x="490.37" y="77.27" width="0.60" height="0.60"/><rect x="482.78" y="64.99" width="0.60" height="0.60"/><rect x="480.39" y="60.52" width="0.60" height="0.60"/><rect x="492.99" y="77.31" width="0.60" height="0.60"/><rect x="469.19" y="85.38" width="0.60" height="0.60"/><rect x="489.88" y="82.50" width="0.60" height="0.60"/><rect x="473.16" y="72.63" width="0.60" height="0.60"/><rect x="486.40" y="68.28" width="0.60" height="0.60"/><rect x="468.93" y="77.22" width="0.60" height="0.60"/><rect x="469.34" y="81.92" width="0.60" height="0.60"/><rect x="478.49" y="62.43" width="0.60" height="0.60"/><rect x="468.93" y="72.25" width="0.60" height="0.60"/><rect x="472.77" y="72.87" width="0.60" height="0.60"/><rect x="472.35" y="79.92" width="0.60" height="0.60"/><rect x="487.52" y="69.30" width="0.60" height="0.60"/><rect x="473.05" y="69.15" width="0.60" height="0.60"/><rect x="494.19" y="74.28" width="0.60" height="0.60"/><rect x="480.48" y="90.19" width="0.60" height="0.60"/></g>
<g fill="#555" fill-opacity="0.5"><rect x="484.55" y="85.46" width="0.60" height="0.60"/><rect x="472.28" y="76.55" width="0.60" height="0.60"/><rect x="484.94" y="76.96" width="0.60" height="0.60"/><rect x="478.76" y="77.06" width="0.60" height="0.60"/><rect x="482.62" y="79.82" width="0.60" height="0.60"/><rect x="476.69" y="69.51" width="0.60" height="0.60"/><rect x="472.53" y="81.80" width="0.60" height="0.60"/><rect x="481.59" y="82.48" width="0.60" height="0.60"/><rect x="480.84" y="71.13" width="0.60" height="0.60"/><rect x="472.29" y="75.66" width="0.60" height="0.60"/><rect x="478.24" y="69.04" width="0.60" height="0.60"/><rect x="476.84" y="75.24" width="0.60" height="0.60"/><rect x="487.70" y="73.98" width="0.60" height="0.60"/><rect x="479.06" y="85.30" width="0.60" height="0.60"/><rect x="480.56" y="79.26" width="0.60" height="0.60"/><rect x="474.64" y="71.48" width="0.60" height="0.60"/><rect x="479.76" y="71.42" width="0.60" height="0.60"/><rect x="475.67" y="86.54" width="0.60" height="0.60"/><rect x="479.93" y="87.24" width="0.60" height="0.60"/><rect x="486.10" y="73.96" width="0.60" height="0.60"/><rect x="476.55" y="72.37" width="0.60" height="0.60"/><rect x="488.17" y="76.31" width="0.60" height="0.60"/><rect x="477.41" y="75.36" width="0.60" height="0.60"/><rect x="478.45" y="73.18" width="0.60" height="0.60"/><rect x="480.14" y="81.16" width="0.60" height="0.60"/><rect x="478.35" y="80.85" width="0.60" height="0.60"/><rect x="487.32" y="80.94" width="0.60" height="0.60"/><rect x="488.57" y="70.26" width="0.60" height="0.60"/><rect x="475.97" y="78.64" width="0.60" height="0.60"/><rect x="486.78" y="76.06" width="0.60" height="0.60"/><rect x="483.71" y="69.61" width="0.60" height="0.60"/><rect x="481.47" y="87.42" width="0.60" height="0.60"/><rect x="479.91" y="68.59" width="0.60" height="0.60"/><rect x="478.68" y="77.37" width="0.60" height="0.60"/><rect x="478.07" y="73.64" width="0.60" height="0.60"/><rect x="484.32" y="86.09" width="0.60" height="0.60"/><rect x="485.03" y="73.52" width="0.60" height="0.60"/><rect x="484.21" y="69.73" width="0.60" height="0.60"/><rect x="476.76" y="72.91" width="0.60" height="0.60"/><rect x="481.30" y="69.20" width="0.60" height="0.60"/><rect x="479.27" y="80.61" width="0.60" height="0.60"/><rect x="475.65" y="82.74" width="0.60" height="0.60"/><rect x="481.68" y="78.34" width="0.60" height="0.60"/><rect x="488.77" y="72.91" width="0.60" height="0.60"/><rect x="488.77" y="75.41" width="0.60" height="0.60"/><rect x="483.57" y="80.20" width="0.60" height="0.60"/><rect x="487.16" y="70.71" width="0.60" height="0.60"/><rect x="484.93" y="82.14" width="0.60" height="0.60"/><rect x="483.09" y="66.61" width="0.60" height="0.60"/><rect x="481.70" y="68.23" width="0.60" height="0.60"/><rect x="477.00" y="79.93" width="0.60" height="0.60"/><rect x="484.50" y="68.02" width="0.60" height="0.60"/><rect x="487.09" y="66.85" width="0.60" height="0.60"/><rect x="482.47" y="71.34" width="0.60" height="0.60"/><rect x="482.02" y="76.99" width="0.60" height="0.60"/><rect x="475.60" y="70.68" width="0.60" height="0.60"/><rect x="482.15" y="76.05" width="0.60" height="0.60"/><rect x="477.86" y="76.75" width="0.60" height="0.60"/><rect x="480.21" y="76.21" width="0.60" height="0.60"/><rect x="479.71" y="67.13" width="0.60" height="0.60"/><rect x="478.05" y="84.28" width="0.60" height="0.60"/><rect x="489.38" y="74.98" width="0.60" height="0.60"/><rect x="473.75" y="82.52" width="0.60" height="0.60"/><rect x="481.27" y="67.41" width="0.60" height="0.60"/><rect x="480.36" y="74.90" width="0.60" height="0.60"/><rect x="490.12" y="72.58" width="0.60" height="0.60"/><rect x="476.90" y="73.36" width="0.60" height="0.60"/><rect x="476.67" y="71.50" width="0.60" height="0.60"/><rect x="479.60" y="70.72" width="0.60" height="0.60"/><rect x="476.14" y="78.01" width="0.60" height="0.60"/><rect x="480.67" y="76.06" width="0.60" height="0.60"/><rect x="487.90" y="71.30" width="0.60" height="0.60"/><rect x="476.24" y="83.15" width="0.60" height="0.60"/><rect x="488.97" y="79.59" width="0.60" height="0.60"/><rect x="478.23" y="73.74" width="0.60" height="0.60"/><rect x="485.59" y="82.97" width="0.60" height="0.60"/><rect x="488.41" y="74.87" width="0.60" height="0.60"/><rect x="472.71" y="76.67" width="0.60" height="0.60"/><rect x="473.17" y="75.19" width="0.60" height="0.60"/><rect x="476.59" y="77.48" width="0.60" height="0.60"/><rect x="477.42" y="80.70" width="0.60" height="0.60"/><rect x="483.89" y="80.79" width="0.60" height="0.60"/><rect x="472.05" y="80.18" width="0.60" height="0.60"/><rect x="480.66" y="86.89" width="0.60" height="0.60"/><rect x="483.01" y="70.89" width="0.60" height="0.60"/><rect x="472.47" y="81.99" width="0.60" height="0.60"/><rect x="477.95" y="70.22" width="0.60" height="0.60"/><rect x="477.15" y="80.69" width="0.60" height="0.60"/><rect x="483.79" y="84.85" width="0.60" height="0.60"/><rect x="475.68" y="79.83" width="0.60" height="0.60"/><rect x="475.18" y="78.19" width="0.60" height="0.60"/><rect x="477.24" y="84.36" width="0.60" height="0.60"/><rect x="478.84" y="81.64" width="0.60" height="0.60"/><rect x="483.55" y="72.55" width="0.60" height="0.60"/><rect x="484.33" y="73.04" width="0.60" height="0.60"/><rect x="478.24" y="86.93" width="0.60" height="0.60"/><rect x="485.12" y="76.69" width="0.60" height="0.60"/><rect x="483.86" y="69.78" width="0.60" height="0.60"/><rect x="485.78" y="71.97" width="0.60" height="0.60"/><rect x="479.93" y="85.33" width="0.60" height="0.60"/><rect x="484.38" y="85.63" width="0.60" height="0.60"/><rect x="481.87" y="74.07" width="0.60" height="0.60"/><rect x="483.92" y="84.08" width="0.60" height="0.60"/><rect x="482.28" y="85.24" width="0.60" height="0.60"/><rect x="476.44" y="84.21" width="0.60" height="0.60"/><rect x="481.69" y="66.11" width="0.60" height="0.60"/><rect x="478.56" y="76.72" width="0.60" height="0.60"/><rect x="477.54" y="75.03" width="0.60" height="0.60"/><rect x="486.88" y="80.29" width="0.60" height="0.60"/><rect x="472.38" y="81.64" width="0.60" height="0.60"/><rect x="480.96" y="67.98" width="0.60" height="0.60"/><rect x="476.89" y="70.91" width="0.60" height="0.60"/><rect x="486.75" y="74.79" width="0.60" height="0.60"/><rect x="485.96" y="77.46" width="0.60" height="0.60"/><rect x="485.88" y="66.64" width="0.60" height="0.60"/><rect x="480.13" y="80.69" width="0.60" height="0.60"/><rect x="484.46" y="76.31" width="0.60" height="0.60"/><rect x="478.86" y="85.12" width="0.60" height="0.60"/><rect x="480.58" y="70.45" width="0.60" height="0.60"/><rect x="485.17" y="67.05" width="0.60" height="0.60"/><rect x="477.06" y="78.21" width="0.60" height="0.60"/><rect x="477.04" y="84.66" width="0.60" height="0.60"/><rect x="478.43" y="84.18" width="0.60" height="0.60"/><rect x="487.15" y="67.51" width="0.60" height="0.60"/><rect x="485.13" y="69.62" width="0.60" height="0.60"/><rect x="483.87" y="85.07" width="0.60" height="0.60"/><rect x="480.14" y="85.47" width="0.60" height="0.60"/><rect x="479.92" y="87.20" width="0.60" height="0.60"/><rect x="488.92" y="75.03" width="0.60" height="0.60"/><rect x="474.66" y="85.52" width="0.60" height="0.60"/><rect x="476.03" y="81.54" width="0.60" height="0.60"/><rect x="481.79" y="83.42" width="0.60" height="0.60"/><rect x="480.90" y="75.79" width="0.60" height="0.60"/><rect x="476.23" y="81.99" width="0.60" height="0.60"/><rect x="479.40" y="75.19" width="0.60" height="0.60"/><rect x="479.17" y="84.24" width="0.60" height="0.60"/><rect x="480.45" y="77.90" width="0.60" height="0.60"/><rect x="478.37" y="81.99" width="0.60" height="0.60"/><rect x="489.00" y="69.95" width="0.60" height="0.60"/><rect x="487.92" y="74.69" width="0.60" height="0.60"/><rect x="484.57" y="67.58" width="0.60" height="0.60"/><rect x="484.33" y="83.24" width="0.60" height="0.60"/><rect x="478.26" y="82.44" width="0.60" height="0.60"/><rect x="481.59" y="68.84" width="0.60" height="0.60"/><rect x="474.32" y="83.87" width="0.60" height="0.60"/><rect x="473.11" y="83.61" width="0.60" height="0.60"/><rect x="482.86" y="82.16" width="0.60" height="0.60"/><rect x="485.90" y="84.05" width="0.60" height="0.60"/><rect x="477.32" y="73.08" width="0.60" height="0.60"/><rect x="476.81" y="78.38" width="0.60" height="0.60"/></g>
<rect x="465.70" y="55.70" width="35.60" height="36.60" stroke="#555" stroke-width="0.9" fill="none" />
<text x="72.50" y="163.60" font-size="10.5" text-anchor="start" font-weight="bold" >C</text>
<line x1="110.80" y1="174.50" x2="110.80" y2="269.60" stroke="#222" stroke-width="1.1" />
<line x1="110.80" y1="269.60" x2="254.00" y2="269.60" stroke="#222" stroke-width="1.1" />
<line x1="107.90" y1="269.60" x2="110.80" y2="269.60" stroke="#222" stroke-width="1.0" />
<text x="105.80" y="273.20" font-size="8.6" text-anchor="end" font-weight="normal" >0</text>
<line x1="107.90" y1="245.85" x2="110.80" y2="245.85" stroke="#222" stroke-width="1.0" />
<text x="105.80" y="249.45" font-size="8.6" text-anchor="end" font-weight="normal" >10</text>
<line x1="107.90" y1="222.10" x2="110.80" y2="222.10" stroke="#222" stroke-width="1.0" />
<text x="105.80" y="225.70" font-size="8.6" text-anchor="end" font-weight="normal" >20</text>
<line x1="107.90" y1="198.35" x2="110.80" y2="198.35" stroke="#222" stroke-width="1.0" />
<text x="105.80" y="201.95" font-size="8.6" text-anchor="end" font-weight="normal" >30</text>
<line x1="107.90" y1="174.60" x2="110.80" y2="174.60" stroke="#222" stroke-width="1.0" />
<text x="105.80" y="178.20" font-size="8.6" text-anchor="end" font-weight="normal" >40</text>
<line x1="129.00" y1="269.60" x2="129.00" y2="272.60" stroke="#000" stroke-width="1.0" />
<text x="126.20" y="281.40" font-size="8.8" text-anchor="middle" font-weight="normal" >20:1</text>
<line x1="165.00" y1="269.60" x2="165.00" y2="272.60" stroke="#000" stroke-width="1.0" />
<text x="161.40" y="281.40" font-size="8.8" text-anchor="middle" font-weight="normal" >10:1</text>
<line x1="200.20" y1="269.60" x2="200.20" y2="272.60" stroke="#000" stroke-width="1.0" />
<text x="199.40" y="281.40" font-size="8.8" text-anchor="middle" font-weight="normal" >5:1</text>
<line x1="236.60" y1="269.60" x2="236.60" y2="272.60" stroke="#000" stroke-width="1.0" />
<text x="235.70" y="281.40" font-size="8.8" text-anchor="middle" font-weight="normal" >1:1</text>
<text x="167.60" y="291.00" font-size="9.1" text-anchor="middle" font-weight="normal" >Effector: target</text>
<text x="0.00" y="0.00" font-size="9.8" text-anchor="middle" font-weight="normal" transform="translate(88.9,222) rotate(-90)">Tumor lysis(%)</text>
<polyline points="129.00,247.51 165.00,260.10 200.20,266.28 236.60,269.12" stroke="#000" stroke-width="0.9" fill="none" stroke-linejoin="round" />
<polyline points="129.00,254.40 165.00,262.00 200.20,266.28 236.60,269.12" stroke="#000" stroke-width="0.9" fill="none" stroke-linejoin="round" />
<polyline points="129.00,205.95 165.00,217.83 200.20,233.98 236.60,266.28" stroke="#000" stroke-width="0.9" fill="none" stroke-linejoin="round" />
<polyline points="129.00,206.43 165.00,227.80 200.20,234.45 236.60,267.70" stroke="#000" stroke-width="0.9" fill="none" stroke-linejoin="round" />
<line x1="129.00" y1="200.73" x2="129.00" y2="211.18" stroke="#000" stroke-width="0.9" />
<line x1="126.60" y1="200.73" x2="131.40" y2="200.73" stroke="#000" stroke-width="0.9" />
<line x1="126.60" y1="211.18" x2="131.40" y2="211.18" stroke="#000" stroke-width="0.9" />
<line x1="165.00" y1="213.55" x2="165.00" y2="222.10" stroke="#000" stroke-width="0.9" />
<line x1="162.60" y1="213.55" x2="167.40" y2="213.55" stroke="#000" stroke-width="0.9" />
<line x1="162.60" y1="222.10" x2="167.40" y2="222.10" stroke="#000" stroke-width="0.9" />
<line x1="200.20" y1="232.08" x2="200.20" y2="235.88" stroke="#000" stroke-width="0.9" />
<line x1="197.80" y1="232.08" x2="202.60" y2="232.08" stroke="#000" stroke-width="0.9" />
<line x1="197.80" y1="235.88" x2="202.60" y2="235.88" stroke="#000" stroke-width="0.9" />
<line x1="236.60" y1="265.09" x2="236.60" y2="267.46" stroke="#000" stroke-width="0.9" />
<line x1="234.20" y1="265.09" x2="239.00" y2="265.09" stroke="#000" stroke-width="0.9" />
<line x1="234.20" y1="267.46" x2="239.00" y2="267.46" stroke="#000" stroke-width="0.9" />
<line x1="129.00" y1="200.49" x2="129.00" y2="212.36" stroke="#000" stroke-width="0.9" />
<line x1="126.60" y1="200.49" x2="131.40" y2="200.49" stroke="#000" stroke-width="0.9" />
<line x1="126.60" y1="212.36" x2="131.40" y2="212.36" stroke="#000" stroke-width="0.9" />
<line x1="165.00" y1="224.24" x2="165.00" y2="231.36" stroke="#000" stroke-width="0.9" />
<line x1="162.60" y1="224.24" x2="167.40" y2="224.24" stroke="#000" stroke-width="0.9" />
<line x1="162.60" y1="231.36" x2="167.40" y2="231.36" stroke="#000" stroke-width="0.9" />
<line x1="200.20" y1="232.55" x2="200.20" y2="236.35" stroke="#000" stroke-width="0.9" />
<line x1="197.80" y1="232.55" x2="202.60" y2="232.55" stroke="#000" stroke-width="0.9" />
<line x1="197.80" y1="236.35" x2="202.60" y2="236.35" stroke="#000" stroke-width="0.9" />
<line x1="236.60" y1="266.51" x2="236.60" y2="268.89" stroke="#000" stroke-width="0.9" />
<line x1="234.20" y1="266.51" x2="239.00" y2="266.51" stroke="#000" stroke-width="0.9" />
<line x1="234.20" y1="268.89" x2="239.00" y2="268.89" stroke="#000" stroke-width="0.9" />
<rect x="126.30" y="251.70" width="5.4" height="5.4" fill="none" stroke="#000" stroke-width="0.9"/>
<rect x="162.30" y="259.30" width="5.4" height="5.4" fill="none" stroke="#000" stroke-width="0.9"/>
<rect x="197.50" y="263.58" width="5.4" height="5.4" fill="none" stroke="#000" stroke-width="0.9"/>
<rect x="233.90" y="266.43" width="5.4" height="5.4" fill="none" stroke="#000" stroke-width="0.9"/>
<circle cx="129.00" cy="247.51" r="2.8" fill="none" stroke="#000" stroke-width="0.9"/>
<circle cx="165.00" cy="260.10" r="2.8" fill="none" stroke="#000" stroke-width="0.9"/>
<circle cx="200.20" cy="266.28" r="2.8" fill="none" stroke="#000" stroke-width="0.9"/>
<circle cx="236.60" cy="269.12" r="2.8" fill="none" stroke="#000" stroke-width="0.9"/>
<rect x="126.30" y="203.73" width="5.4" height="5.4" fill="#000" stroke="#000" stroke-width="0.9"/>
<rect x="162.30" y="225.10" width="5.4" height="5.4" fill="#000" stroke="#000" stroke-width="0.9"/>
<rect x="197.50" y="231.75" width="5.4" height="5.4" fill="#000" stroke="#000" stroke-width="0.9"/>
<rect x="233.90" y="265.00" width="5.4" height="5.4" fill="#000" stroke="#000" stroke-width="0.9"/>
<circle cx="129.00" cy="205.95" r="2.8" fill="#000" stroke="#000" stroke-width="0.9"/>
<circle cx="165.00" cy="217.83" r="2.8" fill="#000" stroke="#000" stroke-width="0.9"/>
<circle cx="200.20" cy="233.98" r="2.8" fill="#000" stroke="#000" stroke-width="0.9"/>
<circle cx="236.60" cy="266.28" r="2.8" fill="#000" stroke="#000" stroke-width="0.9"/>
<line x1="148.30" y1="158.70" x2="158.60" y2="158.70" stroke="#000" stroke-width="0.9" />
<circle cx="153.40" cy="158.70" r="2.75" fill="none" stroke="#000" stroke-width="0.9"/>
<text x="164.60" y="161.50" font-size="7.4" text-anchor="start" font-weight="normal" >MC38+CXCR2 T cell</text>
<line x1="148.30" y1="169.60" x2="158.60" y2="169.60" stroke="#000" stroke-width="0.9" />
<rect x="150.65" y="166.85" width="5.5" height="5.5" fill="none" stroke="#000" stroke-width="0.9"/>
<text x="164.60" y="172.40" font-size="7.4" text-anchor="start" font-weight="normal" >MC38+OFL T cell</text>
<line x1="148.30" y1="180.60" x2="158.60" y2="180.60" stroke="#000" stroke-width="0.9" />
<circle cx="153.40" cy="180.60" r="2.75" fill="#000" stroke="#000" stroke-width="0.9"/>
<text x="164.60" y="183.40" font-size="7.4" text-anchor="start" font-weight="normal" >MC38/gp100+CXCR2 T cell</text>
<line x1="148.30" y1="191.30" x2="158.60" y2="191.30" stroke="#000" stroke-width="0.9" />
<rect x="150.65" y="188.55" width="5.5" height="5.5" fill="#000" stroke="#000" stroke-width="0.9"/>
<text x="164.60" y="194.10" font-size="7.4" text-anchor="start" font-weight="normal" >MC38/gp100+OFL T cell</text>
<text x="268.00" y="164.00" font-size="10.5" text-anchor="start" font-weight="bold" >D</text>
<line x1="313.50" y1="173.50" x2="313.50" y2="258.00" stroke="#222" stroke-width="1.0" />
<line x1="313.50" y1="258.00" x2="449.80" y2="258.00" stroke="#222" stroke-width="1.0" />
<line x1="310.50" y1="258.00" x2="313.50" y2="258.00" stroke="#000" stroke-width="1.0" />
<text x="309.60" y="261.10" font-size="8.6" text-anchor="end" font-weight="normal" >0</text>
<line x1="310.50" y1="241.28" x2="313.50" y2="241.28" stroke="#000" stroke-width="1.0" />
<text x="309.60" y="244.38" font-size="8.6" text-anchor="end" font-weight="normal" >20</text>
<line x1="310.50" y1="224.56" x2="313.50" y2="224.56" stroke="#000" stroke-width="1.0" />
<text x="309.60" y="227.66" font-size="8.6" text-anchor="end" font-weight="normal" >40</text>
<line x1="310.50" y1="207.84" x2="313.50" y2="207.84" stroke="#000" stroke-width="1.0" />
<text x="309.60" y="210.94" font-size="8.6" text-anchor="end" font-weight="normal" >60</text>
<line x1="310.50" y1="191.12" x2="313.50" y2="191.12" stroke="#000" stroke-width="1.0" />
<text x="309.60" y="194.22" font-size="8.6" text-anchor="end" font-weight="normal" >80</text>
<line x1="310.50" y1="174.40" x2="313.50" y2="174.40" stroke="#000" stroke-width="1.0" />
<text x="309.60" y="177.50" font-size="8.6" text-anchor="end" font-weight="normal" >100</text>
<line x1="349.00" y1="258.00" x2="349.00" y2="260.50" stroke="#000" stroke-width="1.0" />
<line x1="387.00" y1="258.00" x2="387.00" y2="260.50" stroke="#000" stroke-width="1.0" />
<line x1="415.20" y1="258.00" x2="415.20" y2="260.50" stroke="#000" stroke-width="1.0" />
<rect x="394.0" y="208.10" width="17.6" height="49.90" fill="#000"/>
<rect x="419.4" y="210.80" width="17.1" height="47.20" fill="#000"/>
<line x1="402.80" y1="186.70" x2="402.80" y2="208.10" stroke="#000" stroke-width="1.0" />
<line x1="398.20" y1="186.70" x2="407.60" y2="186.70" stroke="#000" stroke-width="1.1" />
<line x1="427.90" y1="202.30" x2="427.90" y2="210.80" stroke="#000" stroke-width="1.0" />
<line x1="423.50" y1="202.30" x2="432.30" y2="202.30" stroke="#000" stroke-width="1.1" />
<text x="0.00" y="0.00" font-size="9.3" text-anchor="middle" font-weight="normal" transform="translate(284.0,214) rotate(-90)">IFN-γ production</text>
<text x="0.00" y="0.00" font-size="9.3" text-anchor="middle" font-weight="normal" transform="translate(294.2,214) rotate(-90)">(ng/mL)</text>
<text x="296.50" y="270.10" font-size="8.1" text-anchor="middle" font-weight="normal" >T cells</text>
<text x="333.30" y="270.10" font-size="8.1" text-anchor="middle" font-weight="normal" >OFL</text>
<text x="369.60" y="270.90" font-size="8.1" text-anchor="middle" font-weight="normal" >CXCR2</text>
<text x="401.60" y="270.70" font-size="8.1" text-anchor="middle" font-weight="normal" >OFL</text>
<text x="432.80" y="270.70" font-size="8.1" text-anchor="middle" font-weight="normal" >CXCR2</text>
<text x="297.00" y="286.10" font-size="8.1" text-anchor="middle" font-weight="normal" >Tumor</text>
<text x="333.30" y="286.10" font-size="8.1" text-anchor="middle" font-weight="normal" >MC38</text>
<text x="369.60" y="286.90" font-size="8.1" text-anchor="middle" font-weight="normal" >MC38</text>
<text x="400.80" y="282.10" font-size="8.1" text-anchor="middle" font-weight="normal" >MC38/</text>
<text x="400.60" y="291.60" font-size="8.1" text-anchor="middle" font-weight="normal" >gp100</text>
<text x="431.60" y="282.10" font-size="8.1" text-anchor="middle" font-weight="normal" >MC38/</text>
<text x="431.40" y="291.60" font-size="8.1" text-anchor="middle" font-weight="normal" >gp100</text>
<rect x="0" y="0" width="520" height="1" fill="#7f2430"/>
<rect x="0" y="0" width="1" height="307" fill="#7a2230"/>
<rect x="519" y="0" width="1" height="307" fill="#7f2230"/>
<rect x="0" y="306" width="520" height="1" fill="#931a2f"/>
</svg>
</body></html>
